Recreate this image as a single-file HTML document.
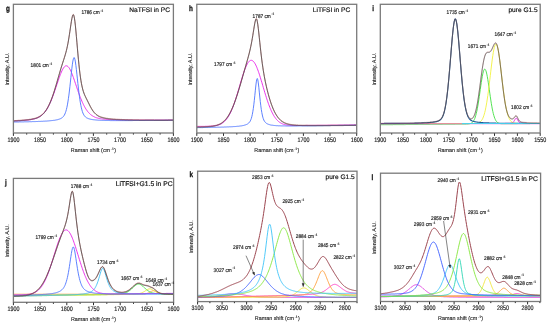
<!DOCTYPE html>
<html><head><meta charset="utf-8"><title>Raman spectra</title><style>html,body{margin:0;padding:0;background:#fff;overflow:hidden;}svg{display:block;}text{text-rendering:geometricPrecision;}</style></head>
<body>
<svg width="550" height="325" viewBox="0 0 550 325" font-family="'Liberation Sans', Arial, sans-serif">
<defs><marker id="arr" viewBox="0 0 10 10" refX="9" refY="5" markerWidth="6" markerHeight="6" orient="auto"><path d="M0,1 L10,5 L0,9 z" fill="#333"/></marker></defs>
<rect width="550" height="325" fill="#fff"/>
<clipPath id="cg"><rect x="13.4" y="4.3" width="160" height="128.7"/></clipPath>
<g clip-path="url(#cg)" fill="none" stroke-linejoin="round">
<polyline points="13.4,121 13.9,121 14.4,121 14.9,121 15.4,120.9 15.9,120.9 16.4,120.9 16.9,120.9 17.4,120.8 17.9,120.8 18.4,120.8 18.9,120.7 19.4,120.7 19.9,120.7 20.4,120.7 20.9,120.6 21.4,120.6 21.9,120.5 22.4,120.5 22.9,120.5 23.4,120.4 23.9,120.4 24.4,120.4 24.9,120.3 25.4,120.3 25.9,120.2 26.4,120.2 26.9,120.1 27.4,120.1 27.9,120 28.4,120 28.9,119.9 29.4,119.8 29.9,119.8 30.4,119.7 30.9,119.6 31.4,119.5 31.9,119.4 32.4,119.3 32.9,119.2 33.4,119.1 33.9,119 34.4,118.9 34.9,118.8 35.4,118.6 35.9,118.4 36.4,118.3 36.9,118.1 37.4,117.9 37.9,117.7 38.4,117.4 38.9,117.2 39.4,116.9 39.9,116.6 40.4,116.3 40.9,115.9 41.4,115.5 41.9,115.1 42.4,114.7 42.9,114.2 43.4,113.7 43.9,113.2 44.4,112.6 44.9,112 45.4,111.3 45.9,110.6 46.4,109.9 46.9,109.1 47.4,108.3 47.9,107.4 48.4,106.5 48.9,105.5 49.4,104.5 49.9,103.4 50.4,102.3 50.9,101.2 51.4,100 51.9,98.7 52.4,97.4 52.9,96.1 53.4,94.7 53.9,93.4 54.4,91.9 54.9,90.5 55.4,89 55.9,87.5 56.4,86 56.9,84.5 57.4,83 57.9,81.6 58.4,80.1 58.9,78.6 59.4,77.2 59.9,75.8 60.4,74.5 60.9,73.2 61.4,72 61.9,70.9 62.4,69.9 62.9,69 63.4,68.1 63.9,67.4 64.4,66.8 64.9,66.4 65.4,66 65.9,65.8 66.4,65.8 66.9,65.9 67.4,66.1 67.9,66.5 68.4,67 68.9,67.6 69.4,68.3 69.9,69.2 70.4,70.1 70.9,71.2 71.4,72.3 71.9,73.5 72.4,74.8 72.9,76.2 73.4,77.5 73.9,79 74.4,80.4 74.9,81.9 75.4,83.4 75.9,84.8 76.4,86.3 76.9,87.8 77.4,89.3 77.9,90.7 78.4,92.2 78.9,93.6 79.4,94.9 79.9,96.3 80.4,97.6 80.9,98.8 81.4,100 81.9,101.2 82.4,102.4 82.9,103.4 83.4,104.5 83.9,105.5 84.4,106.4 84.9,107.3 85.4,108.2 85.9,109 86.4,109.7 86.9,110.4 87.4,111.1 87.9,111.8 88.4,112.3 88.9,112.9 89.4,113.4 89.9,113.9 90.4,114.3 90.9,114.8 91.4,115.2 91.9,115.5 92.4,115.8 92.9,116.1 93.4,116.4 93.9,116.7 94.4,116.9 94.9,117.1 95.4,117.4 95.9,117.5 96.4,117.7 96.9,117.9 97.4,118 97.9,118.2 98.4,118.3 98.9,118.4 99.4,118.5 99.9,118.6 100.4,118.7 100.9,118.8 101.4,118.8 101.9,118.9 102.4,119 102.9,119 103.4,119.1 103.9,119.2 104.4,119.2 104.9,119.2 105.4,119.3 105.9,119.3 106.4,119.4 106.9,119.4 107.4,119.4 107.9,119.5 108.4,119.5 108.9,119.5 109.4,119.6 109.9,119.6 110.4,119.6 110.9,119.6 111.4,119.7 111.9,119.7 112.4,119.7 112.9,119.7 113.4,119.8 113.9,119.8 114.4,119.8 114.9,119.8 115.4,119.8 115.9,119.8 116.4,119.9 116.9,119.9 117.4,119.9 117.9,119.9 118.4,119.9 118.9,119.9 119.4,119.9 119.9,120 120.4,120 120.9,120 121.4,120 121.9,120 122.4,120 122.9,120 123.4,120 123.9,120 124.4,120.1 124.9,120.1 125.4,120.1 125.9,120.1 126.4,120.1 126.9,120.1 127.4,120.1 127.9,120.1 128.4,120.1 128.9,120.1 129.4,120.1 129.9,120.1 130.4,120.1 130.9,120.1 131.4,120.1 131.9,120.1 132.4,120.2 132.9,120.2 133.4,120.2 133.9,120.2 134.4,120.2 134.9,120.2 135.4,120.2 135.9,120.2 136.4,120.2 136.9,120.2 137.4,120.2 137.9,120.2 138.4,120.2 138.9,120.2 139.4,120.2 139.9,120.2 140.4,120.2 140.9,120.2 141.4,120.2 141.9,120.2 142.4,120.2 142.9,120.2 143.4,120.2 143.9,120.2 144.4,120.2 144.9,120.2 145.4,120.2 145.9,120.2 146.4,120.2 146.9,120.2 147.4,120.2 147.9,120.2 148.4,120.2 148.9,120.2 149.4,120.2 149.9,120.2 150.4,120.2 150.9,120.2 151.4,120.2 151.9,120.2 152.4,120.2 152.9,120.2 153.4,120.2 153.9,120.2 154.4,120.2 154.9,120.2 155.4,120.2 155.9,120.2 156.4,120.2 156.9,120.2 157.4,120.2 157.9,120.2 158.4,120.2 158.9,120.2 159.4,120.2 159.9,120.2 160.4,120.2 160.9,120.2 161.4,120.2 161.9,120.2 162.4,120.2 162.9,120.2 163.4,120.2 163.9,120.2 164.4,120.2 164.9,120.2 165.4,120.2 165.9,120.2 166.4,120.2 166.9,120.2 167.4,120.2 167.9,120.2 168.4,120.2 168.9,120.2 169.4,120.2 169.9,120.1 170.4,120.1 170.9,120.1 171.4,120.1 171.9,120.1 172.4,120.1 172.9,120.1 173.4,120.1" stroke="#e81ee8" stroke-width="0.9"/>
<polyline points="13.4,122.1 13.9,122.1 14.4,122 14.9,122 15.4,122 15.9,122 16.4,122 16.9,122 17.4,122 17.9,122 18.4,122 18.9,122 19.4,121.9 19.9,121.9 20.4,121.9 20.9,121.9 21.4,121.9 21.9,121.9 22.4,121.9 22.9,121.9 23.4,121.9 23.9,121.9 24.4,121.8 24.9,121.8 25.4,121.8 25.9,121.8 26.4,121.8 26.9,121.8 27.4,121.8 27.9,121.8 28.4,121.8 28.9,121.7 29.4,121.7 29.9,121.7 30.4,121.7 30.9,121.7 31.4,121.7 31.9,121.7 32.4,121.6 32.9,121.6 33.4,121.6 33.9,121.6 34.4,121.6 34.9,121.6 35.4,121.6 35.9,121.5 36.4,121.5 36.9,121.5 37.4,121.5 37.9,121.5 38.4,121.4 38.9,121.4 39.4,121.4 39.9,121.4 40.4,121.4 40.9,121.3 41.4,121.3 41.9,121.3 42.4,121.3 42.9,121.3 43.4,121.2 43.9,121.2 44.4,121.2 44.9,121.1 45.4,121.1 45.9,121.1 46.4,121.1 46.9,121 47.4,121 47.9,120.9 48.4,120.9 48.9,120.9 49.4,120.8 49.9,120.8 50.4,120.7 50.9,120.7 51.4,120.6 51.9,120.6 52.4,120.5 52.9,120.5 53.4,120.4 53.9,120.3 54.4,120.3 54.9,120.2 55.4,120.1 55.9,120 56.4,119.9 56.9,119.8 57.4,119.7 57.9,119.6 58.4,119.4 58.9,119.3 59.4,119.1 59.9,118.9 60.4,118.7 60.9,118.5 61.4,118.2 61.9,117.9 62.4,117.5 62.9,117 63.4,116.5 63.9,115.8 64.4,115 64.9,114 65.4,112.7 65.9,111.3 66.4,109.5 66.9,107.4 67.4,104.9 67.9,102 68.4,98.7 68.9,95.1 69.4,91 69.9,86.7 70.4,82.1 70.9,77.4 71.4,72.7 71.9,68.2 72.4,64.2 72.9,61 73.4,58.7 73.9,57.6 74.4,57.8 74.9,59.3 75.4,61.9 75.9,65.5 76.4,69.7 76.9,74.2 77.4,78.9 77.9,83.6 78.4,88.1 78.9,92.3 79.4,96.2 79.9,99.8 80.4,102.9 80.9,105.6 81.4,107.9 81.9,109.9 82.4,111.6 82.9,113 83.4,114.1 83.9,115 84.4,115.8 84.9,116.4 85.4,116.9 85.9,117.3 86.4,117.7 86.9,118 87.4,118.2 87.9,118.4 88.4,118.6 88.9,118.8 89.4,118.9 89.9,119.1 90.4,119.2 90.9,119.3 91.4,119.4 91.9,119.5 92.4,119.6 92.9,119.6 93.4,119.7 93.9,119.8 94.4,119.8 94.9,119.9 95.4,119.9 95.9,120 96.4,120 96.9,120.1 97.4,120.1 97.9,120.2 98.4,120.2 98.9,120.2 99.4,120.2 99.9,120.3 100.4,120.3 100.9,120.3 101.4,120.3 101.9,120.4 102.4,120.4 102.9,120.4 103.4,120.4 103.9,120.4 104.4,120.4 104.9,120.5 105.4,120.5 105.9,120.5 106.4,120.5 106.9,120.5 107.4,120.5 107.9,120.5 108.4,120.5 108.9,120.5 109.4,120.5 109.9,120.6 110.4,120.6 110.9,120.6 111.4,120.6 111.9,120.6 112.4,120.6 112.9,120.6 113.4,120.6 113.9,120.6 114.4,120.6 114.9,120.6 115.4,120.6 115.9,120.6 116.4,120.6 116.9,120.6 117.4,120.6 117.9,120.6 118.4,120.6 118.9,120.6 119.4,120.6 119.9,120.6 120.4,120.6 120.9,120.6 121.4,120.6 121.9,120.6 122.4,120.6 122.9,120.6 123.4,120.6 123.9,120.6 124.4,120.6 124.9,120.6 125.4,120.6 125.9,120.6 126.4,120.6 126.9,120.6 127.4,120.6 127.9,120.6 128.4,120.6 128.9,120.6 129.4,120.6 129.9,120.6 130.4,120.6 130.9,120.6 131.4,120.6 131.9,120.6 132.4,120.6 132.9,120.5 133.4,120.5 133.9,120.5 134.4,120.5 134.9,120.5 135.4,120.5 135.9,120.5 136.4,120.5 136.9,120.5 137.4,120.5 137.9,120.5 138.4,120.5 138.9,120.5 139.4,120.5 139.9,120.5 140.4,120.5 140.9,120.5 141.4,120.5 141.9,120.5 142.4,120.5 142.9,120.5 143.4,120.5 143.9,120.5 144.4,120.5 144.9,120.5 145.4,120.4 145.9,120.4 146.4,120.4 146.9,120.4 147.4,120.4 147.9,120.4 148.4,120.4 148.9,120.4 149.4,120.4 149.9,120.4 150.4,120.4 150.9,120.4 151.4,120.4 151.9,120.4 152.4,120.4 152.9,120.4 153.4,120.4 153.9,120.4 154.4,120.4 154.9,120.4 155.4,120.3 155.9,120.3 156.4,120.3 156.9,120.3 157.4,120.3 157.9,120.3 158.4,120.3 158.9,120.3 159.4,120.3 159.9,120.3 160.4,120.3 160.9,120.3 161.4,120.3 161.9,120.3 162.4,120.3 162.9,120.3 163.4,120.3 163.9,120.3 164.4,120.3 164.9,120.2 165.4,120.2 165.9,120.2 166.4,120.2 166.9,120.2 167.4,120.2 167.9,120.2 168.4,120.2 168.9,120.2 169.4,120.2 169.9,120.2 170.4,120.2 170.9,120.2 171.4,120.2 171.9,120.2 172.4,120.2 172.9,120.2 173.4,120.2" stroke="#4b73ff" stroke-width="0.9"/>
<polyline points="13.4,120.6 13.9,120.6 14.4,120.6 14.9,120.5 15.4,120.5 15.9,120.5 16.4,120.5 16.9,120.4 17.4,120.4 17.9,120.4 18.4,120.3 18.9,120.3 19.4,120.3 19.9,120.2 20.4,120.2 20.9,120.2 21.4,120.1 21.9,120.1 22.4,120 22.9,120 23.4,120 23.9,119.9 24.4,119.9 24.9,119.8 25.4,119.8 25.9,119.7 26.4,119.7 26.9,119.6 27.4,119.6 27.9,119.5 28.4,119.5 28.9,119.4 29.4,119.3 29.9,119.2 30.4,119.2 30.9,119.1 31.4,119 31.9,118.9 32.4,118.8 32.9,118.7 33.4,118.6 33.9,118.5 34.4,118.4 34.9,118.2 35.4,118.1 35.9,117.9 36.4,117.8 36.9,117.6 37.4,117.4 37.9,117.2 38.4,116.9 38.9,116.7 39.4,116.4 39.9,116.1 40.4,115.8 40.9,115.5 41.4,115.1 41.9,114.7 42.4,114.3 42.9,113.8 43.4,113.3 43.9,112.8 44.4,112.2 44.9,111.6 45.4,110.9 45.9,110.2 46.4,109.5 46.9,108.7 47.4,107.8 47.9,106.9 48.4,105.9 48.9,104.9 49.4,103.9 49.9,102.8 50.4,101.6 50.9,100.4 51.4,99.1 51.9,97.8 52.4,96.4 52.9,95 53.4,93.5 53.9,92 54.4,90.4 54.9,88.8 55.4,87.1 55.9,85.5 56.4,83.8 56.9,82.1 57.4,80.3 57.9,78.6 58.4,76.9 58.9,75.1 59.4,73.4 59.9,71.7 60.4,70 60.9,68.3 61.4,66.7 61.9,65.1 62.4,63.5 62.9,61.9 63.4,60.4 63.9,58.9 64.4,57.3 64.9,55.7 65.4,54 65.9,52.2 66.4,50.3 66.9,48.2 67.4,45.9 67.9,43.4 68.4,40.6 68.9,37.6 69.4,34.4 69.9,31.1 70.4,27.7 70.9,24.3 71.4,21.1 71.9,18.3 72.4,16.1 72.9,14.7 73.4,14.4 73.9,15.4 74.4,17.7 74.9,21.1 75.4,25.5 75.9,30.6 76.4,36.2 76.9,42 77.4,47.8 77.9,53.5 78.4,58.9 78.9,64 79.4,68.7 79.9,72.9 80.4,76.7 80.9,80 81.4,83 81.9,85.5 82.4,87.7 82.9,89.7 83.4,91.3 83.9,92.8 84.4,94.1 84.9,95.3 85.4,96.3 85.9,97.4 86.4,98.4 86.9,99.4 87.4,100.4 87.9,101.4 88.4,102.4 88.9,103.4 89.4,104.4 89.9,105.4 90.4,106.4 90.9,107.3 91.4,108.2 91.9,109 92.4,109.8 92.9,110.6 93.4,111.2 93.9,111.9 94.4,112.5 94.9,113 95.4,113.5 95.9,114 96.4,114.4 96.9,114.8 97.4,115.1 97.9,115.5 98.4,115.8 98.9,116 99.4,116.3 99.9,116.5 100.4,116.7 100.9,116.9 101.4,117 101.9,117.2 102.4,117.3 102.9,117.5 103.4,117.6 103.9,117.7 104.4,117.8 104.9,117.9 105.4,118 105.9,118.1 106.4,118.2 106.9,118.3 107.4,118.3 107.9,118.4 108.4,118.5 108.9,118.5 109.4,118.6 109.9,118.6 110.4,118.7 110.9,118.7 111.4,118.8 111.9,118.8 112.4,118.9 112.9,118.9 113.4,119 113.9,119 114.4,119 114.9,119.1 115.4,119.1 115.9,119.1 116.4,119.2 116.9,119.2 117.4,119.2 117.9,119.3 118.4,119.3 118.9,119.3 119.4,119.3 119.9,119.4 120.4,119.4 120.9,119.4 121.4,119.4 121.9,119.4 122.4,119.5 122.9,119.5 123.4,119.5 123.9,119.5 124.4,119.5 124.9,119.6 125.4,119.6 125.9,119.6 126.4,119.6 126.9,119.6 127.4,119.6 127.9,119.6 128.4,119.7 128.9,119.7 129.4,119.7 129.9,119.7 130.4,119.7 130.9,119.7 131.4,119.7 131.9,119.7 132.4,119.7 132.9,119.8 133.4,119.8 133.9,119.8 134.4,119.8 134.9,119.8 135.4,119.8 135.9,119.8 136.4,119.8 136.9,119.8 137.4,119.8 137.9,119.8 138.4,119.8 138.9,119.8 139.4,119.9 139.9,119.9 140.4,119.9 140.9,119.9 141.4,119.9 141.9,119.9 142.4,119.9 142.9,119.9 143.4,119.9 143.9,119.9 144.4,119.9 144.9,119.9 145.4,119.9 145.9,119.9 146.4,119.9 146.9,119.9 147.4,119.9 147.9,119.9 148.4,119.9 148.9,119.9 149.4,119.9 149.9,119.9 150.4,119.9 150.9,119.9 151.4,119.9 151.9,119.9 152.4,119.9 152.9,119.9 153.4,119.9 153.9,119.9 154.4,120 154.9,120 155.4,120 155.9,120 156.4,120 156.9,120 157.4,120 157.9,120 158.4,120 158.9,120 159.4,120 159.9,120 160.4,120 160.9,120 161.4,120 161.9,120 162.4,120 162.9,120 163.4,120 163.9,120 164.4,120 164.9,120 165.4,120 165.9,120 166.4,120 166.9,120 167.4,120 167.9,120 168.4,119.9 168.9,119.9 169.4,119.9 169.9,119.9 170.4,119.9 170.9,119.9 171.4,119.9 171.9,119.9 172.4,119.9 172.9,119.9 173.4,119.9" stroke="#b04040" stroke-width="0.55"/>
<polyline points="13.4,121 13.9,121 14.4,121 14.9,120.9 15.4,120.9 15.9,120.9 16.4,120.9 16.9,120.8 17.4,120.8 17.9,120.8 18.4,120.7 18.9,120.7 19.4,120.7 19.9,120.6 20.4,120.6 20.9,120.6 21.4,120.5 21.9,120.5 22.4,120.4 22.9,120.4 23.4,120.4 23.9,120.3 24.4,120.3 24.9,120.2 25.4,120.2 25.9,120.1 26.4,120.1 26.9,120 27.4,120 27.9,119.9 28.4,119.9 28.9,119.8 29.4,119.7 29.9,119.6 30.4,119.6 30.9,119.5 31.4,119.4 31.9,119.3 32.4,119.2 32.9,119.1 33.4,119 33.9,118.9 34.4,118.8 34.9,118.6 35.4,118.5 35.9,118.3 36.4,118.2 36.9,118 37.4,117.8 37.9,117.6 38.4,117.3 38.9,117.1 39.4,116.8 39.9,116.5 40.4,116.2 40.9,115.9 41.4,115.5 41.9,115.1 42.4,114.7 42.9,114.2 43.4,113.7 43.9,113.2 44.4,112.6 44.9,112 45.4,111.3 45.9,110.6 46.4,109.9 46.9,109.1 47.4,108.2 47.9,107.3 48.4,106.3 48.9,105.3 49.4,104.3 49.9,103.2 50.4,102 50.9,100.8 51.4,99.5 51.9,98.2 52.4,96.8 52.9,95.4 53.4,93.9 53.9,92.4 54.4,90.8 54.9,89.2 55.4,87.5 55.9,85.9 56.4,84.2 56.9,82.5 57.4,80.7 57.9,79 58.4,77.3 58.9,75.5 59.4,73.8 59.9,72.1 60.4,70.4 60.9,68.7 61.4,67.1 61.9,65.5 62.4,63.9 62.9,62.3 63.4,60.8 63.9,59.3 64.4,57.7 64.9,56.1 65.4,54.4 65.9,52.6 66.4,50.7 66.9,48.6 67.4,46.3 67.9,43.8 68.4,41 68.9,38 69.4,34.8 69.9,31.5 70.4,28.1 70.9,24.7 71.4,21.5 71.9,18.7 72.4,16.5 72.9,15.1 73.4,14.8 73.9,15.8 74.4,18.1 74.9,21.5 75.4,25.9 75.9,31 76.4,36.6 76.9,42.4 77.4,48.2 77.9,53.9 78.4,59.3 78.9,64.4 79.4,69.1 79.9,73.3 80.4,77.1 80.9,80.4 81.4,83.4 81.9,85.9 82.4,88.1 82.9,90.1 83.4,91.7 83.9,93.2 84.4,94.5 84.9,95.7 85.4,96.7 85.9,97.8 86.4,98.8 86.9,99.8 87.4,100.8 87.9,101.8 88.4,102.8 88.9,103.8 89.4,104.8 89.9,105.8 90.4,106.8 90.9,107.7 91.4,108.6 91.9,109.4 92.4,110.2 92.9,111 93.4,111.6 93.9,112.3 94.4,112.9 94.9,113.4 95.4,113.9 95.9,114.4 96.4,114.8 96.9,115.2 97.4,115.5 97.9,115.9 98.4,116.2 98.9,116.4 99.4,116.7 99.9,116.9 100.4,117.1 100.9,117.3 101.4,117.4 101.9,117.6 102.4,117.7 102.9,117.9 103.4,118 103.9,118.1 104.4,118.2 104.9,118.3 105.4,118.4 105.9,118.5 106.4,118.6 106.9,118.7 107.4,118.7 107.9,118.8 108.4,118.9 108.9,118.9 109.4,119 109.9,119 110.4,119.1 110.9,119.1 111.4,119.2 111.9,119.2 112.4,119.3 112.9,119.3 113.4,119.4 113.9,119.4 114.4,119.4 114.9,119.5 115.4,119.5 115.9,119.5 116.4,119.6 116.9,119.6 117.4,119.6 117.9,119.7 118.4,119.7 118.9,119.7 119.4,119.7 119.9,119.8 120.4,119.8 120.9,119.8 121.4,119.8 121.9,119.8 122.4,119.9 122.9,119.9 123.4,119.9 123.9,119.9 124.4,119.9 124.9,120 125.4,120 125.9,120 126.4,120 126.9,120 127.4,120 127.9,120 128.4,120.1 128.9,120.1 129.4,120.1 129.9,120.1 130.4,120.1 130.9,120.1 131.4,120.1 131.9,120.1 132.4,120.1 132.9,120.2 133.4,120.2 133.9,120.2 134.4,120.2 134.9,120.2 135.4,120.2 135.9,120.2 136.4,120.2 136.9,120.2 137.4,120.2 137.9,120.2 138.4,120.2 138.9,120.2 139.4,120.3 139.9,120.3 140.4,120.3 140.9,120.3 141.4,120.3 141.9,120.3 142.4,120.3 142.9,120.3 143.4,120.3 143.9,120.3 144.4,120.3 144.9,120.3 145.4,120.3 145.9,120.3 146.4,120.3 146.9,120.3 147.4,120.3 147.9,120.3 148.4,120.3 148.9,120.3 149.4,120.3 149.9,120.3 150.4,120.3 150.9,120.3 151.4,120.3 151.9,120.3 152.4,120.3 152.9,120.3 153.4,120.3 153.9,120.3 154.4,120.4 154.9,120.4 155.4,120.4 155.9,120.4 156.4,120.4 156.9,120.4 157.4,120.4 157.9,120.4 158.4,120.4 158.9,120.4 159.4,120.4 159.9,120.4 160.4,120.4 160.9,120.4 161.4,120.4 161.9,120.4 162.4,120.4 162.9,120.4 163.4,120.4 163.9,120.4 164.4,120.4 164.9,120.4 165.4,120.4 165.9,120.4 166.4,120.4 166.9,120.4 167.4,120.4 167.9,120.4 168.4,120.3 168.9,120.3 169.4,120.3 169.9,120.3 170.4,120.3 170.9,120.3 171.4,120.3 171.9,120.3 172.4,120.3 172.9,120.3 173.4,120.3" stroke="#505050" stroke-width="0.8"/>
</g>
<rect x="13.4" y="4.3" width="160" height="128.7" fill="none" stroke="#7a7a7a" stroke-width="1.3"/>
<text transform="translate(13.4,141.8) scale(1,1.22)" font-size="5.4" text-anchor="middle" fill="#222" stroke="#222" stroke-width="0.15">1900</text>
<text transform="translate(40.1,141.8) scale(1,1.22)" font-size="5.4" text-anchor="middle" fill="#222" stroke="#222" stroke-width="0.15">1850</text>
<text transform="translate(66.7,141.8) scale(1,1.22)" font-size="5.4" text-anchor="middle" fill="#222" stroke="#222" stroke-width="0.15">1800</text>
<text transform="translate(93.4,141.8) scale(1,1.22)" font-size="5.4" text-anchor="middle" fill="#222" stroke="#222" stroke-width="0.15">1750</text>
<text transform="translate(120.1,141.8) scale(1,1.22)" font-size="5.4" text-anchor="middle" fill="#222" stroke="#222" stroke-width="0.15">1700</text>
<text transform="translate(146.7,141.8) scale(1,1.22)" font-size="5.4" text-anchor="middle" fill="#222" stroke="#222" stroke-width="0.15">1650</text>
<text transform="translate(173.4,141.8) scale(1,1.22)" font-size="5.4" text-anchor="middle" fill="#222" stroke="#222" stroke-width="0.15">1600</text>
<path d="M13.4 133.3v2.6 M26.7 133.3v1.3 M40.1 133.3v2.6 M53.4 133.3v1.3 M66.7 133.3v2.6 M80.1 133.3v1.3 M93.4 133.3v2.6 M106.7 133.3v1.3 M120.1 133.3v2.6 M133.4 133.3v1.3 M146.7 133.3v2.6 M160.1 133.3v1.3 M173.4 133.3v2.6" stroke="#222" stroke-width="0.95" fill="none"/>
<text x="93.4" y="151.8" font-size="5.4" text-anchor="middle" fill="#222" stroke="#222" stroke-width="0.12">Raman shift (cm<tspan font-size="3.4" dx="0.7" dy="-2.1">-1</tspan><tspan dx="0.3" dy="2.1">)</tspan></text>
<text transform="translate(8.7,69.1) rotate(-90)" font-size="5.4" text-anchor="middle" fill="#222" stroke="#222" stroke-width="0.12">Intensity, A.U.</text>
<text transform="translate(5.9,11) scale(0.8,1)" font-size="7.9" font-weight="bold" fill="#111" stroke="#111" stroke-width="0.3">g</text>
<text x="170" y="12.2" font-size="6.6" text-anchor="end" fill="#111" stroke="#111" stroke-width="0.18">NaTFSI in PC</text>
<text transform="translate(81.4,14.2) scale(1,1.15)" font-size="4.75" fill="#222" stroke="#222" stroke-width="0.15">1786 cm<tspan font-size="3" dx="0.8" dy="-1.75">-1</tspan></text>
<text transform="translate(30.6,66.9) scale(1,1.15)" font-size="4.75" fill="#222" stroke="#222" stroke-width="0.15">1801 cm<tspan font-size="3" dx="0.8" dy="-1.75">-1</tspan></text>
<clipPath id="ch"><rect x="196.8" y="4.3" width="159.9" height="128.7"/></clipPath>
<g clip-path="url(#ch)" fill="none" stroke-linejoin="round">
<polyline points="196.8,126.4 197.3,126.4 197.8,126.4 198.3,126.4 198.8,126.4 199.3,126.4 199.8,126.4 200.3,126.4 200.8,126.4 201.3,126.4 201.8,126.4 202.3,126.4 202.8,126.4 203.3,126.4 203.8,126.4 204.3,126.4 204.8,126.4 205.3,126.3 205.8,126.3 206.3,126.3 206.8,126.3 207.3,126.3 207.8,126.3 208.3,126.3 208.8,126.3 209.3,126.2 209.8,126.2 210.3,126.2 210.8,126.2 211.3,126.1 211.8,126.1 212.3,126.1 212.8,126 213.3,126 213.8,125.9 214.3,125.9 214.8,125.8 215.3,125.7 215.8,125.6 216.3,125.5 216.8,125.4 217.3,125.3 217.8,125.2 218.3,125 218.8,124.9 219.3,124.7 219.8,124.5 220.3,124.3 220.8,124 221.3,123.8 221.8,123.5 222.3,123.2 222.8,122.8 223.3,122.5 223.8,122.1 224.3,121.6 224.8,121.1 225.3,120.6 225.8,120.1 226.3,119.5 226.8,118.8 227.3,118.2 227.8,117.4 228.3,116.6 228.8,115.8 229.3,114.9 229.8,114 230.3,113 230.8,112 231.3,110.9 231.8,109.7 232.3,108.5 232.8,107.3 233.3,105.9 233.8,104.6 234.3,103.2 234.8,101.7 235.3,100.2 235.8,98.7 236.3,97.1 236.8,95.5 237.3,93.9 237.8,92.2 238.3,90.5 238.8,88.8 239.3,87.1 239.8,85.4 240.3,83.7 240.8,82 241.3,80.3 241.8,78.7 242.3,77 242.8,75.4 243.3,73.9 243.8,72.4 244.3,71 244.8,69.6 245.3,68.3 245.8,67.1 246.3,65.9 246.8,64.9 247.3,63.9 247.8,63.1 248.3,62.3 248.8,61.7 249.3,61.2 249.8,60.8 250.3,60.5 250.8,60.3 251.3,60.3 251.8,60.4 252.3,60.6 252.8,60.9 253.3,61.3 253.8,61.9 254.3,62.5 254.8,63.3 255.3,64.1 255.8,65.1 256.3,66.2 256.8,67.3 257.3,68.6 257.8,69.9 258.3,71.3 258.8,72.7 259.3,74.2 259.8,75.8 260.3,77.4 260.8,79 261.3,80.7 261.8,82.3 262.3,84 262.8,85.7 263.3,87.4 263.8,89.1 264.3,90.8 264.8,92.5 265.3,94.1 265.8,95.7 266.3,97.3 266.8,98.9 267.3,100.4 267.8,101.9 268.3,103.3 268.8,104.7 269.3,106 269.8,107.3 270.3,108.5 270.8,109.7 271.3,110.8 271.8,111.9 272.3,112.9 272.8,113.9 273.3,114.8 273.8,115.7 274.3,116.5 274.8,117.2 275.3,117.9 275.8,118.6 276.3,119.2 276.8,119.8 277.3,120.3 277.8,120.8 278.3,121.3 278.8,121.7 279.3,122.1 279.8,122.4 280.3,122.7 280.8,123 281.3,123.3 281.8,123.6 282.3,123.8 282.8,124 283.3,124.2 283.8,124.3 284.3,124.5 284.8,124.6 285.3,124.7 285.8,124.8 286.3,124.9 286.8,125 287.3,125.1 287.8,125.1 288.3,125.2 288.8,125.2 289.3,125.3 289.8,125.3 290.3,125.4 290.8,125.4 291.3,125.4 291.8,125.4 292.3,125.4 292.8,125.5 293.3,125.5 293.8,125.5 294.3,125.5 294.8,125.5 295.3,125.5 295.8,125.5 296.3,125.5 296.8,125.5 297.3,125.5 297.8,125.5 298.3,125.5 298.8,125.5 299.3,125.5 299.8,125.5 300.3,125.5 300.8,125.5 301.3,125.5 301.8,125.5 302.3,125.5 302.8,125.5 303.3,125.5 303.8,125.5 304.3,125.5 304.8,125.5 305.3,125.5 305.8,125.4 306.3,125.4 306.8,125.4 307.3,125.4 307.8,125.4 308.3,125.4 308.8,125.4 309.3,125.4 309.8,125.4 310.3,125.4 310.8,125.4 311.3,125.4 311.8,125.4 312.3,125.4 312.8,125.4 313.3,125.4 313.8,125.4 314.3,125.4 314.8,125.4 315.3,125.4 315.8,125.4 316.3,125.4 316.8,125.3 317.3,125.3 317.8,125.3 318.3,125.3 318.8,125.3 319.3,125.3 319.8,125.3 320.3,125.3 320.8,125.3 321.3,125.3 321.8,125.3 322.3,125.3 322.8,125.3 323.3,125.3 323.8,125.3 324.3,125.3 324.8,125.3 325.3,125.3 325.8,125.3 326.3,125.3 326.8,125.3 327.3,125.3 327.8,125.2 328.3,125.2 328.8,125.2 329.3,125.2 329.8,125.2 330.3,125.2 330.8,125.2 331.3,125.2 331.8,125.2 332.3,125.2 332.8,125.2 333.3,125.2 333.8,125.2 334.3,125.2 334.8,125.2 335.3,125.2 335.8,125.2 336.3,125.2 336.8,125.2 337.3,125.2 337.8,125.2 338.3,125.2 338.8,125.1 339.3,125.1 339.8,125.1 340.3,125.1 340.8,125.1 341.3,125.1 341.8,125.1 342.3,125.1 342.8,125.1 343.3,125.1 343.8,125.1 344.3,125.1 344.8,125.1 345.3,125.1 345.8,125.1 346.3,125.1 346.8,125.1 347.3,125.1 347.8,125.1 348.3,125.1 348.8,125.1 349.3,125 349.8,125 350.3,125 350.8,125 351.3,125 351.8,125 352.3,125 352.8,125 353.3,125 353.8,125 354.3,125 354.8,125 355.3,125 355.8,125 356.3,125" stroke="#e81ee8" stroke-width="0.9"/>
<polyline points="196.8,127.7 197.3,127.7 197.8,127.7 198.3,127.6 198.8,127.6 199.3,127.6 199.8,127.6 200.3,127.6 200.8,127.6 201.3,127.6 201.8,127.6 202.3,127.6 202.8,127.6 203.3,127.5 203.8,127.5 204.3,127.5 204.8,127.5 205.3,127.5 205.8,127.5 206.3,127.5 206.8,127.5 207.3,127.5 207.8,127.5 208.3,127.4 208.8,127.4 209.3,127.4 209.8,127.4 210.3,127.4 210.8,127.4 211.3,127.4 211.8,127.4 212.3,127.4 212.8,127.3 213.3,127.3 213.8,127.3 214.3,127.3 214.8,127.3 215.3,127.3 215.8,127.3 216.3,127.3 216.8,127.2 217.3,127.2 217.8,127.2 218.3,127.2 218.8,127.2 219.3,127.2 219.8,127.2 220.3,127.2 220.8,127.1 221.3,127.1 221.8,127.1 222.3,127.1 222.8,127.1 223.3,127.1 223.8,127.1 224.3,127 224.8,127 225.3,127 225.8,127 226.3,127 226.8,126.9 227.3,126.9 227.8,126.9 228.3,126.9 228.8,126.9 229.3,126.8 229.8,126.8 230.3,126.8 230.8,126.8 231.3,126.8 231.8,126.7 232.3,126.7 232.8,126.7 233.3,126.6 233.8,126.6 234.3,126.6 234.8,126.5 235.3,126.5 235.8,126.5 236.3,126.4 236.8,126.4 237.3,126.3 237.8,126.3 238.3,126.3 238.8,126.2 239.3,126.1 239.8,126.1 240.3,126 240.8,125.9 241.3,125.9 241.8,125.8 242.3,125.7 242.8,125.6 243.3,125.5 243.8,125.4 244.3,125.2 244.8,125.1 245.3,124.9 245.8,124.8 246.3,124.6 246.8,124.3 247.3,124.1 247.8,123.8 248.3,123.4 248.8,123 249.3,122.4 249.8,121.8 250.3,120.9 250.8,119.8 251.3,118.5 251.8,116.7 252.3,114.5 252.8,111.8 253.3,108.6 253.8,104.8 254.3,100.5 254.8,95.7 255.3,90.8 255.8,86 256.3,81.9 256.8,79.3 257.3,78.5 257.8,79.8 258.3,82.9 258.8,87.2 259.3,92.1 259.8,97 260.3,101.6 260.8,105.8 261.3,109.5 261.8,112.5 262.3,115 262.8,117.1 263.3,118.7 263.8,120 264.3,121 264.8,121.7 265.3,122.3 265.8,122.8 266.3,123.2 266.8,123.6 267.3,123.8 267.8,124.1 268.3,124.3 268.8,124.4 269.3,124.6 269.8,124.7 270.3,124.9 270.8,125 271.3,125.1 271.8,125.2 272.3,125.2 272.8,125.3 273.3,125.4 273.8,125.4 274.3,125.5 274.8,125.5 275.3,125.6 275.8,125.6 276.3,125.7 276.8,125.7 277.3,125.7 277.8,125.7 278.3,125.8 278.8,125.8 279.3,125.8 279.8,125.8 280.3,125.8 280.8,125.9 281.3,125.9 281.8,125.9 282.3,125.9 282.8,125.9 283.3,125.9 283.8,125.9 284.3,125.9 284.8,125.9 285.3,125.9 285.8,126 286.3,126 286.8,126 287.3,126 287.8,126 288.3,126 288.8,126 289.3,126 289.8,126 290.3,126 290.8,126 291.3,126 291.8,126 292.3,126 292.8,126 293.3,126 293.8,126 294.3,126 294.8,126 295.3,126 295.8,126 296.3,126 296.8,126 297.3,126 297.8,125.9 298.3,125.9 298.8,125.9 299.3,125.9 299.8,125.9 300.3,125.9 300.8,125.9 301.3,125.9 301.8,125.9 302.3,125.9 302.8,125.9 303.3,125.9 303.8,125.9 304.3,125.9 304.8,125.9 305.3,125.9 305.8,125.9 306.3,125.9 306.8,125.9 307.3,125.9 307.8,125.9 308.3,125.8 308.8,125.8 309.3,125.8 309.8,125.8 310.3,125.8 310.8,125.8 311.3,125.8 311.8,125.8 312.3,125.8 312.8,125.8 313.3,125.8 313.8,125.8 314.3,125.8 314.8,125.8 315.3,125.8 315.8,125.8 316.3,125.8 316.8,125.7 317.3,125.7 317.8,125.7 318.3,125.7 318.8,125.7 319.3,125.7 319.8,125.7 320.3,125.7 320.8,125.7 321.3,125.7 321.8,125.7 322.3,125.7 322.8,125.7 323.3,125.7 323.8,125.6 324.3,125.6 324.8,125.6 325.3,125.6 325.8,125.6 326.3,125.6 326.8,125.6 327.3,125.6 327.8,125.6 328.3,125.6 328.8,125.6 329.3,125.6 329.8,125.6 330.3,125.6 330.8,125.5 331.3,125.5 331.8,125.5 332.3,125.5 332.8,125.5 333.3,125.5 333.8,125.5 334.3,125.5 334.8,125.5 335.3,125.5 335.8,125.5 336.3,125.5 336.8,125.5 337.3,125.5 337.8,125.4 338.3,125.4 338.8,125.4 339.3,125.4 339.8,125.4 340.3,125.4 340.8,125.4 341.3,125.4 341.8,125.4 342.3,125.4 342.8,125.4 343.3,125.4 343.8,125.4 344.3,125.3 344.8,125.3 345.3,125.3 345.8,125.3 346.3,125.3 346.8,125.3 347.3,125.3 347.8,125.3 348.3,125.3 348.8,125.3 349.3,125.3 349.8,125.3 350.3,125.3 350.8,125.2 351.3,125.2 351.8,125.2 352.3,125.2 352.8,125.2 353.3,125.2 353.8,125.2 354.3,125.2 354.8,125.2 355.3,125.2 355.8,125.2 356.3,125.2" stroke="#4b73ff" stroke-width="0.9"/>
<polyline points="196.8,126.9 197.3,126.9 197.8,126.9 198.3,126.8 198.8,126.8 199.3,126.8 199.8,126.8 200.3,126.8 200.8,126.8 201.3,126.7 201.8,126.7 202.3,126.7 202.8,126.7 203.3,126.7 203.8,126.6 204.3,126.6 204.8,126.6 205.3,126.6 205.8,126.5 206.3,126.5 206.8,126.5 207.3,126.5 207.8,126.4 208.3,126.4 208.8,126.3 209.3,126.3 209.8,126.3 210.3,126.2 210.8,126.2 211.3,126.1 211.8,126 212.3,126 212.8,125.9 213.3,125.8 213.8,125.7 214.3,125.6 214.8,125.5 215.3,125.4 215.8,125.3 216.3,125.2 216.8,125 217.3,124.8 217.8,124.7 218.3,124.5 218.8,124.3 219.3,124.1 219.8,123.8 220.3,123.6 220.8,123.3 221.3,123 221.8,122.7 222.3,122.3 222.8,121.9 223.3,121.5 223.8,121.1 224.3,120.6 224.8,120.1 225.3,119.6 225.8,119 226.3,118.4 226.8,117.8 227.3,117.1 227.8,116.4 228.3,115.6 228.8,114.8 229.3,113.9 229.8,113 230.3,112.1 230.8,111.1 231.3,110.1 231.8,109 232.3,107.9 232.8,106.7 233.3,105.5 233.8,104.3 234.3,103 234.8,101.6 235.3,100.2 235.8,98.8 236.3,97.3 236.8,95.8 237.3,94.3 237.8,92.7 238.3,91.1 238.8,89.5 239.3,87.9 239.8,86.2 240.3,84.5 240.8,82.8 241.3,81 241.8,79.3 242.3,77.6 242.8,75.8 243.3,74.1 243.8,72.3 244.3,70.5 244.8,68.8 245.3,67.1 245.8,65.3 246.3,63.6 246.8,61.8 247.3,60.1 247.8,58.3 248.3,56.5 248.8,54.6 249.3,52.7 249.8,50.6 250.3,48.5 250.8,46.1 251.3,43.7 251.8,41 252.3,38.2 252.8,35.2 253.3,32 253.8,28.9 254.3,25.8 254.8,22.9 255.3,20.6 255.8,19 256.3,18.5 256.8,19.2 257.3,21.2 257.8,24.3 258.3,28.2 258.8,32.6 259.3,37.4 259.8,42.1 260.3,46.8 260.8,51.4 261.3,55.6 261.8,59.7 262.3,63.4 262.8,66.9 263.3,70.2 263.8,73.2 264.3,76.1 264.8,78.7 265.3,81.3 265.8,83.6 266.3,85.9 266.8,88.1 267.3,90.1 267.8,92.1 268.3,94 268.8,95.8 269.3,97.5 269.8,99.2 270.3,100.8 270.8,102.3 271.3,103.8 271.8,105.1 272.3,106.4 272.8,107.7 273.3,108.9 273.8,110 274.3,111.1 274.8,112.1 275.3,113 275.8,113.9 276.3,114.7 276.8,115.5 277.3,116.2 277.8,116.9 278.3,117.6 278.8,118.1 279.3,118.7 279.8,119.2 280.3,119.7 280.8,120.2 281.3,120.6 281.8,121 282.3,121.3 282.8,121.6 283.3,121.9 283.8,122.2 284.3,122.5 284.8,122.7 285.3,122.9 285.8,123.1 286.3,123.3 286.8,123.5 287.3,123.6 287.8,123.8 288.3,123.9 288.8,124 289.3,124.1 289.8,124.2 290.3,124.3 290.8,124.4 291.3,124.5 291.8,124.5 292.3,124.6 292.8,124.7 293.3,124.7 293.8,124.8 294.3,124.8 294.8,124.9 295.3,124.9 295.8,124.9 296.3,125 296.8,125 297.3,125 297.8,125 298.3,125.1 298.8,125.1 299.3,125.1 299.8,125.1 300.3,125.1 300.8,125.1 301.3,125.1 301.8,125.2 302.3,125.2 302.8,125.2 303.3,125.2 303.8,125.2 304.3,125.2 304.8,125.2 305.3,125.2 305.8,125.2 306.3,125.2 306.8,125.2 307.3,125.2 307.8,125.3 308.3,125.3 308.8,125.3 309.3,125.3 309.8,125.3 310.3,125.3 310.8,125.3 311.3,125.3 311.8,125.3 312.3,125.3 312.8,125.3 313.3,125.3 313.8,125.3 314.3,125.3 314.8,125.3 315.3,125.3 315.8,125.3 316.3,125.3 316.8,125.3 317.3,125.3 317.8,125.3 318.3,125.3 318.8,125.3 319.3,125.3 319.8,125.3 320.3,125.3 320.8,125.3 321.3,125.3 321.8,125.3 322.3,125.3 322.8,125.3 323.3,125.3 323.8,125.3 324.3,125.3 324.8,125.3 325.3,125.3 325.8,125.3 326.3,125.3 326.8,125.3 327.3,125.3 327.8,125.3 328.3,125.3 328.8,125.3 329.3,125.3 329.8,125.3 330.3,125.3 330.8,125.2 331.3,125.2 331.8,125.2 332.3,125.2 332.8,125.2 333.3,125.2 333.8,125.2 334.3,125.2 334.8,125.2 335.3,125.2 335.8,125.2 336.3,125.2 336.8,125.2 337.3,125.2 337.8,125.2 338.3,125.2 338.8,125.2 339.3,125.2 339.8,125.2 340.3,125.2 340.8,125.2 341.3,125.2 341.8,125.2 342.3,125.2 342.8,125.2 343.3,125.2 343.8,125.1 344.3,125.1 344.8,125.1 345.3,125.1 345.8,125.1 346.3,125.1 346.8,125.1 347.3,125.1 347.8,125.1 348.3,125.1 348.8,125.1 349.3,125.1 349.8,125.1 350.3,125.1 350.8,125.1 351.3,125.1 351.8,125.1 352.3,125.1 352.8,125.1 353.3,125.1 353.8,125.1 354.3,125 354.8,125 355.3,125 355.8,125 356.3,125" stroke="#b04040" stroke-width="0.55"/>
<polyline points="196.8,127.3 197.3,127.3 197.8,127.3 198.3,127.2 198.8,127.2 199.3,127.2 199.8,127.2 200.3,127.2 200.8,127.2 201.3,127.1 201.8,127.1 202.3,127.1 202.8,127.1 203.3,127.1 203.8,127 204.3,127 204.8,127 205.3,127 205.8,126.9 206.3,126.9 206.8,126.9 207.3,126.9 207.8,126.8 208.3,126.8 208.8,126.7 209.3,126.7 209.8,126.7 210.3,126.6 210.8,126.6 211.3,126.5 211.8,126.4 212.3,126.4 212.8,126.3 213.3,126.2 213.8,126.1 214.3,126 214.8,125.9 215.3,125.8 215.8,125.7 216.3,125.6 216.8,125.4 217.3,125.2 217.8,125.1 218.3,124.9 218.8,124.7 219.3,124.5 219.8,124.2 220.3,124 220.8,123.7 221.3,123.4 221.8,123.1 222.3,122.7 222.8,122.3 223.3,121.9 223.8,121.5 224.3,121 224.8,120.5 225.3,120 225.8,119.4 226.3,118.8 226.8,118.2 227.3,117.5 227.8,116.8 228.3,116 228.8,115.2 229.3,114.3 229.8,113.4 230.3,112.5 230.8,111.5 231.3,110.5 231.8,109.4 232.3,108.3 232.8,107.1 233.3,105.9 233.8,104.7 234.3,103.4 234.8,102 235.3,100.6 235.8,99.2 236.3,97.7 236.8,96.2 237.3,94.7 237.8,93.1 238.3,91.5 238.8,89.9 239.3,88.3 239.8,86.6 240.3,84.9 240.8,83.2 241.3,81.4 241.8,79.7 242.3,78 242.8,76.2 243.3,74.5 243.8,72.7 244.3,70.9 244.8,69.2 245.3,67.5 245.8,65.7 246.3,64 246.8,62.2 247.3,60.5 247.8,58.7 248.3,56.9 248.8,55 249.3,53.1 249.8,51 250.3,48.9 250.8,46.5 251.3,44.1 251.8,41.4 252.3,38.6 252.8,35.6 253.3,32.4 253.8,29.3 254.3,26.2 254.8,23.3 255.3,21 255.8,19.4 256.3,18.9 256.8,19.6 257.3,21.6 257.8,24.7 258.3,28.6 258.8,33 259.3,37.8 259.8,42.5 260.3,47.2 260.8,51.8 261.3,56 261.8,60.1 262.3,63.8 262.8,67.3 263.3,70.6 263.8,73.6 264.3,76.5 264.8,79.1 265.3,81.7 265.8,84 266.3,86.3 266.8,88.5 267.3,90.5 267.8,92.5 268.3,94.4 268.8,96.2 269.3,97.9 269.8,99.6 270.3,101.2 270.8,102.7 271.3,104.2 271.8,105.5 272.3,106.8 272.8,108.1 273.3,109.3 273.8,110.4 274.3,111.5 274.8,112.5 275.3,113.4 275.8,114.3 276.3,115.1 276.8,115.9 277.3,116.6 277.8,117.3 278.3,118 278.8,118.5 279.3,119.1 279.8,119.6 280.3,120.1 280.8,120.6 281.3,121 281.8,121.4 282.3,121.7 282.8,122 283.3,122.3 283.8,122.6 284.3,122.9 284.8,123.1 285.3,123.3 285.8,123.5 286.3,123.7 286.8,123.9 287.3,124 287.8,124.2 288.3,124.3 288.8,124.4 289.3,124.5 289.8,124.6 290.3,124.7 290.8,124.8 291.3,124.9 291.8,124.9 292.3,125 292.8,125.1 293.3,125.1 293.8,125.2 294.3,125.2 294.8,125.3 295.3,125.3 295.8,125.3 296.3,125.4 296.8,125.4 297.3,125.4 297.8,125.4 298.3,125.5 298.8,125.5 299.3,125.5 299.8,125.5 300.3,125.5 300.8,125.5 301.3,125.5 301.8,125.6 302.3,125.6 302.8,125.6 303.3,125.6 303.8,125.6 304.3,125.6 304.8,125.6 305.3,125.6 305.8,125.6 306.3,125.6 306.8,125.6 307.3,125.6 307.8,125.7 308.3,125.7 308.8,125.7 309.3,125.7 309.8,125.7 310.3,125.7 310.8,125.7 311.3,125.7 311.8,125.7 312.3,125.7 312.8,125.7 313.3,125.7 313.8,125.7 314.3,125.7 314.8,125.7 315.3,125.7 315.8,125.7 316.3,125.7 316.8,125.7 317.3,125.7 317.8,125.7 318.3,125.7 318.8,125.7 319.3,125.7 319.8,125.7 320.3,125.7 320.8,125.7 321.3,125.7 321.8,125.7 322.3,125.7 322.8,125.7 323.3,125.7 323.8,125.7 324.3,125.7 324.8,125.7 325.3,125.7 325.8,125.7 326.3,125.7 326.8,125.7 327.3,125.7 327.8,125.7 328.3,125.7 328.8,125.7 329.3,125.7 329.8,125.7 330.3,125.7 330.8,125.6 331.3,125.6 331.8,125.6 332.3,125.6 332.8,125.6 333.3,125.6 333.8,125.6 334.3,125.6 334.8,125.6 335.3,125.6 335.8,125.6 336.3,125.6 336.8,125.6 337.3,125.6 337.8,125.6 338.3,125.6 338.8,125.6 339.3,125.6 339.8,125.6 340.3,125.6 340.8,125.6 341.3,125.6 341.8,125.6 342.3,125.6 342.8,125.6 343.3,125.6 343.8,125.5 344.3,125.5 344.8,125.5 345.3,125.5 345.8,125.5 346.3,125.5 346.8,125.5 347.3,125.5 347.8,125.5 348.3,125.5 348.8,125.5 349.3,125.5 349.8,125.5 350.3,125.5 350.8,125.5 351.3,125.5 351.8,125.5 352.3,125.5 352.8,125.5 353.3,125.5 353.8,125.5 354.3,125.4 354.8,125.4 355.3,125.4 355.8,125.4 356.3,125.4" stroke="#505050" stroke-width="0.8"/>
</g>
<rect x="196.8" y="4.3" width="159.9" height="128.7" fill="none" stroke="#7a7a7a" stroke-width="1.3"/>
<text transform="translate(196.8,141.8) scale(1,1.22)" font-size="5.4" text-anchor="middle" fill="#222" stroke="#222" stroke-width="0.15">1900</text>
<text transform="translate(223.5,141.8) scale(1,1.22)" font-size="5.4" text-anchor="middle" fill="#222" stroke="#222" stroke-width="0.15">1850</text>
<text transform="translate(250.1,141.8) scale(1,1.22)" font-size="5.4" text-anchor="middle" fill="#222" stroke="#222" stroke-width="0.15">1800</text>
<text transform="translate(276.8,141.8) scale(1,1.22)" font-size="5.4" text-anchor="middle" fill="#222" stroke="#222" stroke-width="0.15">1750</text>
<text transform="translate(303.4,141.8) scale(1,1.22)" font-size="5.4" text-anchor="middle" fill="#222" stroke="#222" stroke-width="0.15">1700</text>
<text transform="translate(330,141.8) scale(1,1.22)" font-size="5.4" text-anchor="middle" fill="#222" stroke="#222" stroke-width="0.15">1650</text>
<text transform="translate(356.7,141.8) scale(1,1.22)" font-size="5.4" text-anchor="middle" fill="#222" stroke="#222" stroke-width="0.15">1600</text>
<path d="M196.8 133.3v2.6 M210.1 133.3v1.3 M223.5 133.3v2.6 M236.8 133.3v1.3 M250.1 133.3v2.6 M263.4 133.3v1.3 M276.8 133.3v2.6 M290.1 133.3v1.3 M303.4 133.3v2.6 M316.7 133.3v1.3 M330 133.3v2.6 M343.4 133.3v1.3 M356.7 133.3v2.6" stroke="#222" stroke-width="0.95" fill="none"/>
<text x="276.8" y="151.8" font-size="5.4" text-anchor="middle" fill="#222" stroke="#222" stroke-width="0.12">Raman shift (cm<tspan font-size="3.4" dx="0.7" dy="-2.1">-1</tspan><tspan dx="0.3" dy="2.1">)</tspan></text>
<text transform="translate(192.1,69.1) rotate(-90)" font-size="5.4" text-anchor="middle" fill="#222" stroke="#222" stroke-width="0.12">Intensity, A.U.</text>
<text transform="translate(188.9,10.7) scale(0.8,1)" font-size="7.9" font-weight="bold" fill="#111" stroke="#111" stroke-width="0.3">h</text>
<text x="350.2" y="12.2" font-size="6.6" text-anchor="end" fill="#111" stroke="#111" stroke-width="0.18">LiTFSI in PC</text>
<text transform="translate(252.6,17.5) scale(1,1.15)" font-size="4.75" fill="#222" stroke="#222" stroke-width="0.15">1787 cm<tspan font-size="3" dx="0.8" dy="-1.75">-1</tspan></text>
<text transform="translate(214,66.1) scale(1,1.15)" font-size="4.75" fill="#222" stroke="#222" stroke-width="0.15">1797 cm<tspan font-size="3" dx="0.8" dy="-1.75">-1</tspan></text>
<clipPath id="ci"><rect x="380.3" y="4.3" width="159.9" height="128.7"/></clipPath>
<g clip-path="url(#ci)" fill="none" stroke-linejoin="round">
<polyline points="380.3,123.5 380.8,123.5 381.3,123.5 381.8,123.5 382.3,123.5 382.8,123.5 383.3,123.5 383.8,123.5 384.3,123.5 384.8,123.5 385.3,123.5 385.8,123.5 386.3,123.5 386.8,123.5 387.3,123.5 387.8,123.5 388.3,123.5 388.8,123.5 389.3,123.5 389.8,123.5 390.3,123.5 390.8,123.5 391.3,123.5 391.8,123.5 392.3,123.5 392.8,123.5 393.3,123.5 393.8,123.5 394.3,123.5 394.8,123.5 395.3,123.5 395.8,123.5 396.3,123.5 396.8,123.5 397.3,123.5 397.8,123.5 398.3,123.5 398.8,123.5 399.3,123.5 399.8,123.5 400.3,123.5 400.8,123.5 401.3,123.5 401.8,123.5 402.3,123.5 402.8,123.5 403.3,123.5 403.8,123.5 404.3,123.5 404.8,123.5 405.3,123.5 405.8,123.5 406.3,123.5 406.8,123.5 407.3,123.5 407.8,123.5 408.3,123.5 408.8,123.5 409.3,123.5 409.8,123.5 410.3,123.5 410.8,123.5 411.3,123.5 411.8,123.5 412.3,123.5 412.8,123.5 413.3,123.5 413.8,123.5 414.3,123.5 414.8,123.5 415.3,123.5 415.8,123.5 416.3,123.5 416.8,123.5 417.3,123.5 417.8,123.5 418.3,123.5 418.8,123.5 419.3,123.5 419.8,123.5 420.3,123.5 420.8,123.5 421.3,123.5 421.8,123.5 422.3,123.5 422.8,123.5 423.3,123.5 423.8,123.5 424.3,123.5 424.8,123.5 425.3,123.5 425.8,123.5 426.3,123.5 426.8,123.5 427.3,123.5 427.8,123.5 428.3,123.5 428.8,123.5 429.3,123.5 429.8,123.5 430.3,123.5 430.8,123.5 431.3,123.5 431.8,123.5 432.3,123.5 432.8,123.5 433.3,123.5 433.8,123.5 434.3,123.5 434.8,123.5 435.3,123.5 435.8,123.5 436.3,123.5 436.8,123.5 437.3,123.5 437.8,123.5 438.3,123.5 438.8,123.5 439.3,123.5 439.8,123.5 440.3,123.5 440.8,123.5 441.3,123.5 441.8,123.5 442.3,123.5 442.8,123.5 443.3,123.5 443.8,123.5 444.3,123.5 444.8,123.5 445.3,123.5 445.8,123.5 446.3,123.5 446.8,123.5 447.3,123.5 447.8,123.5 448.3,123.5 448.8,123.5 449.3,123.5 449.8,123.5 450.3,123.5 450.8,123.5 451.3,123.5 451.8,123.5 452.3,123.5 452.8,123.5 453.3,123.5 453.8,123.5 454.3,123.5 454.8,123.5 455.3,123.5 455.8,123.5 456.3,123.5 456.8,123.5 457.3,123.5 457.8,123.5 458.3,123.5 458.8,123.5 459.3,123.5 459.8,123.5 460.3,123.5 460.8,123.5 461.3,123.5 461.8,123.5 462.3,123.5 462.8,123.5 463.3,123.5 463.8,123.5 464.3,123.5 464.8,123.5 465.3,123.5 465.8,123.5 466.3,123.5 466.8,123.5 467.3,123.5 467.8,123.5 468.3,123.5 468.8,123.5 469.3,123.5 469.8,123.5 470.3,123.5 470.8,123.5 471.3,123.5 471.8,123.5 472.3,123.5 472.8,123.5 473.3,123.5 473.8,123.5 474.3,123.5 474.8,123.5 475.3,123.5 475.8,123.5 476.3,123.5 476.8,123.5 477.3,123.5 477.8,123.5 478.3,123.5 478.8,123.5 479.3,123.5 479.8,123.5 480.3,123.5 480.8,123.5 481.3,123.5 481.8,123.5 482.3,123.5 482.8,123.5 483.3,123.5 483.8,123.5 484.3,123.5 484.8,123.5 485.3,123.5 485.8,123.5 486.3,123.5 486.8,123.5 487.3,123.5 487.8,123.5 488.3,123.5 488.8,123.5 489.3,123.5 489.8,123.5 490.3,123.5 490.8,123.5 491.3,123.5 491.8,123.5 492.3,123.5 492.8,123.5 493.3,123.5 493.8,123.5 494.3,123.5 494.8,123.5 495.3,123.5 495.8,123.5 496.3,123.5 496.8,123.5 497.3,123.5 497.8,123.5 498.3,123.5 498.8,123.5 499.3,123.5 499.8,123.5 500.3,123.5 500.8,123.5 501.3,123.5 501.8,123.5 502.3,123.5 502.8,123.5 503.3,123.5 503.8,123.5 504.3,123.5 504.8,123.5 505.3,123.4 505.8,123.4 506.3,123.4 506.8,123.4 507.3,123.4 507.8,123.4 508.3,123.4 508.8,123.4 509.3,123.4 509.8,123.4 510.3,123.3 510.8,123.3 511.3,123.2 511.8,123.1 512.3,122.9 512.8,122.6 513.3,122.1 513.8,121.5 514.3,120.7 514.8,119.8 515.3,119 515.8,118.4 516.3,118.2 516.8,118.6 517.3,119.3 517.8,120.1 518.3,121 518.8,121.8 519.3,122.3 519.8,122.7 520.3,123 520.8,123.2 521.3,123.2 521.8,123.3 522.3,123.3 522.8,123.4 523.3,123.4 523.8,123.4 524.3,123.4 524.8,123.4 525.3,123.4 525.8,123.4 526.3,123.4 526.8,123.4 527.3,123.5 527.8,123.5 528.3,123.5 528.8,123.5 529.3,123.5 529.8,123.5 530.3,123.5 530.8,123.5 531.3,123.5 531.8,123.5 532.3,123.5 532.8,123.5 533.3,123.5 533.8,123.5 534.3,123.5 534.8,123.5 535.3,123.5 535.8,123.5 536.3,123.5 536.8,123.5 537.3,123.5 537.8,123.5 538.3,123.5 538.8,123.5 539.3,123.5 539.8,123.5" stroke="#e81ee8" stroke-width="0.9"/>
<polyline points="380.3,124.8 380.8,124.7 381.3,124.7 381.8,124.7 382.3,124.7 382.8,124.7 383.3,124.7 383.8,124.7 384.3,124.7 384.8,124.7 385.3,124.7 385.8,124.7 386.3,124.7 386.8,124.7 387.3,124.7 387.8,124.7 388.3,124.7 388.8,124.7 389.3,124.7 389.8,124.7 390.3,124.7 390.8,124.7 391.3,124.7 391.8,124.7 392.3,124.7 392.8,124.7 393.3,124.6 393.8,124.6 394.3,124.6 394.8,124.6 395.3,124.6 395.8,124.6 396.3,124.6 396.8,124.6 397.3,124.6 397.8,124.6 398.3,124.6 398.8,124.6 399.3,124.6 399.8,124.6 400.3,124.6 400.8,124.6 401.3,124.6 401.8,124.6 402.3,124.6 402.8,124.6 403.3,124.6 403.8,124.6 404.3,124.6 404.8,124.6 405.3,124.6 405.8,124.5 406.3,124.5 406.8,124.5 407.3,124.5 407.8,124.5 408.3,124.5 408.8,124.5 409.3,124.5 409.8,124.5 410.3,124.5 410.8,124.5 411.3,124.5 411.8,124.5 412.3,124.5 412.8,124.5 413.3,124.5 413.8,124.5 414.3,124.5 414.8,124.5 415.3,124.5 415.8,124.5 416.3,124.5 416.8,124.5 417.3,124.5 417.8,124.4 418.3,124.4 418.8,124.4 419.3,124.4 419.8,124.4 420.3,124.4 420.8,124.4 421.3,124.4 421.8,124.4 422.3,124.4 422.8,124.4 423.3,124.4 423.8,124.4 424.3,124.4 424.8,124.4 425.3,124.4 425.8,124.4 426.3,124.4 426.8,124.4 427.3,124.4 427.8,124.4 428.3,124.4 428.8,124.4 429.3,124.4 429.8,124.4 430.3,124.3 430.8,124.3 431.3,124.3 431.8,124.3 432.3,124.3 432.8,124.3 433.3,124.3 433.8,124.3 434.3,124.3 434.8,124.3 435.3,124.3 435.8,124.3 436.3,124.3 436.8,124.3 437.3,124.3 437.8,124.3 438.3,124.3 438.8,124.3 439.3,124.3 439.8,124.3 440.3,124.3 440.8,124.3 441.3,124.3 441.8,124.3 442.3,124.3 442.8,124.2 443.3,124.2 443.8,124.2 444.3,124.2 444.8,124.2 445.3,124.2 445.8,124.2 446.3,124.2 446.8,124.2 447.3,124.2 447.8,124.2 448.3,124.2 448.8,124.2 449.3,124.2 449.8,124.2 450.3,124.2 450.8,124.2 451.3,124.2 451.8,124.2 452.3,124.2 452.8,124.2 453.3,124.2 453.8,124.2 454.3,124.2 454.8,124.2 455.3,124.1 455.8,124.1 456.3,124.1 456.8,124.1 457.3,124.1 457.8,124.1 458.3,124.1 458.8,124.1 459.3,124.1 459.8,124.1 460.3,124.1 460.8,124.1 461.3,124.1 461.8,124.1 462.3,124.1 462.8,124.1 463.3,124.1 463.8,124.1 464.3,124.1 464.8,124.1 465.3,124.1 465.8,124.1 466.3,124 466.8,124 467.3,124 467.8,124 468.3,123.9 468.8,123.9 469.3,123.8 469.8,123.7 470.3,123.6 470.8,123.4 471.3,123.2 471.8,122.9 472.3,122.5 472.8,122 473.3,121.3 473.8,120.5 474.3,119.6 474.8,118.4 475.3,117 475.8,115.3 476.3,113.4 476.8,111.2 477.3,108.8 477.8,106 478.3,103 478.8,99.8 479.3,96.4 479.8,92.9 480.3,89.3 480.8,85.8 481.3,82.4 481.8,79.2 482.3,76.3 482.8,73.8 483.3,71.8 483.8,70.3 484.3,69.4 484.8,69.1 485.3,69.5 485.8,70.5 486.3,72 486.8,74.1 487.3,76.6 487.8,79.5 488.3,82.7 488.8,86.2 489.3,89.7 489.8,93.2 490.3,96.7 490.8,100.1 491.3,103.3 491.8,106.2 492.3,109 492.8,111.4 493.3,113.5 493.8,115.4 494.3,117 494.8,118.4 495.3,119.5 495.8,120.5 496.3,121.2 496.8,121.8 497.3,122.3 497.8,122.7 498.3,123 498.8,123.2 499.3,123.4 499.8,123.5 500.3,123.6 500.8,123.6 501.3,123.7 501.8,123.7 502.3,123.7 502.8,123.7 503.3,123.7 503.8,123.7 504.3,123.7 504.8,123.7 505.3,123.7 505.8,123.7 506.3,123.7 506.8,123.7 507.3,123.7 507.8,123.7 508.3,123.7 508.8,123.7 509.3,123.7 509.8,123.7 510.3,123.7 510.8,123.7 511.3,123.7 511.8,123.7 512.3,123.7 512.8,123.7 513.3,123.7 513.8,123.7 514.3,123.7 514.8,123.7 515.3,123.7 515.8,123.7 516.3,123.7 516.8,123.7 517.3,123.7 517.8,123.6 518.3,123.6 518.8,123.6 519.3,123.6 519.8,123.6 520.3,123.6 520.8,123.6 521.3,123.6 521.8,123.6 522.3,123.6 522.8,123.6 523.3,123.6 523.8,123.6 524.3,123.6 524.8,123.6 525.3,123.6 525.8,123.6 526.3,123.6 526.8,123.6 527.3,123.6 527.8,123.6 528.3,123.6 528.8,123.6 529.3,123.6 529.8,123.6 530.3,123.5 530.8,123.5 531.3,123.5 531.8,123.5 532.3,123.5 532.8,123.5 533.3,123.5 533.8,123.5 534.3,123.5 534.8,123.5 535.3,123.5 535.8,123.5 536.3,123.5 536.8,123.5 537.3,123.5 537.8,123.5 538.3,123.5 538.8,123.5 539.3,123.5 539.8,123.5" stroke="#3fe03f" stroke-width="0.9"/>
<polyline points="380.3,123.5 380.8,123.5 381.3,123.5 381.8,123.5 382.3,123.5 382.8,123.5 383.3,123.5 383.8,123.5 384.3,123.5 384.8,123.5 385.3,123.5 385.8,123.5 386.3,123.5 386.8,123.5 387.3,123.5 387.8,123.5 388.3,123.5 388.8,123.5 389.3,123.5 389.8,123.5 390.3,123.5 390.8,123.5 391.3,123.5 391.8,123.5 392.3,123.5 392.8,123.5 393.3,123.5 393.8,123.5 394.3,123.5 394.8,123.5 395.3,123.5 395.8,123.5 396.3,123.5 396.8,123.5 397.3,123.5 397.8,123.5 398.3,123.5 398.8,123.5 399.3,123.5 399.8,123.5 400.3,123.5 400.8,123.5 401.3,123.5 401.8,123.5 402.3,123.5 402.8,123.5 403.3,123.5 403.8,123.5 404.3,123.5 404.8,123.5 405.3,123.5 405.8,123.5 406.3,123.5 406.8,123.5 407.3,123.5 407.8,123.5 408.3,123.5 408.8,123.5 409.3,123.5 409.8,123.5 410.3,123.5 410.8,123.5 411.3,123.5 411.8,123.5 412.3,123.5 412.8,123.5 413.3,123.5 413.8,123.5 414.3,123.5 414.8,123.5 415.3,123.5 415.8,123.5 416.3,123.5 416.8,123.5 417.3,123.5 417.8,123.5 418.3,123.5 418.8,123.5 419.3,123.5 419.8,123.5 420.3,123.5 420.8,123.5 421.3,123.5 421.8,123.5 422.3,123.5 422.8,123.5 423.3,123.5 423.8,123.5 424.3,123.5 424.8,123.5 425.3,123.5 425.8,123.5 426.3,123.5 426.8,123.5 427.3,123.5 427.8,123.5 428.3,123.5 428.8,123.5 429.3,123.5 429.8,123.5 430.3,123.5 430.8,123.5 431.3,123.5 431.8,123.5 432.3,123.5 432.8,123.5 433.3,123.5 433.8,123.5 434.3,123.5 434.8,123.5 435.3,123.5 435.8,123.5 436.3,123.5 436.8,123.5 437.3,123.5 437.8,123.5 438.3,123.5 438.8,123.5 439.3,123.5 439.8,123.5 440.3,123.5 440.8,123.5 441.3,123.5 441.8,123.5 442.3,123.5 442.8,123.5 443.3,123.5 443.8,123.5 444.3,123.5 444.8,123.5 445.3,123.5 445.8,123.5 446.3,123.5 446.8,123.5 447.3,123.5 447.8,123.5 448.3,123.5 448.8,123.5 449.3,123.5 449.8,123.5 450.3,123.5 450.8,123.5 451.3,123.5 451.8,123.5 452.3,123.5 452.8,123.5 453.3,123.5 453.8,123.5 454.3,123.5 454.8,123.5 455.3,123.5 455.8,123.5 456.3,123.5 456.8,123.5 457.3,123.5 457.8,123.5 458.3,123.5 458.8,123.5 459.3,123.5 459.8,123.5 460.3,123.5 460.8,123.5 461.3,123.5 461.8,123.5 462.3,123.5 462.8,123.5 463.3,123.5 463.8,123.5 464.3,123.5 464.8,123.5 465.3,123.5 465.8,123.5 466.3,123.5 466.8,123.5 467.3,123.5 467.8,123.5 468.3,123.5 468.8,123.5 469.3,123.5 469.8,123.5 470.3,123.5 470.8,123.5 471.3,123.5 471.8,123.5 472.3,123.5 472.8,123.5 473.3,123.5 473.8,123.5 474.3,123.5 474.8,123.4 475.3,123.4 475.8,123.4 476.3,123.3 476.8,123.3 477.3,123.2 477.8,123.1 478.3,122.9 478.8,122.7 479.3,122.5 479.8,122.2 480.3,121.8 480.8,121.4 481.3,120.8 481.8,120.1 482.3,119.3 482.8,118.3 483.3,117.1 483.8,115.7 484.3,114.1 484.8,112.3 485.3,110.2 485.8,107.8 486.3,105.1 486.8,102.2 487.3,99 487.8,95.6 488.3,91.9 488.8,88 489.3,83.9 489.8,79.7 490.3,75.5 490.8,71.2 491.3,67 491.8,63 492.3,59.1 492.8,55.6 493.3,52.4 493.8,49.7 494.3,47.5 494.8,45.8 495.3,44.7 495.8,44.2 496.3,44.3 496.8,45.1 497.3,46.4 497.8,48.3 498.3,50.8 498.8,53.7 499.3,57 499.8,60.7 500.3,64.6 500.8,68.7 501.3,73 501.8,77.2 502.3,81.5 502.8,85.6 503.3,89.6 503.8,93.5 504.3,97 504.8,100.4 505.3,103.5 505.8,106.3 506.3,108.8 506.8,111.1 507.3,113.1 507.8,114.8 508.3,116.3 508.8,117.6 509.3,118.7 509.8,119.6 510.3,120.4 510.8,121 511.3,121.6 511.8,122 512.3,122.3 512.8,122.6 513.3,122.8 513.8,123 514.3,123.1 514.8,123.2 515.3,123.3 515.8,123.3 516.3,123.4 516.8,123.4 517.3,123.4 517.8,123.5 518.3,123.5 518.8,123.5 519.3,123.5 519.8,123.5 520.3,123.5 520.8,123.5 521.3,123.5 521.8,123.5 522.3,123.5 522.8,123.5 523.3,123.5 523.8,123.5 524.3,123.5 524.8,123.5 525.3,123.5 525.8,123.5 526.3,123.5 526.8,123.5 527.3,123.5 527.8,123.5 528.3,123.5 528.8,123.5 529.3,123.5 529.8,123.5 530.3,123.5 530.8,123.5 531.3,123.5 531.8,123.5 532.3,123.5 532.8,123.5 533.3,123.5 533.8,123.5 534.3,123.5 534.8,123.5 535.3,123.5 535.8,123.5 536.3,123.5 536.8,123.5 537.3,123.5 537.8,123.5 538.3,123.5 538.8,123.5 539.3,123.5 539.8,123.5" stroke="#f2f23c" stroke-width="0.9"/>
<polyline points="380.3,123.5 380.8,123.5 381.3,123.5 381.8,123.5 382.3,123.5 382.8,123.5 383.3,123.5 383.8,123.5 384.3,123.4 384.8,123.4 385.3,123.4 385.8,123.4 386.3,123.4 386.8,123.4 387.3,123.4 387.8,123.4 388.3,123.4 388.8,123.4 389.3,123.4 389.8,123.4 390.3,123.4 390.8,123.4 391.3,123.4 391.8,123.4 392.3,123.4 392.8,123.4 393.3,123.4 393.8,123.4 394.3,123.4 394.8,123.4 395.3,123.4 395.8,123.4 396.3,123.4 396.8,123.4 397.3,123.4 397.8,123.4 398.3,123.4 398.8,123.4 399.3,123.4 399.8,123.4 400.3,123.3 400.8,123.3 401.3,123.3 401.8,123.3 402.3,123.3 402.8,123.3 403.3,123.3 403.8,123.3 404.3,123.3 404.8,123.3 405.3,123.3 405.8,123.3 406.3,123.3 406.8,123.3 407.3,123.3 407.8,123.3 408.3,123.3 408.8,123.2 409.3,123.2 409.8,123.2 410.3,123.2 410.8,123.2 411.3,123.2 411.8,123.2 412.3,123.2 412.8,123.2 413.3,123.2 413.8,123.2 414.3,123.2 414.8,123.1 415.3,123.1 415.8,123.1 416.3,123.1 416.8,123.1 417.3,123.1 417.8,123.1 418.3,123.1 418.8,123 419.3,123 419.8,123 420.3,123 420.8,123 421.3,123 421.8,122.9 422.3,122.9 422.8,122.9 423.3,122.9 423.8,122.8 424.3,122.8 424.8,122.8 425.3,122.8 425.8,122.7 426.3,122.7 426.8,122.7 427.3,122.7 427.8,122.6 428.3,122.6 428.8,122.6 429.3,122.5 429.8,122.5 430.3,122.4 430.8,122.4 431.3,122.3 431.8,122.3 432.3,122.2 432.8,122.2 433.3,122.1 433.8,122 434.3,122 434.8,121.9 435.3,121.8 435.8,121.7 436.3,121.6 436.8,121.5 437.3,121.3 437.8,121.2 438.3,121 438.8,120.8 439.3,120.5 439.8,120.2 440.3,119.8 440.8,119.3 441.3,118.8 441.8,118.1 442.3,117.2 442.8,116.2 443.3,115 443.8,113.5 444.3,111.8 444.8,109.7 445.3,107.3 445.8,104.5 446.3,101.3 446.8,97.7 447.3,93.7 447.8,89.2 448.3,84.3 448.8,79 449.3,73.4 449.8,67.5 450.3,61.4 450.8,55.3 451.3,49.1 451.8,43.1 452.3,37.5 452.8,32.3 453.3,27.7 453.8,24 454.3,21.1 454.8,19.4 455.3,18.8 455.8,19.3 456.3,21.1 456.8,23.8 457.3,27.6 457.8,32.1 458.3,37.3 458.8,42.9 459.3,48.9 459.8,55 460.3,61.2 460.8,67.3 461.3,73.2 461.8,78.8 462.3,84.1 462.8,89 463.3,93.5 463.8,97.6 464.3,101.2 464.8,104.4 465.3,107.2 465.8,109.6 466.3,111.7 466.8,113.5 467.3,114.9 467.8,116.2 468.3,117.2 468.8,118.1 469.3,118.8 469.8,119.3 470.3,119.8 470.8,120.2 471.3,120.5 471.8,120.8 472.3,121 472.8,121.2 473.3,121.3 473.8,121.5 474.3,121.6 474.8,121.7 475.3,121.8 475.8,121.9 476.3,122 476.8,122 477.3,122.1 477.8,122.2 478.3,122.2 478.8,122.3 479.3,122.3 479.8,122.4 480.3,122.4 480.8,122.5 481.3,122.5 481.8,122.6 482.3,122.6 482.8,122.6 483.3,122.7 483.8,122.7 484.3,122.7 484.8,122.7 485.3,122.8 485.8,122.8 486.3,122.8 486.8,122.8 487.3,122.9 487.8,122.9 488.3,122.9 488.8,122.9 489.3,123 489.8,123 490.3,123 490.8,123 491.3,123 491.8,123 492.3,123.1 492.8,123.1 493.3,123.1 493.8,123.1 494.3,123.1 494.8,123.1 495.3,123.1 495.8,123.1 496.3,123.2 496.8,123.2 497.3,123.2 497.8,123.2 498.3,123.2 498.8,123.2 499.3,123.2 499.8,123.2 500.3,123.2 500.8,123.2 501.3,123.2 501.8,123.2 502.3,123.3 502.8,123.3 503.3,123.3 503.8,123.3 504.3,123.3 504.8,123.3 505.3,123.3 505.8,123.3 506.3,123.3 506.8,123.3 507.3,123.3 507.8,123.3 508.3,123.3 508.8,123.3 509.3,123.3 509.8,123.3 510.3,123.3 510.8,123.4 511.3,123.4 511.8,123.4 512.3,123.4 512.8,123.4 513.3,123.4 513.8,123.4 514.3,123.4 514.8,123.4 515.3,123.4 515.8,123.4 516.3,123.4 516.8,123.4 517.3,123.4 517.8,123.4 518.3,123.4 518.8,123.4 519.3,123.4 519.8,123.4 520.3,123.4 520.8,123.4 521.3,123.4 521.8,123.4 522.3,123.4 522.8,123.4 523.3,123.4 523.8,123.4 524.3,123.4 524.8,123.4 525.3,123.4 525.8,123.4 526.3,123.4 526.8,123.5 527.3,123.5 527.8,123.5 528.3,123.5 528.8,123.5 529.3,123.5 529.8,123.5 530.3,123.5 530.8,123.5 531.3,123.5 531.8,123.5 532.3,123.5 532.8,123.5 533.3,123.5 533.8,123.5 534.3,123.5 534.8,123.5 535.3,123.5 535.8,123.5 536.3,123.5 536.8,123.5 537.3,123.5 537.8,123.5 538.3,123.5 538.8,123.5 539.3,123.5 539.8,123.5" stroke="#1e5a9a" stroke-width="1.1"/>
<line x1="380" y1="123.8" x2="541" y2="123.8" stroke="#e040e0" stroke-width="0.6"/>
<line x1="462" y1="123.5" x2="541" y2="123.5" stroke="#3fd8f0" stroke-width="0.9"/>
<polyline points="380.3,123.2 380.8,123.2 381.3,123.2 381.8,123.2 382.3,123.2 382.8,123.2 383.3,123.2 383.8,123.2 384.3,123.2 384.8,123.2 385.3,123.2 385.8,123.2 386.3,123.2 386.8,123.2 387.3,123.2 387.8,123.2 388.3,123.2 388.8,123.2 389.3,123.2 389.8,123.2 390.3,123.2 390.8,123.1 391.3,123.1 391.8,123.1 392.3,123.1 392.8,123.1 393.3,123.1 393.8,123.1 394.3,123.1 394.8,123.1 395.3,123.1 395.8,123.1 396.3,123.1 396.8,123.1 397.3,123.1 397.8,123.1 398.3,123.1 398.8,123.1 399.3,123.1 399.8,123.1 400.3,123.1 400.8,123 401.3,123 401.8,123 402.3,123 402.8,123 403.3,123 403.8,123 404.3,123 404.8,123 405.3,123 405.8,123 406.3,123 406.8,123 407.3,123 407.8,122.9 408.3,122.9 408.8,122.9 409.3,122.9 409.8,122.9 410.3,122.9 410.8,122.9 411.3,122.9 411.8,122.9 412.3,122.9 412.8,122.8 413.3,122.8 413.8,122.8 414.3,122.8 414.8,122.8 415.3,122.8 415.8,122.8 416.3,122.8 416.8,122.7 417.3,122.7 417.8,122.7 418.3,122.7 418.8,122.7 419.3,122.7 419.8,122.6 420.3,122.6 420.8,122.6 421.3,122.6 421.8,122.6 422.3,122.5 422.8,122.5 423.3,122.5 423.8,122.5 424.3,122.4 424.8,122.4 425.3,122.4 425.8,122.4 426.3,122.3 426.8,122.3 427.3,122.3 427.8,122.2 428.3,122.2 428.8,122.2 429.3,122.1 429.8,122.1 430.3,122 430.8,122 431.3,121.9 431.8,121.9 432.3,121.8 432.8,121.8 433.3,121.7 433.8,121.6 434.3,121.5 434.8,121.5 435.3,121.4 435.8,121.3 436.3,121.2 436.8,121 437.3,120.9 437.8,120.7 438.3,120.5 438.8,120.3 439.3,120 439.8,119.7 440.3,119.3 440.8,118.8 441.3,118.2 441.8,117.4 442.3,116.6 442.8,115.5 443.3,114.2 443.8,112.7 444.3,110.9 444.8,108.8 445.3,106.3 445.8,103.5 446.3,100.3 446.8,96.6 447.3,92.6 447.8,88.1 448.3,83.2 448.8,78 449.3,72.4 449.8,66.6 450.3,60.6 450.8,54.5 451.3,48.4 451.8,42.6 452.3,37 452.8,31.9 453.3,27.5 453.8,23.8 454.3,21 454.8,19.3 455.3,18.7 455.8,19.2 456.3,20.8 456.8,23.5 457.3,27.1 457.8,31.6 458.3,36.6 458.8,42.1 459.3,48 459.8,54 460.3,60.1 460.8,66.1 461.3,71.9 461.8,77.5 462.3,82.8 462.8,87.7 463.3,92.2 463.8,96.3 464.3,100 464.8,103.2 465.3,106 465.8,108.5 466.3,110.6 466.8,112.4 467.3,113.9 467.8,115.2 468.3,116.2 468.8,117 469.3,117.6 469.8,118 470.3,118.3 470.8,118.5 471.3,118.5 471.8,118.3 472.3,118 472.8,117.6 473.3,116.9 473.8,116.1 474.3,115 474.8,113.7 475.3,112.2 475.8,110.4 476.3,108.3 476.8,106 477.3,103.4 477.8,100.5 478.3,97.3 478.8,93.9 479.3,90.4 479.8,86.7 480.3,82.9 480.8,79.1 481.3,75.3 481.8,71.7 482.3,68.3 482.8,65.1 483.3,62.2 483.8,59.7 484.3,57.5 484.8,55.7 485.3,54.3 485.8,53.3 486.3,52.6 486.8,52.2 487.3,52 487.8,51.9 488.3,51.9 488.8,51.9 489.3,51.9 489.8,51.6 490.3,51.3 490.8,50.7 491.3,50 491.8,49.1 492.3,48 492.8,46.9 493.3,45.7 493.8,44.6 494.3,43.7 494.8,43 495.3,42.6 495.8,42.7 496.3,43.1 496.8,44.1 497.3,45.6 497.8,47.6 498.3,50.1 498.8,53.1 499.3,56.5 499.8,60.3 500.3,64.4 500.8,68.6 501.3,73 501.8,77.4 502.3,81.8 502.8,86.1 503.3,90.2 503.8,94 504.3,97.6 504.8,100.9 505.3,103.9 505.8,106.5 506.3,108.8 506.8,110.8 507.3,112.5 507.8,113.9 508.3,115.1 508.8,116 509.3,116.8 509.8,117.4 510.3,117.8 510.8,118.2 511.3,118.4 511.8,118.6 512.3,118.6 512.8,118.5 513.3,118.2 513.8,117.8 514.3,117.2 514.8,116.5 515.3,115.8 515.8,115.4 516.3,115.5 516.8,116 517.3,116.8 517.8,117.9 518.3,118.9 518.8,119.8 519.3,120.5 519.8,121 520.3,121.3 520.8,121.6 521.3,121.8 521.8,121.9 522.3,122 522.8,122.1 523.3,122.2 523.8,122.2 524.3,122.3 524.8,122.3 525.3,122.4 525.8,122.4 526.3,122.4 526.8,122.5 527.3,122.5 527.8,122.5 528.3,122.5 528.8,122.5 529.3,122.6 529.8,122.6 530.3,122.6 530.8,122.6 531.3,122.6 531.8,122.6 532.3,122.6 532.8,122.6 533.3,122.7 533.8,122.7 534.3,122.7 534.8,122.7 535.3,122.7 535.8,122.7 536.3,122.7 536.8,122.7 537.3,122.7 537.8,122.7 538.3,122.7 538.8,122.7 539.3,122.7 539.8,122.7" stroke="#a05050" stroke-width="0.4"/>
<polyline points="380.3,123.8 380.8,123.8 381.3,123.8 381.8,123.8 382.3,123.8 382.8,123.8 383.3,123.8 383.8,123.8 384.3,123.7 384.8,123.7 385.3,123.7 385.8,123.7 386.3,123.7 386.8,123.7 387.3,123.7 387.8,123.7 388.3,123.7 388.8,123.7 389.3,123.7 389.8,123.7 390.3,123.7 390.8,123.7 391.3,123.7 391.8,123.7 392.3,123.7 392.8,123.7 393.3,123.7 393.8,123.7 394.3,123.7 394.8,123.7 395.3,123.7 395.8,123.6 396.3,123.6 396.8,123.6 397.3,123.6 397.8,123.6 398.3,123.6 398.8,123.6 399.3,123.6 399.8,123.6 400.3,123.6 400.8,123.6 401.3,123.6 401.8,123.6 402.3,123.6 402.8,123.6 403.3,123.6 403.8,123.6 404.3,123.5 404.8,123.5 405.3,123.5 405.8,123.5 406.3,123.5 406.8,123.5 407.3,123.5 407.8,123.5 408.3,123.5 408.8,123.5 409.3,123.5 409.8,123.5 410.3,123.4 410.8,123.4 411.3,123.4 411.8,123.4 412.3,123.4 412.8,123.4 413.3,123.4 413.8,123.4 414.3,123.4 414.8,123.3 415.3,123.3 415.8,123.3 416.3,123.3 416.8,123.3 417.3,123.3 417.8,123.3 418.3,123.2 418.8,123.2 419.3,123.2 419.8,123.2 420.3,123.2 420.8,123.2 421.3,123.1 421.8,123.1 422.3,123.1 422.8,123.1 423.3,123 423.8,123 424.3,123 424.8,123 425.3,122.9 425.8,122.9 426.3,122.9 426.8,122.9 427.3,122.8 427.8,122.8 428.3,122.7 428.8,122.7 429.3,122.7 429.8,122.6 430.3,122.6 430.8,122.5 431.3,122.5 431.8,122.4 432.3,122.4 432.8,122.3 433.3,122.2 433.8,122.2 434.3,122.1 434.8,122 435.3,121.9 435.8,121.8 436.3,121.7 436.8,121.6 437.3,121.4 437.8,121.3 438.3,121.1 438.8,120.8 439.3,120.6 439.8,120.2 440.3,119.8 440.8,119.3 441.3,118.7 441.8,118 442.3,117.1 442.8,116 443.3,114.8 443.8,113.3 444.3,111.5 444.8,109.3 445.3,106.9 445.8,104.1 446.3,100.8 446.8,97.2 447.3,93.1 447.8,88.7 448.3,83.8 448.8,78.5 449.3,73 449.8,67.1 450.3,61.1 450.8,55 451.3,49 451.8,43.1 452.3,37.6 452.8,32.5 453.3,28 453.8,24.3 454.3,21.6 454.8,19.8 455.3,19.2 455.8,19.8 456.3,21.4 456.8,24.1 457.3,27.7 457.8,32.1 458.3,37.1 458.8,42.7 459.3,48.5 459.8,54.6 460.3,60.6 460.8,66.6 461.3,72.5 461.8,78.1 462.3,83.3 462.8,88.2 463.3,92.8 463.8,96.8 464.3,100.5 464.8,103.7 465.3,106.6 465.8,109.1 466.3,111.2 466.8,113 467.3,114.5 467.8,115.7 468.3,116.7 468.8,117.5 469.3,118.1 469.8,118.6 470.3,118.9 470.8,119 471.3,119 471.8,118.9 472.3,118.6 472.8,118.1 473.3,117.5 473.8,116.6 474.3,115.6 474.8,114.3 475.3,112.8 475.8,111 476.3,108.9 476.8,106.5 477.3,103.9 477.8,101 478.3,97.9 478.8,94.5 479.3,90.9 479.8,87.2 480.3,83.4 480.8,79.6 481.3,75.9 481.8,72.3 482.3,68.8 482.8,65.6 483.3,62.8 483.8,60.2 484.3,58.1 484.8,56.3 485.3,54.9 485.8,53.9 486.3,53.2 486.8,52.8 487.3,52.6 487.8,52.5 488.3,52.5 488.8,52.5 489.3,52.4 489.8,52.2 490.3,51.8 490.8,51.3 491.3,50.5 491.8,49.6 492.3,48.6 492.8,47.4 493.3,46.3 493.8,45.2 494.3,44.3 494.8,43.6 495.3,43.2 495.8,43.2 496.3,43.7 496.8,44.6 497.3,46.1 497.8,48.1 498.3,50.6 498.8,53.6 499.3,57.1 499.8,60.8 500.3,64.9 500.8,69.2 501.3,73.6 501.8,78 502.3,82.4 502.8,86.6 503.3,90.7 503.8,94.6 504.3,98.2 504.8,101.5 505.3,104.4 505.8,107 506.3,109.4 506.8,111.3 507.3,113 507.8,114.5 508.3,115.6 508.8,116.6 509.3,117.3 509.8,117.9 510.3,118.4 510.8,118.7 511.3,119 511.8,119.1 512.3,119.1 512.8,119 513.3,118.8 513.8,118.3 514.3,117.7 514.8,117 515.3,116.4 515.8,116 516.3,116 516.8,116.5 517.3,117.4 517.8,118.4 518.3,119.4 518.8,120.3 519.3,121 519.8,121.5 520.3,121.9 520.8,122.1 521.3,122.3 521.8,122.5 522.3,122.6 522.8,122.6 523.3,122.7 523.8,122.8 524.3,122.8 524.8,122.9 525.3,122.9 525.8,122.9 526.3,123 526.8,123 527.3,123 527.8,123.1 528.3,123.1 528.8,123.1 529.3,123.1 529.8,123.1 530.3,123.1 530.8,123.2 531.3,123.2 531.8,123.2 532.3,123.2 532.8,123.2 533.3,123.2 533.8,123.2 534.3,123.2 534.8,123.2 535.3,123.2 535.8,123.2 536.3,123.2 536.8,123.2 537.3,123.3 537.8,123.3 538.3,123.3 538.8,123.3 539.3,123.3 539.8,123.3" stroke="#505050" stroke-width="0.6"/>
</g>
<rect x="380.3" y="4.3" width="159.9" height="128.7" fill="none" stroke="#7a7a7a" stroke-width="1.3"/>
<text transform="translate(380.3,141.8) scale(1,1.22)" font-size="5.4" text-anchor="middle" fill="#222" stroke="#222" stroke-width="0.15">1900</text>
<text transform="translate(403.1,141.8) scale(1,1.22)" font-size="5.4" text-anchor="middle" fill="#222" stroke="#222" stroke-width="0.15">1850</text>
<text transform="translate(426,141.8) scale(1,1.22)" font-size="5.4" text-anchor="middle" fill="#222" stroke="#222" stroke-width="0.15">1800</text>
<text transform="translate(448.8,141.8) scale(1,1.22)" font-size="5.4" text-anchor="middle" fill="#222" stroke="#222" stroke-width="0.15">1750</text>
<text transform="translate(471.7,141.8) scale(1,1.22)" font-size="5.4" text-anchor="middle" fill="#222" stroke="#222" stroke-width="0.15">1700</text>
<text transform="translate(494.5,141.8) scale(1,1.22)" font-size="5.4" text-anchor="middle" fill="#222" stroke="#222" stroke-width="0.15">1650</text>
<text transform="translate(517.4,141.8) scale(1,1.22)" font-size="5.4" text-anchor="middle" fill="#222" stroke="#222" stroke-width="0.15">1600</text>
<text transform="translate(540.2,141.8) scale(1,1.22)" font-size="5.4" text-anchor="middle" fill="#222" stroke="#222" stroke-width="0.15">1550</text>
<path d="M380.3 133.3v2.6 M391.7 133.3v1.3 M403.1 133.3v2.6 M414.6 133.3v1.3 M426 133.3v2.6 M437.4 133.3v1.3 M448.8 133.3v2.6 M460.2 133.3v1.3 M471.7 133.3v2.6 M483.1 133.3v1.3 M494.5 133.3v2.6 M505.9 133.3v1.3 M517.4 133.3v2.6 M528.8 133.3v1.3 M540.2 133.3v2.6" stroke="#222" stroke-width="0.95" fill="none"/>
<text x="460.2" y="151.8" font-size="5.4" text-anchor="middle" fill="#222" stroke="#222" stroke-width="0.12">Raman shift (cm<tspan font-size="3.4" dx="0.7" dy="-2.1">-1</tspan><tspan dx="0.3" dy="2.1">)</tspan></text>
<text transform="translate(375.6,69.1) rotate(-90)" font-size="5.4" text-anchor="middle" fill="#222" stroke="#222" stroke-width="0.12">Intensity, A.U.</text>
<text transform="translate(372.2,10.5) scale(0.8,1)" font-size="7.9" font-weight="bold" fill="#111" stroke="#111" stroke-width="0.3">i</text>
<text x="537.6" y="12.3" font-size="6.55" text-anchor="end" fill="#111" stroke="#111" stroke-width="0.18">pure G1.5</text>
<text transform="translate(446.6,14.1) scale(1,1.15)" font-size="4.75" fill="#222" stroke="#222" stroke-width="0.15">1735 cm<tspan font-size="3" dx="0.8" dy="-1.75">-1</tspan></text>
<text transform="translate(467.8,48.1) scale(1,1.15)" font-size="4.75" fill="#222" stroke="#222" stroke-width="0.15">1671 cm<tspan font-size="3" dx="0.8" dy="-1.75">-1</tspan></text>
<text transform="translate(494.5,36.1) scale(1,1.15)" font-size="4.75" fill="#222" stroke="#222" stroke-width="0.15">1647 cm<tspan font-size="3" dx="0.8" dy="-1.75">-1</tspan></text>
<text transform="translate(511,109.1) scale(1,1.15)" font-size="4.75" fill="#222" stroke="#222" stroke-width="0.15">1602 cm<tspan font-size="3" dx="0.8" dy="-1.75">-1</tspan></text>
<clipPath id="cj"><rect x="13.4" y="178.4" width="160.2" height="123.9"/></clipPath>
<g clip-path="url(#cj)" fill="none" stroke-linejoin="round">
<polyline points="13.4,294.2 13.9,294.2 14.4,294.2 14.9,294.2 15.4,294.2 15.9,294.2 16.4,294.2 16.9,294.2 17.4,294.2 17.9,294.2 18.4,294.2 18.9,294.2 19.4,294.2 19.9,294.2 20.4,294.2 20.9,294.2 21.4,294.2 21.9,294.2 22.4,294.2 22.9,294.2 23.4,294.2 23.9,294.2 24.4,294.2 24.9,294.2 25.4,294.2 25.9,294.2 26.4,294.2 26.9,294.2 27.4,294.2 27.9,294.2 28.4,294.2 28.9,294.2 29.4,294.2 29.9,294.2 30.4,294.2 30.9,294.2 31.4,294.2 31.9,294.2 32.4,294.2 32.9,294.2 33.4,294.2 33.9,294.2 34.4,294.2 34.9,294.2 35.4,294.2 35.9,294.2 36.4,294.2 36.9,294.2 37.4,294.2 37.9,294.2 38.4,294.2 38.9,294.2 39.4,294.2 39.9,294.2 40.4,294.2 40.9,294.2 41.4,294.2 41.9,294.2 42.4,294.2 42.9,294.2 43.4,294.2 43.9,294.2 44.4,294.2 44.9,294.2 45.4,294.2 45.9,294.2 46.4,294.2 46.9,294.2 47.4,294.2 47.9,294.2 48.4,294.2 48.9,294.2 49.4,294.2 49.9,294.2 50.4,294.2 50.9,294.2 51.4,294.2 51.9,294.2 52.4,294.2 52.9,294.2 53.4,294.2 53.9,294.2 54.4,294.2 54.9,294.2 55.4,294.2 55.9,294.2 56.4,294.2 56.9,294.2 57.4,294.2 57.9,294.2 58.4,294.2 58.9,294.2 59.4,294.2 59.9,294.2 60.4,294.2 60.9,294.2 61.4,294.2 61.9,294.2 62.4,294.2 62.9,294.2 63.4,294.2 63.9,294.2 64.4,294.2 64.9,294.2 65.4,294.2 65.9,294.2 66.4,294.2 66.9,294.2 67.4,294.2 67.9,294.2 68.4,294.2 68.9,294.2 69.4,294.2 69.9,294.2 70.4,294.2 70.9,294.2 71.4,294.2 71.9,294.2 72.4,294.2 72.9,294.2 73.4,294.2 73.9,294.2 74.4,294.2 74.9,294.2 75.4,294.2 75.9,294.2 76.4,294.2 76.9,294.2 77.4,294.2 77.9,294.2 78.4,294.2 78.9,294.2 79.4,294.2 79.9,294.2 80.4,294.2 80.9,294.2 81.4,294.2 81.9,294.2 82.4,294.2 82.9,294.2 83.4,294.2 83.9,294.2 84.4,294.2 84.9,294.2 85.4,294.2 85.9,294.2 86.4,294.2 86.9,294.2 87.4,294.2 87.9,294.2 88.4,294.2 88.9,294.2 89.4,294.2 89.9,294.2 90.4,294.2 90.9,294.2 91.4,294.2 91.9,294.2 92.4,294.2 92.9,294.2 93.4,294.2 93.9,294.2 94.4,294.2 94.9,294.2 95.4,294.2 95.9,294.2 96.4,294.2 96.9,294.2 97.4,294.2 97.9,294.2 98.4,294.2 98.9,294.2 99.4,294.2 99.9,294.2 100.4,294.2 100.9,294.2 101.4,294.2 101.9,294.2 102.4,294.2 102.9,294.2 103.4,294.2 103.9,294.2 104.4,294.2 104.9,294.2 105.4,294.2 105.9,294.2 106.4,294.2 106.9,294.2 107.4,294.2 107.9,294.2 108.4,294.2 108.9,294.2 109.4,294.2 109.9,294.2 110.4,294.2 110.9,294.2 111.4,294.2 111.9,294.2 112.4,294.2 112.9,294.2 113.4,294.2 113.9,294.2 114.4,294.2 114.9,294.2 115.4,294.2 115.9,294.2 116.4,294.2 116.9,294.2 117.4,294.2 117.9,294.2 118.4,294.2 118.9,294.2 119.4,294.2 119.9,294.2 120.4,294.2 120.9,294.2 121.4,294.2 121.9,294.2 122.4,294.2 122.9,294.2 123.4,294.2 123.9,294.2 124.4,294.2 124.9,294.2 125.4,294.2 125.9,294.2 126.4,294.2 126.9,294.2 127.4,294.2 127.9,294.2 128.4,294.2 128.9,294.2 129.4,294.2 129.9,294.2 130.4,294.1 130.9,294.1 131.4,294.1 131.9,294.1 132.4,294.1 132.9,294.1 133.4,294.1 133.9,294.1 134.4,294.1 134.9,294.1 135.4,294.1 135.9,294.1 136.4,294.1 136.9,294.1 137.4,294.1 137.9,294.1 138.4,294.1 138.9,294.1 139.4,294.1 139.9,294.1 140.4,294 140.9,294 141.4,294 141.9,294 142.4,294 142.9,294 143.4,293.9 143.9,293.9 144.4,293.9 144.9,293.8 145.4,293.8 145.9,293.7 146.4,293.6 146.9,293.5 147.4,293.3 147.9,293.2 148.4,293 148.9,292.7 149.4,292.5 149.9,292.2 150.4,292 150.9,291.7 151.4,291.4 151.9,291.1 152.4,290.9 152.9,290.8 153.4,290.7 153.9,290.7 154.4,290.8 154.9,291 155.4,291.3 155.9,291.5 156.4,291.8 156.9,292.1 157.4,292.4 157.9,292.7 158.4,292.9 158.9,293.1 159.4,293.3 159.9,293.4 160.4,293.5 160.9,293.6 161.4,293.7 161.9,293.8 162.4,293.8 162.9,293.9 163.4,293.9 163.9,294 164.4,294 164.9,294 165.4,294 165.9,294 166.4,294 166.9,294.1 167.4,294.1 167.9,294.1 168.4,294.1 168.9,294.1 169.4,294.1 169.9,294.1 170.4,294.1 170.9,294.1 171.4,294.1 171.9,294.1 172.4,294.1 172.9,294.1 173.4,294.1" stroke="#ff9f3c" stroke-width="0.9"/>
<polyline points="13.4,295.5 13.9,295.5 14.4,295.5 14.9,295.5 15.4,295.5 15.9,295.5 16.4,295.5 16.9,295.5 17.4,295.5 17.9,295.5 18.4,295.5 18.9,295.5 19.4,295.5 19.9,295.5 20.4,295.5 20.9,295.5 21.4,295.5 21.9,295.5 22.4,295.5 22.9,295.5 23.4,295.5 23.9,295.4 24.4,295.4 24.9,295.4 25.4,295.4 25.9,295.4 26.4,295.4 26.9,295.4 27.4,295.4 27.9,295.4 28.4,295.4 28.9,295.4 29.4,295.4 29.9,295.4 30.4,295.4 30.9,295.4 31.4,295.4 31.9,295.4 32.4,295.4 32.9,295.4 33.4,295.4 33.9,295.4 34.4,295.4 34.9,295.3 35.4,295.3 35.9,295.3 36.4,295.3 36.9,295.3 37.4,295.3 37.9,295.3 38.4,295.3 38.9,295.3 39.4,295.3 39.9,295.3 40.4,295.3 40.9,295.3 41.4,295.3 41.9,295.3 42.4,295.3 42.9,295.3 43.4,295.3 43.9,295.3 44.4,295.3 44.9,295.3 45.4,295.3 45.9,295.3 46.4,295.2 46.9,295.2 47.4,295.2 47.9,295.2 48.4,295.2 48.9,295.2 49.4,295.2 49.9,295.2 50.4,295.2 50.9,295.2 51.4,295.2 51.9,295.2 52.4,295.2 52.9,295.2 53.4,295.2 53.9,295.2 54.4,295.2 54.9,295.2 55.4,295.2 55.9,295.2 56.4,295.2 56.9,295.2 57.4,295.1 57.9,295.1 58.4,295.1 58.9,295.1 59.4,295.1 59.9,295.1 60.4,295.1 60.9,295.1 61.4,295.1 61.9,295.1 62.4,295.1 62.9,295.1 63.4,295.1 63.9,295.1 64.4,295.1 64.9,295.1 65.4,295.1 65.9,295.1 66.4,295.1 66.9,295.1 67.4,295.1 67.9,295 68.4,295 68.9,295 69.4,295 69.9,295 70.4,295 70.9,295 71.4,295 71.9,295 72.4,295 72.9,295 73.4,295 73.9,295 74.4,295 74.9,295 75.4,295 75.9,295 76.4,295 76.9,295 77.4,295 77.9,294.9 78.4,294.9 78.9,294.9 79.4,294.9 79.9,294.9 80.4,294.9 80.9,294.9 81.4,294.9 81.9,294.9 82.4,294.9 82.9,294.9 83.4,294.9 83.9,294.9 84.4,294.9 84.9,294.9 85.4,294.9 85.9,294.9 86.4,294.9 86.9,294.8 87.4,294.8 87.9,294.8 88.4,294.8 88.9,294.8 89.4,294.8 89.9,294.8 90.4,294.8 90.9,294.8 91.4,294.8 91.9,294.8 92.4,294.8 92.9,294.8 93.4,294.8 93.9,294.8 94.4,294.8 94.9,294.7 95.4,294.7 95.9,294.7 96.4,294.7 96.9,294.7 97.4,294.7 97.9,294.7 98.4,294.7 98.9,294.7 99.4,294.7 99.9,294.7 100.4,294.7 100.9,294.7 101.4,294.6 101.9,294.6 102.4,294.6 102.9,294.6 103.4,294.6 103.9,294.6 104.4,294.6 104.9,294.6 105.4,294.6 105.9,294.6 106.4,294.6 106.9,294.5 107.4,294.5 107.9,294.5 108.4,294.5 108.9,294.5 109.4,294.5 109.9,294.5 110.4,294.5 110.9,294.4 111.4,294.4 111.9,294.4 112.4,294.4 112.9,294.4 113.4,294.4 113.9,294.4 114.4,294.3 114.9,294.3 115.4,294.3 115.9,294.3 116.4,294.2 116.9,294.2 117.4,294.2 117.9,294.2 118.4,294.1 118.9,294.1 119.4,294 119.9,294 120.4,293.9 120.9,293.9 121.4,293.8 121.9,293.7 122.4,293.7 122.9,293.6 123.4,293.5 123.9,293.3 124.4,293.2 124.9,293.1 125.4,292.9 125.9,292.7 126.4,292.5 126.9,292.2 127.4,292 127.9,291.7 128.4,291.4 128.9,291.1 129.4,290.7 129.9,290.3 130.4,289.9 130.9,289.5 131.4,289.1 131.9,288.6 132.4,288.1 132.9,287.7 133.4,287.2 133.9,286.7 134.4,286.3 134.9,285.8 135.4,285.4 135.9,285 136.4,284.7 136.9,284.4 137.4,284.2 137.9,284 138.4,284 138.9,284 139.4,284.1 139.9,284.2 140.4,284.5 140.9,284.7 141.4,285.1 141.9,285.5 142.4,285.9 142.9,286.3 143.4,286.8 143.9,287.3 144.4,287.7 144.9,288.2 145.4,288.7 145.9,289.1 146.4,289.5 146.9,289.9 147.4,290.3 147.9,290.7 148.4,291 148.9,291.3 149.4,291.6 149.9,291.9 150.4,292.1 150.9,292.3 151.4,292.5 151.9,292.7 152.4,292.9 152.9,293 153.4,293.1 153.9,293.2 154.4,293.3 154.9,293.4 155.4,293.5 155.9,293.6 156.4,293.6 156.9,293.7 157.4,293.7 157.9,293.7 158.4,293.8 158.9,293.8 159.4,293.8 159.9,293.8 160.4,293.9 160.9,293.9 161.4,293.9 161.9,293.9 162.4,293.9 162.9,293.9 163.4,293.9 163.9,293.9 164.4,294 164.9,294 165.4,294 165.9,294 166.4,294 166.9,294 167.4,294 167.9,294 168.4,294 168.9,294 169.4,294 169.9,294 170.4,294 170.9,294 171.4,294 171.9,294 172.4,294 172.9,294 173.4,294" stroke="#3fe03f" stroke-width="0.9"/>
<polyline points="13.4,296 13.9,296 14.4,296 14.9,296 15.4,296 15.9,296 16.4,296 16.9,296 17.4,296 17.9,296 18.4,296 18.9,295.9 19.4,295.9 19.9,295.9 20.4,295.9 20.9,295.9 21.4,295.9 21.9,295.9 22.4,295.9 22.9,295.9 23.4,295.9 23.9,295.9 24.4,295.9 24.9,295.9 25.4,295.9 25.9,295.9 26.4,295.9 26.9,295.8 27.4,295.8 27.9,295.8 28.4,295.8 28.9,295.8 29.4,295.8 29.9,295.8 30.4,295.8 30.9,295.8 31.4,295.8 31.9,295.8 32.4,295.8 32.9,295.8 33.4,295.8 33.9,295.8 34.4,295.7 34.9,295.7 35.4,295.7 35.9,295.7 36.4,295.7 36.9,295.7 37.4,295.7 37.9,295.7 38.4,295.7 38.9,295.7 39.4,295.7 39.9,295.7 40.4,295.7 40.9,295.7 41.4,295.7 41.9,295.6 42.4,295.6 42.9,295.6 43.4,295.6 43.9,295.6 44.4,295.6 44.9,295.6 45.4,295.6 45.9,295.6 46.4,295.6 46.9,295.6 47.4,295.6 47.9,295.6 48.4,295.6 48.9,295.6 49.4,295.5 49.9,295.5 50.4,295.5 50.9,295.5 51.4,295.5 51.9,295.5 52.4,295.5 52.9,295.5 53.4,295.5 53.9,295.5 54.4,295.5 54.9,295.5 55.4,295.5 55.9,295.5 56.4,295.5 56.9,295.4 57.4,295.4 57.9,295.4 58.4,295.4 58.9,295.4 59.4,295.4 59.9,295.4 60.4,295.4 60.9,295.4 61.4,295.4 61.9,295.4 62.4,295.4 62.9,295.4 63.4,295.4 63.9,295.4 64.4,295.4 64.9,295.3 65.4,295.3 65.9,295.3 66.4,295.3 66.9,295.3 67.4,295.3 67.9,295.3 68.4,295.3 68.9,295.3 69.4,295.3 69.9,295.3 70.4,295.3 70.9,295.3 71.4,295.3 71.9,295.3 72.4,295.2 72.9,295.2 73.4,295.2 73.9,295.2 74.4,295.2 74.9,295.2 75.4,295.2 75.9,295.2 76.4,295.2 76.9,295.2 77.4,295.2 77.9,295.2 78.4,295.2 78.9,295.2 79.4,295.1 79.9,295.1 80.4,295.1 80.9,295.1 81.4,295.1 81.9,295.1 82.4,295.1 82.9,295.1 83.4,295.1 83.9,295.1 84.4,295.1 84.9,295.1 85.4,295.1 85.9,295.1 86.4,295.1 86.9,295 87.4,295 87.9,295 88.4,295 88.9,295 89.4,295 89.9,295 90.4,295 90.9,295 91.4,295 91.9,295 92.4,295 92.9,295 93.4,295 93.9,295 94.4,294.9 94.9,294.9 95.4,294.9 95.9,294.9 96.4,294.9 96.9,294.9 97.4,294.9 97.9,294.9 98.4,294.9 98.9,294.9 99.4,294.9 99.9,294.9 100.4,294.9 100.9,294.9 101.4,294.8 101.9,294.8 102.4,294.8 102.9,294.8 103.4,294.8 103.9,294.8 104.4,294.8 104.9,294.8 105.4,294.8 105.9,294.8 106.4,294.8 106.9,294.8 107.4,294.8 107.9,294.7 108.4,294.7 108.9,294.7 109.4,294.7 109.9,294.7 110.4,294.7 110.9,294.7 111.4,294.7 111.9,294.7 112.4,294.7 112.9,294.7 113.4,294.7 113.9,294.7 114.4,294.6 114.9,294.6 115.4,294.6 115.9,294.6 116.4,294.6 116.9,294.6 117.4,294.6 117.9,294.6 118.4,294.6 118.9,294.6 119.4,294.6 119.9,294.5 120.4,294.5 120.9,294.5 121.4,294.5 121.9,294.5 122.4,294.5 122.9,294.5 123.4,294.5 123.9,294.5 124.4,294.5 124.9,294.4 125.4,294.4 125.9,294.4 126.4,294.4 126.9,294.4 127.4,294.4 127.9,294.4 128.4,294.4 128.9,294.3 129.4,294.3 129.9,294.3 130.4,294.3 130.9,294.3 131.4,294.3 131.9,294.2 132.4,294.2 132.9,294.2 133.4,294.2 133.9,294.2 134.4,294.1 134.9,294.1 135.4,294.1 135.9,294 136.4,294 136.9,293.9 137.4,293.9 137.9,293.8 138.4,293.7 138.9,293.6 139.4,293.5 139.9,293.4 140.4,293.3 140.9,293.1 141.4,293 141.9,292.8 142.4,292.5 142.9,292.3 143.4,292 143.9,291.8 144.4,291.5 144.9,291.2 145.4,290.8 145.9,290.5 146.4,290.2 146.9,289.9 147.4,289.6 147.9,289.3 148.4,289.1 148.9,288.9 149.4,288.9 149.9,288.9 150.4,288.9 150.9,289 151.4,289.2 151.9,289.5 152.4,289.8 152.9,290.1 153.4,290.4 153.9,290.7 154.4,291 154.9,291.3 155.4,291.6 155.9,291.9 156.4,292.1 156.9,292.3 157.4,292.5 157.9,292.7 158.4,292.9 158.9,293 159.4,293.1 159.9,293.3 160.4,293.3 160.9,293.4 161.4,293.5 161.9,293.5 162.4,293.6 162.9,293.6 163.4,293.7 163.9,293.7 164.4,293.7 164.9,293.7 165.4,293.7 165.9,293.8 166.4,293.8 166.9,293.8 167.4,293.8 167.9,293.8 168.4,293.8 168.9,293.8 169.4,293.8 169.9,293.8 170.4,293.8 170.9,293.8 171.4,293.8 171.9,293.8 172.4,293.8 172.9,293.8 173.4,293.8" stroke="#f2e63c" stroke-width="0.9"/>
<polyline points="13.4,296.2 13.9,296.2 14.4,296.2 14.9,296.1 15.4,296.1 15.9,296.1 16.4,296.1 16.9,296.1 17.4,296.1 17.9,296.1 18.4,296.1 18.9,296.1 19.4,296.1 19.9,296.1 20.4,296.1 20.9,296 21.4,296 21.9,296 22.4,296 22.9,296 23.4,296 23.9,296 24.4,296 24.9,296 25.4,296 25.9,296 26.4,295.9 26.9,295.9 27.4,295.9 27.9,295.9 28.4,295.9 28.9,295.9 29.4,295.9 29.9,295.9 30.4,295.9 30.9,295.9 31.4,295.9 31.9,295.8 32.4,295.8 32.9,295.8 33.4,295.8 33.9,295.8 34.4,295.8 34.9,295.8 35.4,295.8 35.9,295.8 36.4,295.8 36.9,295.8 37.4,295.7 37.9,295.7 38.4,295.7 38.9,295.7 39.4,295.7 39.9,295.7 40.4,295.7 40.9,295.7 41.4,295.7 41.9,295.7 42.4,295.6 42.9,295.6 43.4,295.6 43.9,295.6 44.4,295.6 44.9,295.6 45.4,295.6 45.9,295.6 46.4,295.6 46.9,295.6 47.4,295.5 47.9,295.5 48.4,295.5 48.9,295.5 49.4,295.5 49.9,295.5 50.4,295.5 50.9,295.5 51.4,295.5 51.9,295.4 52.4,295.4 52.9,295.4 53.4,295.4 53.9,295.4 54.4,295.4 54.9,295.4 55.4,295.4 55.9,295.4 56.4,295.3 56.9,295.3 57.4,295.3 57.9,295.3 58.4,295.3 58.9,295.3 59.4,295.3 59.9,295.2 60.4,295.2 60.9,295.2 61.4,295.2 61.9,295.2 62.4,295.2 62.9,295.2 63.4,295.1 63.9,295.1 64.4,295.1 64.9,295.1 65.4,295.1 65.9,295.1 66.4,295 66.9,295 67.4,295 67.9,295 68.4,295 68.9,294.9 69.4,294.9 69.9,294.9 70.4,294.9 70.9,294.9 71.4,294.8 71.9,294.8 72.4,294.8 72.9,294.8 73.4,294.7 73.9,294.7 74.4,294.7 74.9,294.7 75.4,294.6 75.9,294.6 76.4,294.6 76.9,294.5 77.4,294.5 77.9,294.5 78.4,294.4 78.9,294.4 79.4,294.3 79.9,294.3 80.4,294.2 80.9,294.2 81.4,294.1 81.9,294.1 82.4,294 82.9,294 83.4,293.9 83.9,293.8 84.4,293.7 84.9,293.7 85.4,293.6 85.9,293.5 86.4,293.4 86.9,293.3 87.4,293.2 87.9,293 88.4,292.9 88.9,292.7 89.4,292.5 89.9,292.4 90.4,292.1 90.9,291.9 91.4,291.6 91.9,291.3 92.4,290.9 92.9,290.5 93.4,290 93.9,289.5 94.4,288.9 94.9,288.2 95.4,287.4 95.9,286.4 96.4,285.4 96.9,284.2 97.4,282.9 97.9,281.5 98.4,280 98.9,278.3 99.4,276.6 99.9,274.9 100.4,273.1 100.9,271.5 101.4,270.2 101.9,269.1 102.4,268.5 102.9,268.4 103.4,268.8 103.9,269.6 104.4,270.9 104.9,272.4 105.4,274 105.9,275.8 106.4,277.5 106.9,279.2 107.4,280.7 107.9,282.2 108.4,283.5 108.9,284.7 109.4,285.8 109.9,286.8 110.4,287.6 110.9,288.3 111.4,289 111.9,289.5 112.4,290 112.9,290.5 113.4,290.8 113.9,291.1 114.4,291.4 114.9,291.7 115.4,291.9 115.9,292.1 116.4,292.2 116.9,292.4 117.4,292.5 117.9,292.6 118.4,292.7 118.9,292.8 119.4,292.9 119.9,293 120.4,293.1 120.9,293.2 121.4,293.2 121.9,293.3 122.4,293.3 122.9,293.4 123.4,293.4 123.9,293.5 124.4,293.5 124.9,293.5 125.4,293.6 125.9,293.6 126.4,293.6 126.9,293.7 127.4,293.7 127.9,293.7 128.4,293.7 128.9,293.7 129.4,293.8 129.9,293.8 130.4,293.8 130.9,293.8 131.4,293.8 131.9,293.8 132.4,293.8 132.9,293.9 133.4,293.9 133.9,293.9 134.4,293.9 134.9,293.9 135.4,293.9 135.9,293.9 136.4,293.9 136.9,293.9 137.4,293.9 137.9,293.9 138.4,293.9 138.9,293.9 139.4,293.9 139.9,293.9 140.4,293.9 140.9,293.9 141.4,293.9 141.9,293.9 142.4,293.9 142.9,293.9 143.4,293.9 143.9,293.9 144.4,293.9 144.9,293.9 145.4,293.9 145.9,293.9 146.4,293.9 146.9,293.9 147.4,293.9 147.9,293.9 148.4,293.9 148.9,293.9 149.4,293.9 149.9,293.9 150.4,293.9 150.9,293.9 151.4,293.9 151.9,293.9 152.4,293.9 152.9,293.9 153.4,293.9 153.9,293.9 154.4,293.9 154.9,293.9 155.4,293.9 155.9,293.9 156.4,293.9 156.9,293.9 157.4,293.8 157.9,293.8 158.4,293.8 158.9,293.8 159.4,293.8 159.9,293.8 160.4,293.8 160.9,293.8 161.4,293.8 161.9,293.8 162.4,293.8 162.9,293.8 163.4,293.8 163.9,293.8 164.4,293.8 164.9,293.8 165.4,293.8 165.9,293.8 166.4,293.8 166.9,293.7 167.4,293.7 167.9,293.7 168.4,293.7 168.9,293.7 169.4,293.7 169.9,293.7 170.4,293.7 170.9,293.7 171.4,293.7 171.9,293.7 172.4,293.7 172.9,293.7 173.4,293.7" stroke="#3fbef5" stroke-width="0.9"/>
<polyline points="13.4,294.9 13.9,294.9 14.4,294.9 14.9,294.9 15.4,294.9 15.9,294.9 16.4,294.9 16.9,294.9 17.4,294.9 17.9,294.9 18.4,294.9 18.9,294.8 19.4,294.8 19.9,294.8 20.4,294.8 20.9,294.8 21.4,294.8 21.9,294.8 22.4,294.8 22.9,294.7 23.4,294.7 23.9,294.7 24.4,294.7 24.9,294.6 25.4,294.6 25.9,294.6 26.4,294.5 26.9,294.5 27.4,294.4 27.9,294.4 28.4,294.3 28.9,294.2 29.4,294.2 29.9,294.1 30.4,294 30.9,293.9 31.4,293.7 31.9,293.6 32.4,293.5 32.9,293.3 33.4,293.1 33.9,292.9 34.4,292.7 34.9,292.5 35.4,292.2 35.9,291.9 36.4,291.6 36.9,291.3 37.4,290.9 37.9,290.5 38.4,290.1 38.9,289.6 39.4,289.2 39.9,288.6 40.4,288 40.9,287.4 41.4,286.8 41.9,286.1 42.4,285.3 42.9,284.5 43.4,283.7 43.9,282.8 44.4,281.9 44.9,280.9 45.4,279.9 45.9,278.8 46.4,277.7 46.9,276.5 47.4,275.2 47.9,274 48.4,272.6 48.9,271.3 49.4,269.9 49.9,268.4 50.4,266.9 50.9,265.4 51.4,263.9 51.9,262.3 52.4,260.7 52.9,259.1 53.4,257.5 53.9,255.8 54.4,254.2 54.9,252.6 55.4,251 55.9,249.4 56.4,247.8 56.9,246.2 57.4,244.7 57.9,243.2 58.4,241.8 58.9,240.4 59.4,239.1 59.9,237.9 60.4,236.7 60.9,235.6 61.4,234.6 61.9,233.7 62.4,232.9 62.9,232.1 63.4,231.5 63.9,231 64.4,230.5 64.9,230.2 65.4,230 65.9,229.9 66.4,229.9 66.9,230.1 67.4,230.3 67.9,230.6 68.4,231.1 68.9,231.7 69.4,232.3 69.9,233.1 70.4,233.9 70.9,234.9 71.4,235.9 71.9,237 72.4,238.2 72.9,239.5 73.4,240.8 73.9,242.2 74.4,243.6 74.9,245.1 75.4,246.6 75.9,248.2 76.4,249.8 76.9,251.4 77.4,253 77.9,254.6 78.4,256.2 78.9,257.9 79.4,259.5 79.9,261.1 80.4,262.6 80.9,264.2 81.4,265.7 81.9,267.2 82.4,268.7 82.9,270.1 83.4,271.5 83.9,272.8 84.4,274.1 84.9,275.4 85.4,276.6 85.9,277.7 86.4,278.8 86.9,279.9 87.4,280.9 87.9,281.8 88.4,282.7 88.9,283.6 89.4,284.4 89.9,285.2 90.4,285.9 90.9,286.6 91.4,287.2 91.9,287.8 92.4,288.3 92.9,288.8 93.4,289.3 93.9,289.7 94.4,290.1 94.9,290.5 95.4,290.9 95.9,291.2 96.4,291.5 96.9,291.7 97.4,292 97.9,292.2 98.4,292.4 98.9,292.6 99.4,292.7 99.9,292.9 100.4,293 100.9,293.1 101.4,293.2 101.9,293.3 102.4,293.4 102.9,293.5 103.4,293.5 103.9,293.6 104.4,293.6 104.9,293.7 105.4,293.7 105.9,293.8 106.4,293.8 106.9,293.8 107.4,293.8 107.9,293.9 108.4,293.9 108.9,293.9 109.4,293.9 109.9,293.9 110.4,293.9 110.9,293.9 111.4,293.9 111.9,293.9 112.4,293.9 112.9,293.9 113.4,293.9 113.9,293.9 114.4,293.9 114.9,293.9 115.4,293.9 115.9,293.9 116.4,293.9 116.9,293.9 117.4,293.9 117.9,293.9 118.4,293.9 118.9,293.9 119.4,293.9 119.9,293.9 120.4,293.9 120.9,293.9 121.4,293.9 121.9,293.9 122.4,293.9 122.9,293.9 123.4,293.9 123.9,293.9 124.4,293.9 124.9,293.8 125.4,293.8 125.9,293.8 126.4,293.8 126.9,293.8 127.4,293.8 127.9,293.8 128.4,293.8 128.9,293.8 129.4,293.8 129.9,293.8 130.4,293.8 130.9,293.8 131.4,293.8 131.9,293.8 132.4,293.8 132.9,293.8 133.4,293.8 133.9,293.8 134.4,293.8 134.9,293.8 135.4,293.7 135.9,293.7 136.4,293.7 136.9,293.7 137.4,293.7 137.9,293.7 138.4,293.7 138.9,293.7 139.4,293.7 139.9,293.7 140.4,293.7 140.9,293.7 141.4,293.7 141.9,293.7 142.4,293.7 142.9,293.7 143.4,293.7 143.9,293.7 144.4,293.7 144.9,293.7 145.4,293.7 145.9,293.6 146.4,293.6 146.9,293.6 147.4,293.6 147.9,293.6 148.4,293.6 148.9,293.6 149.4,293.6 149.9,293.6 150.4,293.6 150.9,293.6 151.4,293.6 151.9,293.6 152.4,293.6 152.9,293.6 153.4,293.6 153.9,293.6 154.4,293.6 154.9,293.6 155.4,293.6 155.9,293.5 156.4,293.5 156.9,293.5 157.4,293.5 157.9,293.5 158.4,293.5 158.9,293.5 159.4,293.5 159.9,293.5 160.4,293.5 160.9,293.5 161.4,293.5 161.9,293.5 162.4,293.5 162.9,293.5 163.4,293.5 163.9,293.5 164.4,293.5 164.9,293.5 165.4,293.5 165.9,293.5 166.4,293.4 166.9,293.4 167.4,293.4 167.9,293.4 168.4,293.4 168.9,293.4 169.4,293.4 169.9,293.4 170.4,293.4 170.9,293.4 171.4,293.4 171.9,293.4 172.4,293.4 172.9,293.4 173.4,293.4" stroke="#e81ee8" stroke-width="0.9"/>
<polyline points="13.4,295.4 13.9,295.4 14.4,295.4 14.9,295.4 15.4,295.4 15.9,295.4 16.4,295.4 16.9,295.3 17.4,295.3 17.9,295.3 18.4,295.3 18.9,295.3 19.4,295.3 19.9,295.3 20.4,295.3 20.9,295.3 21.4,295.3 21.9,295.2 22.4,295.2 22.9,295.2 23.4,295.2 23.9,295.2 24.4,295.2 24.9,295.2 25.4,295.2 25.9,295.1 26.4,295.1 26.9,295.1 27.4,295.1 27.9,295.1 28.4,295.1 28.9,295.1 29.4,295 29.9,295 30.4,295 30.9,295 31.4,295 31.9,295 32.4,295 32.9,294.9 33.4,294.9 33.9,294.9 34.4,294.9 34.9,294.9 35.4,294.8 35.9,294.8 36.4,294.8 36.9,294.8 37.4,294.8 37.9,294.7 38.4,294.7 38.9,294.7 39.4,294.7 39.9,294.6 40.4,294.6 40.9,294.6 41.4,294.6 41.9,294.5 42.4,294.5 42.9,294.5 43.4,294.4 43.9,294.4 44.4,294.4 44.9,294.3 45.4,294.3 45.9,294.3 46.4,294.2 46.9,294.2 47.4,294.1 47.9,294.1 48.4,294 48.9,294 49.4,293.9 49.9,293.9 50.4,293.8 50.9,293.7 51.4,293.7 51.9,293.6 52.4,293.5 52.9,293.4 53.4,293.3 53.9,293.2 54.4,293.1 54.9,293 55.4,292.9 55.9,292.8 56.4,292.6 56.9,292.5 57.4,292.3 57.9,292.1 58.4,291.9 58.9,291.7 59.4,291.5 59.9,291.2 60.4,290.9 60.9,290.6 61.4,290.2 61.9,289.8 62.4,289.3 62.9,288.8 63.4,288.1 63.9,287.4 64.4,286.5 64.9,285.5 65.4,284.3 65.9,282.9 66.4,281.3 66.9,279.5 67.4,277.5 67.9,275.2 68.4,272.6 68.9,269.7 69.4,266.6 69.9,263.3 70.4,259.9 70.9,256.6 71.4,253.4 71.9,250.6 72.4,248.5 72.9,247.2 73.4,247 73.9,247.8 74.4,249.5 74.9,252 75.4,255.1 75.9,258.4 76.4,261.8 76.9,265.1 77.4,268.3 77.9,271.2 78.4,273.9 78.9,276.3 79.4,278.5 79.9,280.4 80.4,282.1 80.9,283.5 81.4,284.8 81.9,285.9 82.4,286.8 82.9,287.6 83.4,288.3 83.9,288.9 84.4,289.4 84.9,289.8 85.4,290.2 85.9,290.5 86.4,290.8 86.9,291.1 87.4,291.3 87.9,291.5 88.4,291.7 88.9,291.9 89.4,292 89.9,292.2 90.4,292.3 90.9,292.4 91.4,292.5 91.9,292.6 92.4,292.7 92.9,292.8 93.4,292.9 93.9,293 94.4,293.1 94.9,293.1 95.4,293.2 95.9,293.2 96.4,293.3 96.9,293.3 97.4,293.4 97.9,293.4 98.4,293.5 98.9,293.5 99.4,293.5 99.9,293.6 100.4,293.6 100.9,293.6 101.4,293.7 101.9,293.7 102.4,293.7 102.9,293.7 103.4,293.8 103.9,293.8 104.4,293.8 104.9,293.8 105.4,293.8 105.9,293.8 106.4,293.9 106.9,293.9 107.4,293.9 107.9,293.9 108.4,293.9 108.9,293.9 109.4,293.9 109.9,293.9 110.4,294 110.9,294 111.4,294 111.9,294 112.4,294 112.9,294 113.4,294 113.9,294 114.4,294 114.9,294 115.4,294 115.9,294 116.4,294 116.9,294 117.4,294 117.9,294 118.4,294 118.9,294 119.4,294 119.9,294 120.4,294 120.9,294 121.4,294 121.9,294 122.4,294 122.9,294 123.4,294 123.9,294 124.4,294 124.9,294 125.4,294 125.9,294 126.4,294 126.9,294 127.4,294 127.9,294 128.4,294 128.9,294 129.4,294 129.9,294 130.4,294 130.9,294 131.4,294 131.9,294 132.4,294 132.9,294 133.4,294 133.9,294 134.4,294 134.9,294 135.4,294 135.9,294 136.4,294 136.9,294 137.4,294 137.9,294 138.4,294 138.9,294 139.4,294 139.9,294 140.4,294 140.9,294 141.4,294 141.9,294 142.4,294 142.9,294 143.4,294 143.9,294 144.4,294 144.9,294 145.4,293.9 145.9,293.9 146.4,293.9 146.9,293.9 147.4,293.9 147.9,293.9 148.4,293.9 148.9,293.9 149.4,293.9 149.9,293.9 150.4,293.9 150.9,293.9 151.4,293.9 151.9,293.9 152.4,293.9 152.9,293.9 153.4,293.9 153.9,293.9 154.4,293.9 154.9,293.9 155.4,293.9 155.9,293.9 156.4,293.9 156.9,293.9 157.4,293.8 157.9,293.8 158.4,293.8 158.9,293.8 159.4,293.8 159.9,293.8 160.4,293.8 160.9,293.8 161.4,293.8 161.9,293.8 162.4,293.8 162.9,293.8 163.4,293.8 163.9,293.8 164.4,293.8 164.9,293.8 165.4,293.8 165.9,293.8 166.4,293.8 166.9,293.8 167.4,293.8 167.9,293.7 168.4,293.7 168.9,293.7 169.4,293.7 169.9,293.7 170.4,293.7 170.9,293.7 171.4,293.7 171.9,293.7 172.4,293.7 172.9,293.7 173.4,293.7" stroke="#4b73ff" stroke-width="0.9"/>
<polyline points="13.4,296 13.9,296 14.4,296 14.9,296 15.4,296 15.9,296 16.4,295.9 16.9,295.9 17.4,295.9 17.9,295.9 18.4,295.9 18.9,295.8 19.4,295.8 19.9,295.8 20.4,295.7 20.9,295.7 21.4,295.7 21.9,295.6 22.4,295.6 22.9,295.6 23.4,295.5 23.9,295.5 24.4,295.4 24.9,295.3 25.4,295.3 25.9,295.2 26.4,295.1 26.9,295 27.4,294.9 27.9,294.8 28.4,294.7 28.9,294.6 29.4,294.4 29.9,294.3 30.4,294.1 30.9,293.9 31.4,293.7 31.9,293.5 32.4,293.3 32.9,293.1 33.4,292.8 33.9,292.5 34.4,292.2 34.9,291.9 35.4,291.6 35.9,291.2 36.4,290.8 36.9,290.4 37.4,290 37.9,289.5 38.4,289 38.9,288.5 39.4,287.9 39.9,287.3 40.4,286.7 40.9,286 41.4,285.3 41.9,284.6 42.4,283.8 42.9,283 43.4,282.2 43.9,281.3 44.4,280.3 44.9,279.4 45.4,278.4 45.9,277.4 46.4,276.3 46.9,275.2 47.4,274 47.9,272.8 48.4,271.6 48.9,270.4 49.4,269.1 49.9,267.8 50.4,266.5 50.9,265.1 51.4,263.7 51.9,262.3 52.4,260.9 52.9,259.4 53.4,258 53.9,256.5 54.4,255 54.9,253.6 55.4,252.1 55.9,250.6 56.4,249.1 56.9,247.7 57.4,246.2 57.9,244.8 58.4,243.3 58.9,241.9 59.4,240.6 59.9,239.2 60.4,237.8 60.9,236.5 61.4,235.2 61.9,233.9 62.4,232.6 62.9,231.3 63.4,230 63.9,228.6 64.4,227.2 64.9,225.8 65.4,224.2 65.9,222.5 66.4,220.6 66.9,218.6 67.4,216.3 67.9,213.8 68.4,211 68.9,208 69.4,204.8 69.9,201.5 70.4,198.3 70.9,195.3 71.4,192.9 71.9,191.4 72.4,191.1 72.9,192.2 73.4,194.6 73.9,198 74.4,202.2 74.9,206.7 75.4,211.4 75.9,216 76.4,220.5 76.9,224.6 77.4,228.5 77.9,232.2 78.4,235.5 78.9,238.6 79.4,241.5 79.9,244.2 80.4,246.8 80.9,249.2 81.4,251.6 81.9,253.8 82.4,256 82.9,258.1 83.4,260.2 83.9,262.2 84.4,264.2 84.9,266.1 85.4,267.9 85.9,269.7 86.4,271.4 86.9,273 87.4,274.4 87.9,275.7 88.4,276.9 88.9,277.8 89.4,278.6 89.9,279.3 90.4,279.8 90.9,280.1 91.4,280.3 91.9,280.4 92.4,280.4 92.9,280.3 93.4,280.1 93.9,279.8 94.4,279.5 94.9,279 95.4,278.4 95.9,277.8 96.4,277 96.9,276.2 97.4,275.2 97.9,274.2 98.4,273.1 98.9,272 99.4,270.9 99.9,269.7 100.4,268.7 100.9,267.8 101.4,267.1 101.9,266.6 102.4,266.4 102.9,266.6 103.4,267 103.9,267.8 104.4,268.9 104.9,270.1 105.4,271.5 105.9,273 106.4,274.5 106.9,276 107.4,277.5 107.9,278.9 108.4,280.3 108.9,281.5 109.4,282.7 109.9,283.8 110.4,284.7 110.9,285.6 111.4,286.4 111.9,287.2 112.4,287.8 112.9,288.4 113.4,288.9 113.9,289.4 114.4,289.8 114.9,290.1 115.4,290.4 115.9,290.7 116.4,291 116.9,291.2 117.4,291.4 117.9,291.5 118.4,291.7 118.9,291.8 119.4,291.9 119.9,291.9 120.4,292 120.9,292 121.4,292.1 121.9,292.1 122.4,292.1 122.9,292 123.4,292 123.9,291.9 124.4,291.8 124.9,291.7 125.4,291.6 125.9,291.4 126.4,291.2 126.9,291 127.4,290.7 127.9,290.5 128.4,290.2 128.9,289.8 129.4,289.5 129.9,289.1 130.4,288.7 130.9,288.3 131.4,287.8 131.9,287.4 132.4,286.9 132.9,286.4 133.4,286 133.9,285.5 134.4,285.1 134.9,284.6 135.4,284.2 135.9,283.9 136.4,283.6 136.9,283.3 137.4,283.1 137.9,283 138.4,283 138.9,283 139.4,283 139.9,283.1 140.4,283.3 140.9,283.5 141.4,283.7 141.9,283.9 142.4,284.2 142.9,284.4 143.4,284.6 143.9,284.8 144.4,284.9 144.9,285 145.4,285.1 145.9,285.2 146.4,285.3 146.9,285.4 147.4,285.5 147.9,285.7 148.4,285.8 148.9,286 149.4,286.2 149.9,286.5 150.4,286.7 150.9,286.9 151.4,287.1 151.9,287.3 152.4,287.5 152.9,287.8 153.4,288.1 153.9,288.4 154.4,288.8 154.9,289.3 155.4,289.7 155.9,290.2 156.4,290.6 156.9,291.1 157.4,291.5 157.9,291.8 158.4,292.1 158.9,292.4 159.4,292.6 159.9,292.8 160.4,293 160.9,293.2 161.4,293.3 161.9,293.4 162.4,293.5 162.9,293.5 163.4,293.6 163.9,293.6 164.4,293.7 164.9,293.7 165.4,293.7 165.9,293.8 166.4,293.8 166.9,293.8 167.4,293.8 167.9,293.9 168.4,293.9 168.9,293.9 169.4,293.9 169.9,293.9 170.4,293.9 170.9,293.9 171.4,294 171.9,294 172.4,294 172.9,294 173.4,294" stroke="#b04040" stroke-width="0.55"/>
<polyline points="13.4,296.4 13.9,296.4 14.4,296.4 14.9,296.4 15.4,296.4 15.9,296.4 16.4,296.3 16.9,296.3 17.4,296.3 17.9,296.3 18.4,296.3 18.9,296.2 19.4,296.2 19.9,296.2 20.4,296.1 20.9,296.1 21.4,296.1 21.9,296 22.4,296 22.9,296 23.4,295.9 23.9,295.9 24.4,295.8 24.9,295.7 25.4,295.7 25.9,295.6 26.4,295.5 26.9,295.4 27.4,295.3 27.9,295.2 28.4,295.1 28.9,295 29.4,294.8 29.9,294.7 30.4,294.5 30.9,294.3 31.4,294.1 31.9,293.9 32.4,293.7 32.9,293.5 33.4,293.2 33.9,292.9 34.4,292.6 34.9,292.3 35.4,292 35.9,291.6 36.4,291.2 36.9,290.8 37.4,290.4 37.9,289.9 38.4,289.4 38.9,288.9 39.4,288.3 39.9,287.7 40.4,287.1 40.9,286.4 41.4,285.7 41.9,285 42.4,284.2 42.9,283.4 43.4,282.6 43.9,281.7 44.4,280.7 44.9,279.8 45.4,278.8 45.9,277.8 46.4,276.7 46.9,275.6 47.4,274.4 47.9,273.2 48.4,272 48.9,270.8 49.4,269.5 49.9,268.2 50.4,266.9 50.9,265.5 51.4,264.1 51.9,262.7 52.4,261.3 52.9,259.8 53.4,258.4 53.9,256.9 54.4,255.4 54.9,254 55.4,252.5 55.9,251 56.4,249.5 56.9,248.1 57.4,246.6 57.9,245.2 58.4,243.7 58.9,242.3 59.4,241 59.9,239.6 60.4,238.2 60.9,236.9 61.4,235.6 61.9,234.3 62.4,233 62.9,231.7 63.4,230.4 63.9,229 64.4,227.6 64.9,226.2 65.4,224.6 65.9,222.9 66.4,221 66.9,219 67.4,216.7 67.9,214.2 68.4,211.4 68.9,208.4 69.4,205.2 69.9,201.9 70.4,198.7 70.9,195.7 71.4,193.3 71.9,191.8 72.4,191.5 72.9,192.6 73.4,195 73.9,198.4 74.4,202.6 74.9,207.1 75.4,211.8 75.9,216.4 76.4,220.9 76.9,225 77.4,228.9 77.9,232.6 78.4,235.9 78.9,239 79.4,241.9 79.9,244.6 80.4,247.2 80.9,249.6 81.4,252 81.9,254.2 82.4,256.4 82.9,258.5 83.4,260.6 83.9,262.6 84.4,264.6 84.9,266.5 85.4,268.3 85.9,270.1 86.4,271.8 86.9,273.4 87.4,274.8 87.9,276.1 88.4,277.3 88.9,278.2 89.4,279 89.9,279.7 90.4,280.2 90.9,280.5 91.4,280.7 91.9,280.8 92.4,280.8 92.9,280.7 93.4,280.5 93.9,280.2 94.4,279.9 94.9,279.4 95.4,278.8 95.9,278.2 96.4,277.4 96.9,276.6 97.4,275.6 97.9,274.6 98.4,273.5 98.9,272.4 99.4,271.3 99.9,270.1 100.4,269.1 100.9,268.2 101.4,267.5 101.9,267 102.4,266.8 102.9,267 103.4,267.4 103.9,268.2 104.4,269.3 104.9,270.5 105.4,271.9 105.9,273.4 106.4,274.9 106.9,276.4 107.4,277.9 107.9,279.3 108.4,280.7 108.9,281.9 109.4,283.1 109.9,284.2 110.4,285.1 110.9,286 111.4,286.8 111.9,287.6 112.4,288.2 112.9,288.8 113.4,289.3 113.9,289.8 114.4,290.2 114.9,290.5 115.4,290.8 115.9,291.1 116.4,291.4 116.9,291.6 117.4,291.8 117.9,291.9 118.4,292.1 118.9,292.2 119.4,292.3 119.9,292.3 120.4,292.4 120.9,292.4 121.4,292.5 121.9,292.5 122.4,292.5 122.9,292.4 123.4,292.4 123.9,292.3 124.4,292.2 124.9,292.1 125.4,292 125.9,291.8 126.4,291.6 126.9,291.4 127.4,291.1 127.9,290.9 128.4,290.6 128.9,290.2 129.4,289.9 129.9,289.5 130.4,289.1 130.9,288.7 131.4,288.2 131.9,287.8 132.4,287.3 132.9,286.8 133.4,286.4 133.9,285.9 134.4,285.5 134.9,285 135.4,284.6 135.9,284.3 136.4,284 136.9,283.7 137.4,283.5 137.9,283.4 138.4,283.4 138.9,283.4 139.4,283.4 139.9,283.5 140.4,283.7 140.9,283.9 141.4,284.1 141.9,284.3 142.4,284.6 142.9,284.8 143.4,285 143.9,285.2 144.4,285.3 144.9,285.4 145.4,285.5 145.9,285.6 146.4,285.7 146.9,285.8 147.4,285.9 147.9,286.1 148.4,286.2 148.9,286.4 149.4,286.6 149.9,286.9 150.4,287.1 150.9,287.3 151.4,287.5 151.9,287.7 152.4,287.9 152.9,288.2 153.4,288.5 153.9,288.8 154.4,289.2 154.9,289.7 155.4,290.1 155.9,290.6 156.4,291 156.9,291.5 157.4,291.9 157.9,292.2 158.4,292.5 158.9,292.8 159.4,293 159.9,293.2 160.4,293.4 160.9,293.6 161.4,293.7 161.9,293.8 162.4,293.9 162.9,293.9 163.4,294 163.9,294 164.4,294.1 164.9,294.1 165.4,294.1 165.9,294.2 166.4,294.2 166.9,294.2 167.4,294.2 167.9,294.3 168.4,294.3 168.9,294.3 169.4,294.3 169.9,294.3 170.4,294.3 170.9,294.3 171.4,294.4 171.9,294.4 172.4,294.4 172.9,294.4 173.4,294.4" stroke="#505050" stroke-width="0.8"/>
</g>
<rect x="13.4" y="178.4" width="160.2" height="123.9" fill="none" stroke="#7a7a7a" stroke-width="1.3"/>
<text transform="translate(13.4,311.1) scale(1,1.22)" font-size="5.4" text-anchor="middle" fill="#222" stroke="#222" stroke-width="0.15">1900</text>
<text transform="translate(40.1,311.1) scale(1,1.22)" font-size="5.4" text-anchor="middle" fill="#222" stroke="#222" stroke-width="0.15">1850</text>
<text transform="translate(66.8,311.1) scale(1,1.22)" font-size="5.4" text-anchor="middle" fill="#222" stroke="#222" stroke-width="0.15">1800</text>
<text transform="translate(93.5,311.1) scale(1,1.22)" font-size="5.4" text-anchor="middle" fill="#222" stroke="#222" stroke-width="0.15">1750</text>
<text transform="translate(120.2,311.1) scale(1,1.22)" font-size="5.4" text-anchor="middle" fill="#222" stroke="#222" stroke-width="0.15">1700</text>
<text transform="translate(146.9,311.1) scale(1,1.22)" font-size="5.4" text-anchor="middle" fill="#222" stroke="#222" stroke-width="0.15">1650</text>
<text transform="translate(173.6,311.1) scale(1,1.22)" font-size="5.4" text-anchor="middle" fill="#222" stroke="#222" stroke-width="0.15">1600</text>
<path d="M13.4 302.6v2.6 M26.8 302.6v1.3 M40.1 302.6v2.6 M53.4 302.6v1.3 M66.8 302.6v2.6 M80.1 302.6v1.3 M93.5 302.6v2.6 M106.8 302.6v1.3 M120.2 302.6v2.6 M133.5 302.6v1.3 M146.9 302.6v2.6 M160.2 302.6v1.3 M173.6 302.6v2.6" stroke="#222" stroke-width="0.95" fill="none"/>
<text x="93.5" y="321.1" font-size="5.4" text-anchor="middle" fill="#222" stroke="#222" stroke-width="0.12">Raman shift (cm<tspan font-size="3.4" dx="0.7" dy="-2.1">-1</tspan><tspan dx="0.3" dy="2.1">)</tspan></text>
<text transform="translate(8.7,240.8) rotate(-90)" font-size="5.4" text-anchor="middle" fill="#222" stroke="#222" stroke-width="0.12">Intensity, A.U.</text>
<text transform="translate(5,184.8) scale(0.8,1)" font-size="7.9" font-weight="bold" fill="#111" stroke="#111" stroke-width="0.3">j</text>
<text x="172.6" y="185.7" font-size="6.75" text-anchor="end" fill="#111" stroke="#111" stroke-width="0.18">LiTFSI+G1.5 in PC</text>
<text transform="translate(70.8,187.8) scale(1,1.15)" font-size="4.75" fill="#222" stroke="#222" stroke-width="0.15">1788 cm<tspan font-size="3" dx="0.8" dy="-1.75">-1</tspan></text>
<text transform="translate(35.4,239.3) scale(1,1.15)" font-size="4.75" fill="#222" stroke="#222" stroke-width="0.15">1799 cm<tspan font-size="3" dx="0.8" dy="-1.75">-1</tspan></text>
<text transform="translate(97,263.9) scale(1,1.15)" font-size="4.75" fill="#222" stroke="#222" stroke-width="0.15">1734 cm<tspan font-size="3" dx="0.8" dy="-1.75">-1</tspan></text>
<text transform="translate(120.9,280.1) scale(1,1.15)" font-size="4.75" fill="#222" stroke="#222" stroke-width="0.15">1667 cm<tspan font-size="3" dx="0.8" dy="-1.75">-1</tspan></text>
<text transform="translate(145.6,281.6) scale(1,1.15)" font-size="4.75" fill="#222" stroke="#222" stroke-width="0.15">1649 cm<tspan font-size="3" dx="0.8" dy="-1.75">-1</tspan></text>
<text transform="translate(152.6,286.3) scale(1,1.15)" font-size="4.75" fill="#222" stroke="#222" stroke-width="0.15">1637 cm<tspan font-size="3" dx="0.8" dy="-1.75">-1</tspan></text>
<clipPath id="ck"><rect x="197.6" y="171.2" width="159.4" height="130.4"/></clipPath>
<g clip-path="url(#ck)" fill="none" stroke-linejoin="round">
<polyline points="197.6,297.6 198.1,297.5 198.6,297.5 199.1,297.5 199.6,297.5 200.1,297.5 200.6,297.5 201.1,297.5 201.6,297.5 202.1,297.4 202.6,297.4 203.1,297.4 203.6,297.4 204.1,297.4 204.6,297.3 205.1,297.3 205.6,297.3 206.1,297.3 206.6,297.3 207.1,297.2 207.6,297.2 208.1,297.2 208.6,297.1 209.1,297.1 209.6,297.1 210.1,297 210.6,297 211.1,296.9 211.6,296.9 212.1,296.8 212.6,296.8 213.1,296.7 213.6,296.7 214.1,296.6 214.6,296.5 215.1,296.5 215.6,296.4 216.1,296.3 216.6,296.3 217.1,296.2 217.6,296.1 218.1,296 218.6,295.9 219.1,295.9 219.6,295.8 220.1,295.7 220.6,295.6 221.1,295.5 221.6,295.4 222.1,295.3 222.6,295.2 223.1,295.1 223.6,295 224.1,294.9 224.6,294.8 225.1,294.7 225.6,294.6 226.1,294.5 226.6,294.4 227.1,294.3 227.6,294.2 228.1,294.1 228.6,294 229.1,293.9 229.6,293.9 230.1,293.8 230.6,293.7 231.1,293.7 231.6,293.6 232.1,293.6 232.6,293.6 233.1,293.6 233.6,293.6 234.1,293.6 234.6,293.6 235.1,293.6 235.6,293.6 236.1,293.7 236.6,293.7 237.1,293.8 237.6,293.8 238.1,293.9 238.6,294 239.1,294.1 239.6,294.2 240.1,294.3 240.6,294.3 241.1,294.4 241.6,294.5 242.1,294.6 242.6,294.7 243.1,294.8 243.6,294.9 244.1,295 244.6,295.1 245.1,295.2 245.6,295.3 246.1,295.4 246.6,295.5 247.1,295.6 247.6,295.7 248.1,295.8 248.6,295.9 249.1,296 249.6,296 250.1,296.1 250.6,296.2 251.1,296.3 251.6,296.3 252.1,296.4 252.6,296.5 253.1,296.5 253.6,296.6 254.1,296.6 254.6,296.7 255.1,296.7 255.6,296.8 256.1,296.8 256.6,296.9 257.1,296.9 257.6,296.9 258.1,297 258.6,297 259.1,297 259.6,297.1 260.1,297.1 260.6,297.1 261.1,297.2 261.6,297.2 262.1,297.2 262.6,297.2 263.1,297.2 263.6,297.2 264.1,297.3 264.6,297.3 265.1,297.3 265.6,297.3 266.1,297.3 266.6,297.3 267.1,297.3 267.6,297.3 268.1,297.4 268.6,297.4 269.1,297.4 269.6,297.4 270.1,297.4 270.6,297.4 271.1,297.4 271.6,297.4 272.1,297.4 272.6,297.4 273.1,297.4 273.6,297.4 274.1,297.4 274.6,297.4 275.1,297.4 275.6,297.4 276.1,297.4 276.6,297.4 277.1,297.5 277.6,297.5 278.1,297.5 278.6,297.5 279.1,297.5 279.6,297.5 280.1,297.5 280.6,297.5 281.1,297.5 281.6,297.5 282.1,297.5 282.6,297.5 283.1,297.5 283.6,297.5 284.1,297.5 284.6,297.5 285.1,297.5 285.6,297.5 286.1,297.5 286.6,297.5 287.1,297.5 287.6,297.5 288.1,297.5 288.6,297.5 289.1,297.5 289.6,297.5 290.1,297.5 290.6,297.5 291.1,297.5 291.6,297.5 292.1,297.5 292.6,297.5 293.1,297.5 293.6,297.5 294.1,297.5 294.6,297.5 295.1,297.5 295.6,297.5 296.1,297.5 296.6,297.5 297.1,297.5 297.6,297.5 298.1,297.5 298.6,297.5 299.1,297.5 299.6,297.5 300.1,297.5 300.6,297.5 301.1,297.5 301.6,297.5 302.1,297.5 302.6,297.5 303.1,297.5 303.6,297.5 304.1,297.5 304.6,297.5 305.1,297.5 305.6,297.5 306.1,297.5 306.6,297.5 307.1,297.5 307.6,297.5 308.1,297.5 308.6,297.5 309.1,297.5 309.6,297.5 310.1,297.5 310.6,297.5 311.1,297.5 311.6,297.5 312.1,297.5 312.6,297.5 313.1,297.5 313.6,297.5 314.1,297.5 314.6,297.5 315.1,297.5 315.6,297.5 316.1,297.5 316.6,297.5 317.1,297.5 317.6,297.5 318.1,297.5 318.6,297.5 319.1,297.5 319.6,297.5 320.1,297.5 320.6,297.5 321.1,297.5 321.6,297.5 322.1,297.5 322.6,297.5 323.1,297.5 323.6,297.5 324.1,297.5 324.6,297.5 325.1,297.5 325.6,297.5 326.1,297.5 326.6,297.5 327.1,297.5 327.6,297.5 328.1,297.5 328.6,297.5 329.1,297.5 329.6,297.5 330.1,297.5 330.6,297.5 331.1,297.5 331.6,297.5 332.1,297.5 332.6,297.5 333.1,297.5 333.6,297.5 334.1,297.5 334.6,297.5 335.1,297.5 335.6,297.5 336.1,297.5 336.6,297.5 337.1,297.5 337.6,297.5 338.1,297.5 338.6,297.5 339.1,297.5 339.6,297.5 340.1,297.5 340.6,297.5 341.1,297.5 341.6,297.5 342.1,297.5 342.6,297.5 343.1,297.4 343.6,297.4 344.1,297.4 344.6,297.4 345.1,297.4 345.6,297.4 346.1,297.4 346.6,297.4 347.1,297.4 347.6,297.4 348.1,297.4 348.6,297.4 349.1,297.4 349.6,297.4 350.1,297.4 350.6,297.4 351.1,297.4 351.6,297.4 352.1,297.4 352.6,297.4 353.1,297.4 353.6,297.4 354.1,297.4 354.6,297.4 355.1,297.4 355.6,297.4 356.1,297.4 356.6,297.4" stroke="#e040e0" stroke-width="0.9"/>
<polyline points="197.6,297.5 198.1,297.5 198.6,297.5 199.1,297.5 199.6,297.5 200.1,297.5 200.6,297.5 201.1,297.5 201.6,297.5 202.1,297.5 202.6,297.5 203.1,297.5 203.6,297.5 204.1,297.5 204.6,297.5 205.1,297.5 205.6,297.5 206.1,297.5 206.6,297.5 207.1,297.5 207.6,297.5 208.1,297.5 208.6,297.5 209.1,297.5 209.6,297.5 210.1,297.5 210.6,297.5 211.1,297.5 211.6,297.5 212.1,297.5 212.6,297.5 213.1,297.5 213.6,297.5 214.1,297.5 214.6,297.5 215.1,297.5 215.6,297.5 216.1,297.5 216.6,297.5 217.1,297.5 217.6,297.5 218.1,297.5 218.6,297.5 219.1,297.5 219.6,297.5 220.1,297.5 220.6,297.5 221.1,297.5 221.6,297.5 222.1,297.5 222.6,297.5 223.1,297.5 223.6,297.5 224.1,297.5 224.6,297.5 225.1,297.5 225.6,297.5 226.1,297.5 226.6,297.5 227.1,297.5 227.6,297.5 228.1,297.5 228.6,297.5 229.1,297.5 229.6,297.5 230.1,297.5 230.6,297.5 231.1,297.5 231.6,297.5 232.1,297.5 232.6,297.5 233.1,297.5 233.6,297.5 234.1,297.5 234.6,297.5 235.1,297.5 235.6,297.5 236.1,297.5 236.6,297.5 237.1,297.5 237.6,297.5 238.1,297.5 238.6,297.5 239.1,297.5 239.6,297.5 240.1,297.5 240.6,297.5 241.1,297.5 241.6,297.5 242.1,297.5 242.6,297.5 243.1,297.5 243.6,297.5 244.1,297.5 244.6,297.5 245.1,297.5 245.6,297.5 246.1,297.5 246.6,297.5 247.1,297.5 247.6,297.5 248.1,297.5 248.6,297.5 249.1,297.5 249.6,297.5 250.1,297.5 250.6,297.5 251.1,297.5 251.6,297.5 252.1,297.4 252.6,297.4 253.1,297.4 253.6,297.4 254.1,297.4 254.6,297.4 255.1,297.4 255.6,297.4 256.1,297.4 256.6,297.4 257.1,297.4 257.6,297.4 258.1,297.4 258.6,297.4 259.1,297.4 259.6,297.4 260.1,297.4 260.6,297.4 261.1,297.4 261.6,297.4 262.1,297.4 262.6,297.4 263.1,297.4 263.6,297.4 264.1,297.4 264.6,297.4 265.1,297.4 265.6,297.4 266.1,297.4 266.6,297.4 267.1,297.4 267.6,297.4 268.1,297.4 268.6,297.3 269.1,297.3 269.6,297.3 270.1,297.3 270.6,297.3 271.1,297.3 271.6,297.3 272.1,297.3 272.6,297.3 273.1,297.3 273.6,297.3 274.1,297.3 274.6,297.3 275.1,297.2 275.6,297.2 276.1,297.2 276.6,297.2 277.1,297.2 277.6,297.2 278.1,297.2 278.6,297.2 279.1,297.1 279.6,297.1 280.1,297.1 280.6,297.1 281.1,297.1 281.6,297 282.1,297 282.6,297 283.1,297 283.6,296.9 284.1,296.9 284.6,296.9 285.1,296.8 285.6,296.8 286.1,296.7 286.6,296.6 287.1,296.6 287.6,296.5 288.1,296.4 288.6,296.3 289.1,296.2 289.6,296.1 290.1,295.9 290.6,295.8 291.1,295.6 291.6,295.4 292.1,295.2 292.6,295 293.1,294.7 293.6,294.5 294.1,294.2 294.6,293.9 295.1,293.5 295.6,293.2 296.1,292.8 296.6,292.4 297.1,292 297.6,291.6 298.1,291.2 298.6,290.8 299.1,290.4 299.6,290 300.1,289.6 300.6,289.2 301.1,288.9 301.6,288.5 302.1,288.3 302.6,288.1 303.1,288 303.6,287.9 304.1,287.9 304.6,288 305.1,288.1 305.6,288.3 306.1,288.5 306.6,288.9 307.1,289.2 307.6,289.6 308.1,290 308.6,290.4 309.1,290.8 309.6,291.2 310.1,291.6 310.6,292 311.1,292.4 311.6,292.8 312.1,293.2 312.6,293.5 313.1,293.9 313.6,294.2 314.1,294.5 314.6,294.7 315.1,295 315.6,295.2 316.1,295.4 316.6,295.6 317.1,295.8 317.6,295.9 318.1,296.1 318.6,296.2 319.1,296.3 319.6,296.4 320.1,296.5 320.6,296.6 321.1,296.7 321.6,296.7 322.1,296.8 322.6,296.8 323.1,296.9 323.6,296.9 324.1,297 324.6,297 325.1,297 325.6,297 326.1,297.1 326.6,297.1 327.1,297.1 327.6,297.1 328.1,297.2 328.6,297.2 329.1,297.2 329.6,297.2 330.1,297.2 330.6,297.2 331.1,297.2 331.6,297.3 332.1,297.3 332.6,297.3 333.1,297.3 333.6,297.3 334.1,297.3 334.6,297.3 335.1,297.3 335.6,297.3 336.1,297.3 336.6,297.3 337.1,297.4 337.6,297.4 338.1,297.4 338.6,297.4 339.1,297.4 339.6,297.4 340.1,297.4 340.6,297.4 341.1,297.4 341.6,297.4 342.1,297.4 342.6,297.4 343.1,297.4 343.6,297.4 344.1,297.4 344.6,297.4 345.1,297.4 345.6,297.4 346.1,297.4 346.6,297.5 347.1,297.5 347.6,297.5 348.1,297.5 348.6,297.5 349.1,297.5 349.6,297.5 350.1,297.5 350.6,297.5 351.1,297.5 351.6,297.5 352.1,297.5 352.6,297.5 353.1,297.5 353.6,297.5 354.1,297.5 354.6,297.5 355.1,297.5 355.6,297.5 356.1,297.5 356.6,297.5" stroke="#f2e63c" stroke-width="0.9"/>
<polyline points="197.6,297.6 198.1,297.5 198.6,297.5 199.1,297.5 199.6,297.5 200.1,297.5 200.6,297.5 201.1,297.5 201.6,297.5 202.1,297.4 202.6,297.4 203.1,297.4 203.6,297.4 204.1,297.4 204.6,297.4 205.1,297.4 205.6,297.4 206.1,297.4 206.6,297.3 207.1,297.3 207.6,297.3 208.1,297.3 208.6,297.3 209.1,297.3 209.6,297.3 210.1,297.3 210.6,297.2 211.1,297.2 211.6,297.2 212.1,297.2 212.6,297.2 213.1,297.2 213.6,297.2 214.1,297.2 214.6,297.2 215.1,297.1 215.6,297.1 216.1,297.1 216.6,297.1 217.1,297.1 217.6,297.1 218.1,297.1 218.6,297.1 219.1,297 219.6,297 220.1,297 220.6,297 221.1,297 221.6,297 222.1,297 222.6,297 223.1,296.9 223.6,296.9 224.1,296.9 224.6,296.9 225.1,296.9 225.6,296.9 226.1,296.9 226.6,296.9 227.1,296.9 227.6,296.8 228.1,296.8 228.6,296.8 229.1,296.8 229.6,296.8 230.1,296.8 230.6,296.8 231.1,296.8 231.6,296.7 232.1,296.7 232.6,296.7 233.1,296.7 233.6,296.7 234.1,296.7 234.6,296.7 235.1,296.7 235.6,296.6 236.1,296.6 236.6,296.6 237.1,296.6 237.6,296.6 238.1,296.6 238.6,296.6 239.1,296.6 239.6,296.6 240.1,296.5 240.6,296.5 241.1,296.5 241.6,296.5 242.1,296.5 242.6,296.5 243.1,296.5 243.6,296.5 244.1,296.4 244.6,296.4 245.1,296.4 245.6,296.4 246.1,296.4 246.6,296.4 247.1,296.4 247.6,296.4 248.1,296.3 248.6,296.3 249.1,296.3 249.6,296.3 250.1,296.3 250.6,296.3 251.1,296.3 251.6,296.3 252.1,296.2 252.6,296.2 253.1,296.2 253.6,296.2 254.1,296.2 254.6,296.2 255.1,296.2 255.6,296.2 256.1,296.1 256.6,296.1 257.1,296.1 257.6,296.1 258.1,296.1 258.6,296.1 259.1,296.1 259.6,296.1 260.1,296.1 260.6,296 261.1,296 261.6,296 262.1,296 262.6,296 263.1,296 263.6,296 264.1,295.9 264.6,295.9 265.1,295.9 265.6,295.9 266.1,295.9 266.6,295.9 267.1,295.9 267.6,295.9 268.1,295.8 268.6,295.8 269.1,295.8 269.6,295.8 270.1,295.8 270.6,295.8 271.1,295.8 271.6,295.8 272.1,295.7 272.6,295.7 273.1,295.7 273.6,295.7 274.1,295.7 274.6,295.7 275.1,295.7 275.6,295.7 276.1,295.6 276.6,295.6 277.1,295.6 277.6,295.6 278.1,295.6 278.6,295.6 279.1,295.6 279.6,295.5 280.1,295.5 280.6,295.5 281.1,295.5 281.6,295.5 282.1,295.5 282.6,295.5 283.1,295.4 283.6,295.4 284.1,295.4 284.6,295.4 285.1,295.4 285.6,295.4 286.1,295.4 286.6,295.3 287.1,295.3 287.6,295.3 288.1,295.3 288.6,295.3 289.1,295.3 289.6,295.3 290.1,295.2 290.6,295.2 291.1,295.2 291.6,295.2 292.1,295.2 292.6,295.2 293.1,295.2 293.6,295.1 294.1,295.1 294.6,295.1 295.1,295.1 295.6,295.1 296.1,295.1 296.6,295 297.1,295 297.6,295 298.1,295 298.6,295 299.1,294.9 299.6,294.9 300.1,294.9 300.6,294.9 301.1,294.9 301.6,294.8 302.1,294.8 302.6,294.8 303.1,294.8 303.6,294.8 304.1,294.7 304.6,294.7 305.1,294.7 305.6,294.7 306.1,294.7 306.6,294.6 307.1,294.6 307.6,294.6 308.1,294.5 308.6,294.5 309.1,294.5 309.6,294.5 310.1,294.4 310.6,294.4 311.1,294.4 311.6,294.3 312.1,294.3 312.6,294.2 313.1,294.2 313.6,294.1 314.1,294.1 314.6,294 315.1,294 315.6,293.9 316.1,293.8 316.6,293.8 317.1,293.7 317.6,293.6 318.1,293.5 318.6,293.4 319.1,293.2 319.6,293.1 320.1,292.9 320.6,292.8 321.1,292.6 321.6,292.4 322.1,292.2 322.6,291.9 323.1,291.7 323.6,291.4 324.1,291.1 324.6,290.8 325.1,290.5 325.6,290.2 326.1,289.8 326.6,289.4 327.1,289 327.6,288.6 328.1,288.2 328.6,287.8 329.1,287.4 329.6,287 330.1,286.6 330.6,286.2 331.1,285.8 331.6,285.5 332.1,285.2 332.6,284.9 333.1,284.7 333.6,284.5 334.1,284.4 334.6,284.3 335.1,284.4 335.6,284.4 336.1,284.6 336.6,284.8 337.1,285 337.6,285.3 338.1,285.6 338.6,286 339.1,286.3 339.6,286.7 340.1,287.1 340.6,287.5 341.1,287.9 341.6,288.3 342.1,288.6 342.6,289 343.1,289.4 343.6,289.7 344.1,290 344.6,290.3 345.1,290.6 345.6,290.9 346.1,291.1 346.6,291.4 347.1,291.6 347.6,291.8 348.1,291.9 348.6,292.1 349.1,292.2 349.6,292.4 350.1,292.5 350.6,292.6 351.1,292.7 351.6,292.8 352.1,292.8 352.6,292.9 353.1,293 353.6,293 354.1,293.1 354.6,293.1 355.1,293.1 355.6,293.2 356.1,293.2 356.6,293.2" stroke="#ff3fc4" stroke-width="0.9"/>
<polyline points="197.6,297.3 198.1,297.3 198.6,297.3 199.1,297.3 199.6,297.3 200.1,297.3 200.6,297.3 201.1,297.3 201.6,297.3 202.1,297.3 202.6,297.3 203.1,297.2 203.6,297.2 204.1,297.2 204.6,297.2 205.1,297.2 205.6,297.2 206.1,297.2 206.6,297.2 207.1,297.2 207.6,297.2 208.1,297.2 208.6,297.2 209.1,297.2 209.6,297.2 210.1,297.1 210.6,297.1 211.1,297.1 211.6,297.1 212.1,297.1 212.6,297.1 213.1,297.1 213.6,297.1 214.1,297.1 214.6,297.1 215.1,297.1 215.6,297.1 216.1,297.1 216.6,297.1 217.1,297 217.6,297 218.1,297 218.6,297 219.1,297 219.6,297 220.1,297 220.6,297 221.1,297 221.6,297 222.1,297 222.6,297 223.1,297 223.6,297 224.1,296.9 224.6,296.9 225.1,296.9 225.6,296.9 226.1,296.9 226.6,296.9 227.1,296.9 227.6,296.9 228.1,296.9 228.6,296.9 229.1,296.9 229.6,296.9 230.1,296.9 230.6,296.9 231.1,296.8 231.6,296.8 232.1,296.8 232.6,296.8 233.1,296.8 233.6,296.8 234.1,296.8 234.6,296.8 235.1,296.8 235.6,296.8 236.1,296.8 236.6,296.8 237.1,296.8 237.6,296.7 238.1,296.7 238.6,296.7 239.1,296.7 239.6,296.7 240.1,296.7 240.6,296.7 241.1,296.7 241.6,296.7 242.1,296.7 242.6,296.7 243.1,296.7 243.6,296.7 244.1,296.6 244.6,296.6 245.1,296.6 245.6,296.6 246.1,296.6 246.6,296.6 247.1,296.6 247.6,296.6 248.1,296.6 248.6,296.6 249.1,296.6 249.6,296.6 250.1,296.6 250.6,296.5 251.1,296.5 251.6,296.5 252.1,296.5 252.6,296.5 253.1,296.5 253.6,296.5 254.1,296.5 254.6,296.5 255.1,296.5 255.6,296.5 256.1,296.5 256.6,296.4 257.1,296.4 257.6,296.4 258.1,296.4 258.6,296.4 259.1,296.4 259.6,296.4 260.1,296.4 260.6,296.4 261.1,296.4 261.6,296.4 262.1,296.4 262.6,296.3 263.1,296.3 263.6,296.3 264.1,296.3 264.6,296.3 265.1,296.3 265.6,296.3 266.1,296.3 266.6,296.3 267.1,296.3 267.6,296.3 268.1,296.2 268.6,296.2 269.1,296.2 269.6,296.2 270.1,296.2 270.6,296.2 271.1,296.2 271.6,296.2 272.1,296.2 272.6,296.2 273.1,296.1 273.6,296.1 274.1,296.1 274.6,296.1 275.1,296.1 275.6,296.1 276.1,296.1 276.6,296.1 277.1,296 277.6,296 278.1,296 278.6,296 279.1,296 279.6,296 280.1,296 280.6,296 281.1,295.9 281.6,295.9 282.1,295.9 282.6,295.9 283.1,295.9 283.6,295.9 284.1,295.9 284.6,295.8 285.1,295.8 285.6,295.8 286.1,295.8 286.6,295.8 287.1,295.8 287.6,295.7 288.1,295.7 288.6,295.7 289.1,295.7 289.6,295.7 290.1,295.7 290.6,295.6 291.1,295.6 291.6,295.6 292.1,295.6 292.6,295.5 293.1,295.5 293.6,295.5 294.1,295.5 294.6,295.4 295.1,295.4 295.6,295.4 296.1,295.3 296.6,295.3 297.1,295.3 297.6,295.2 298.1,295.2 298.6,295.2 299.1,295.1 299.6,295.1 300.1,295 300.6,295 301.1,294.9 301.6,294.9 302.1,294.8 302.6,294.8 303.1,294.7 303.6,294.6 304.1,294.5 304.6,294.5 305.1,294.4 305.6,294.2 306.1,294.1 306.6,294 307.1,293.8 307.6,293.6 308.1,293.4 308.6,293.2 309.1,292.9 309.6,292.6 310.1,292.3 310.6,291.9 311.1,291.4 311.6,290.9 312.1,290.3 312.6,289.7 313.1,288.9 313.6,288.2 314.1,287.3 314.6,286.3 315.1,285.3 315.6,284.2 316.1,283.1 316.6,281.8 317.1,280.6 317.6,279.3 318.1,278 318.6,276.7 319.1,275.4 319.6,274.2 320.1,273.2 320.6,272.2 321.1,271.5 321.6,271 322.1,270.7 322.6,270.7 323.1,270.9 323.6,271.4 324.1,272.2 324.6,273.1 325.1,274.1 325.6,275.3 326.1,276.5 326.6,277.8 327.1,279.1 327.6,280.4 328.1,281.6 328.6,282.8 329.1,284 329.6,285.1 330.1,286.1 330.6,287 331.1,287.9 331.6,288.7 332.1,289.4 332.6,290 333.1,290.6 333.6,291.1 334.1,291.5 334.6,291.9 335.1,292.3 335.6,292.6 336.1,292.8 336.6,293 337.1,293.2 337.6,293.4 338.1,293.5 338.6,293.7 339.1,293.8 339.6,293.9 340.1,294 340.6,294 341.1,294.1 341.6,294.2 342.1,294.2 342.6,294.3 343.1,294.3 343.6,294.4 344.1,294.4 344.6,294.4 345.1,294.5 345.6,294.5 346.1,294.5 346.6,294.6 347.1,294.6 347.6,294.6 348.1,294.6 348.6,294.6 349.1,294.7 349.6,294.7 350.1,294.7 350.6,294.7 351.1,294.7 351.6,294.7 352.1,294.7 352.6,294.8 353.1,294.8 353.6,294.8 354.1,294.8 354.6,294.8 355.1,294.8 355.6,294.8 356.1,294.8 356.6,294.8" stroke="#ff9f3c" stroke-width="0.9"/>
<polyline points="197.6,297 198.1,297 198.6,297 199.1,297 199.6,297 200.1,297 200.6,297 201.1,297 201.6,297 202.1,297 202.6,296.9 203.1,296.9 203.6,296.9 204.1,296.9 204.6,296.9 205.1,296.9 205.6,296.9 206.1,296.9 206.6,296.8 207.1,296.8 207.6,296.8 208.1,296.8 208.6,296.8 209.1,296.8 209.6,296.8 210.1,296.7 210.6,296.7 211.1,296.7 211.6,296.7 212.1,296.7 212.6,296.6 213.1,296.6 213.6,296.6 214.1,296.6 214.6,296.6 215.1,296.5 215.6,296.5 216.1,296.5 216.6,296.5 217.1,296.4 217.6,296.4 218.1,296.4 218.6,296.4 219.1,296.3 219.6,296.3 220.1,296.3 220.6,296.2 221.1,296.2 221.6,296.2 222.1,296.1 222.6,296.1 223.1,296.1 223.6,296 224.1,296 224.6,295.9 225.1,295.9 225.6,295.8 226.1,295.8 226.6,295.7 227.1,295.7 227.6,295.6 228.1,295.5 228.6,295.5 229.1,295.4 229.6,295.3 230.1,295.2 230.6,295.1 231.1,295 231.6,294.9 232.1,294.8 232.6,294.7 233.1,294.6 233.6,294.5 234.1,294.3 234.6,294.2 235.1,294 235.6,293.9 236.1,293.7 236.6,293.5 237.1,293.3 237.6,293.1 238.1,292.8 238.6,292.6 239.1,292.3 239.6,292.1 240.1,291.8 240.6,291.5 241.1,291.1 241.6,290.8 242.1,290.4 242.6,290.1 243.1,289.7 243.6,289.3 244.1,288.8 244.6,288.4 245.1,287.9 245.6,287.4 246.1,286.9 246.6,286.4 247.1,285.8 247.6,285.3 248.1,284.7 248.6,284.1 249.1,283.5 249.6,282.9 250.1,282.3 250.6,281.7 251.1,281 251.6,280.4 252.1,279.8 252.6,279.2 253.1,278.6 253.6,278 254.1,277.5 254.6,276.9 255.1,276.5 255.6,276 256.1,275.6 256.6,275.3 257.1,275 257.6,274.8 258.1,274.6 258.6,274.5 259.1,274.5 259.6,274.6 260.1,274.7 260.6,274.9 261.1,275.2 261.6,275.5 262.1,275.9 262.6,276.3 263.1,276.8 263.6,277.3 264.1,277.8 264.6,278.4 265.1,279 265.6,279.6 266.1,280.2 266.6,280.8 267.1,281.4 267.6,282.1 268.1,282.7 268.6,283.3 269.1,283.9 269.6,284.5 270.1,285.1 270.6,285.6 271.1,286.2 271.6,286.7 272.1,287.2 272.6,287.7 273.1,288.2 273.6,288.7 274.1,289.1 274.6,289.5 275.1,289.9 275.6,290.3 276.1,290.7 276.6,291 277.1,291.3 277.6,291.6 278.1,291.9 278.6,292.2 279.1,292.5 279.6,292.7 280.1,293 280.6,293.2 281.1,293.4 281.6,293.6 282.1,293.8 282.6,293.9 283.1,294.1 283.6,294.2 284.1,294.4 284.6,294.5 285.1,294.6 285.6,294.8 286.1,294.9 286.6,295 287.1,295.1 287.6,295.2 288.1,295.2 288.6,295.3 289.1,295.4 289.6,295.5 290.1,295.5 290.6,295.6 291.1,295.7 291.6,295.7 292.1,295.8 292.6,295.8 293.1,295.9 293.6,295.9 294.1,296 294.6,296 295.1,296 295.6,296.1 296.1,296.1 296.6,296.1 297.1,296.2 297.6,296.2 298.1,296.2 298.6,296.3 299.1,296.3 299.6,296.3 300.1,296.4 300.6,296.4 301.1,296.4 301.6,296.4 302.1,296.5 302.6,296.5 303.1,296.5 303.6,296.5 304.1,296.5 304.6,296.6 305.1,296.6 305.6,296.6 306.1,296.6 306.6,296.6 307.1,296.7 307.6,296.7 308.1,296.7 308.6,296.7 309.1,296.7 309.6,296.7 310.1,296.7 310.6,296.8 311.1,296.8 311.6,296.8 312.1,296.8 312.6,296.8 313.1,296.8 313.6,296.8 314.1,296.9 314.6,296.9 315.1,296.9 315.6,296.9 316.1,296.9 316.6,296.9 317.1,296.9 317.6,296.9 318.1,296.9 318.6,296.9 319.1,297 319.6,297 320.1,297 320.6,297 321.1,297 321.6,297 322.1,297 322.6,297 323.1,297 323.6,297 324.1,297 324.6,297 325.1,297 325.6,297 326.1,297.1 326.6,297.1 327.1,297.1 327.6,297.1 328.1,297.1 328.6,297.1 329.1,297.1 329.6,297.1 330.1,297.1 330.6,297.1 331.1,297.1 331.6,297.1 332.1,297.1 332.6,297.1 333.1,297.1 333.6,297.1 334.1,297.1 334.6,297.1 335.1,297.2 335.6,297.2 336.1,297.2 336.6,297.2 337.1,297.2 337.6,297.2 338.1,297.2 338.6,297.2 339.1,297.2 339.6,297.2 340.1,297.2 340.6,297.2 341.1,297.2 341.6,297.2 342.1,297.2 342.6,297.2 343.1,297.2 343.6,297.2 344.1,297.2 344.6,297.2 345.1,297.2 345.6,297.2 346.1,297.2 346.6,297.2 347.1,297.2 347.6,297.2 348.1,297.2 348.6,297.2 349.1,297.2 349.6,297.2 350.1,297.2 350.6,297.3 351.1,297.3 351.6,297.3 352.1,297.3 352.6,297.3 353.1,297.3 353.6,297.3 354.1,297.3 354.6,297.3 355.1,297.3 355.6,297.3 356.1,297.3 356.6,297.3" stroke="#3b5cff" stroke-width="0.9"/>
<polyline points="197.6,296.5 198.1,296.5 198.6,296.5 199.1,296.5 199.6,296.5 200.1,296.5 200.6,296.5 201.1,296.4 201.6,296.4 202.1,296.4 202.6,296.4 203.1,296.4 203.6,296.4 204.1,296.4 204.6,296.4 205.1,296.3 205.6,296.3 206.1,296.3 206.6,296.3 207.1,296.3 207.6,296.3 208.1,296.2 208.6,296.2 209.1,296.2 209.6,296.2 210.1,296.2 210.6,296.2 211.1,296.1 211.6,296.1 212.1,296.1 212.6,296.1 213.1,296.1 213.6,296 214.1,296 214.6,296 215.1,296 215.6,296 216.1,295.9 216.6,295.9 217.1,295.9 217.6,295.9 218.1,295.8 218.6,295.8 219.1,295.8 219.6,295.8 220.1,295.7 220.6,295.7 221.1,295.7 221.6,295.6 222.1,295.6 222.6,295.6 223.1,295.6 223.6,295.5 224.1,295.5 224.6,295.5 225.1,295.4 225.6,295.4 226.1,295.4 226.6,295.3 227.1,295.3 227.6,295.2 228.1,295.2 228.6,295.2 229.1,295.1 229.6,295.1 230.1,295 230.6,295 231.1,295 231.6,294.9 232.1,294.9 232.6,294.8 233.1,294.8 233.6,294.7 234.1,294.7 234.6,294.6 235.1,294.5 235.6,294.5 236.1,294.4 236.6,294.4 237.1,294.3 237.6,294.2 238.1,294.2 238.6,294.1 239.1,294 239.6,294 240.1,293.9 240.6,293.8 241.1,293.7 241.6,293.6 242.1,293.5 242.6,293.5 243.1,293.4 243.6,293.3 244.1,293.2 244.6,293.1 245.1,293 245.6,292.8 246.1,292.7 246.6,292.6 247.1,292.5 247.6,292.3 248.1,292.2 248.6,292.1 249.1,291.9 249.6,291.8 250.1,291.6 250.6,291.4 251.1,291.2 251.6,291.1 252.1,290.9 252.6,290.7 253.1,290.4 253.6,290.2 254.1,289.9 254.6,289.7 255.1,289.4 255.6,289.1 256.1,288.8 256.6,288.5 257.1,288.1 257.6,287.8 258.1,287.4 258.6,287 259.1,286.5 259.6,286.1 260.1,285.6 260.6,285 261.1,284.5 261.6,283.9 262.1,283.2 262.6,282.6 263.1,281.9 263.6,281.1 264.1,280.3 264.6,279.5 265.1,278.6 265.6,277.7 266.1,276.7 266.6,275.7 267.1,274.6 267.6,273.4 268.1,272.2 268.6,271 269.1,269.7 269.6,268.3 270.1,266.9 270.6,265.4 271.1,263.9 271.6,262.3 272.1,260.7 272.6,259 273.1,257.3 273.6,255.5 274.1,253.7 274.6,251.9 275.1,250 275.6,248.1 276.1,246.3 276.6,244.4 277.1,242.6 277.6,240.7 278.1,239 278.6,237.3 279.1,235.7 279.6,234.1 280.1,232.8 280.6,231.5 281.1,230.4 281.6,229.5 282.1,228.7 282.6,228.2 283.1,227.9 283.6,227.8 284.1,227.9 284.6,228.2 285.1,228.7 285.6,229.5 286.1,230.4 286.6,231.5 287.1,232.7 287.6,234.1 288.1,235.6 288.6,237.3 289.1,239 289.6,240.7 290.1,242.5 290.6,244.4 291.1,246.2 291.6,248.1 292.1,250 292.6,251.8 293.1,253.7 293.6,255.5 294.1,257.2 294.6,259 295.1,260.7 295.6,262.3 296.1,263.9 296.6,265.4 297.1,266.9 297.6,268.3 298.1,269.6 298.6,270.9 299.1,272.2 299.6,273.4 300.1,274.5 300.6,275.6 301.1,276.6 301.6,277.6 302.1,278.6 302.6,279.4 303.1,280.3 303.6,281.1 304.1,281.8 304.6,282.5 305.1,283.2 305.6,283.8 306.1,284.4 306.6,285 307.1,285.5 307.6,286 308.1,286.5 308.6,286.9 309.1,287.3 309.6,287.7 310.1,288.1 310.6,288.4 311.1,288.7 311.6,289.1 312.1,289.3 312.6,289.6 313.1,289.9 313.6,290.1 314.1,290.4 314.6,290.6 315.1,290.8 315.6,291 316.1,291.2 316.6,291.3 317.1,291.5 317.6,291.7 318.1,291.8 318.6,292 319.1,292.1 319.6,292.3 320.1,292.4 320.6,292.5 321.1,292.6 321.6,292.7 322.1,292.9 322.6,293 323.1,293.1 323.6,293.2 324.1,293.3 324.6,293.4 325.1,293.4 325.6,293.5 326.1,293.6 326.6,293.7 327.1,293.8 327.6,293.8 328.1,293.9 328.6,294 329.1,294.1 329.6,294.1 330.1,294.2 330.6,294.2 331.1,294.3 331.6,294.4 332.1,294.4 332.6,294.5 333.1,294.5 333.6,294.6 334.1,294.6 334.6,294.7 335.1,294.7 335.6,294.8 336.1,294.8 336.6,294.9 337.1,294.9 337.6,294.9 338.1,295 338.6,295 339.1,295.1 339.6,295.1 340.1,295.1 340.6,295.2 341.1,295.2 341.6,295.2 342.1,295.3 342.6,295.3 343.1,295.3 343.6,295.4 344.1,295.4 344.6,295.4 345.1,295.5 345.6,295.5 346.1,295.5 346.6,295.5 347.1,295.6 347.6,295.6 348.1,295.6 348.6,295.6 349.1,295.7 349.6,295.7 350.1,295.7 350.6,295.7 351.1,295.8 351.6,295.8 352.1,295.8 352.6,295.8 353.1,295.8 353.6,295.9 354.1,295.9 354.6,295.9 355.1,295.9 355.6,295.9 356.1,296 356.6,296" stroke="#86e63c" stroke-width="0.9"/>
<polyline points="197.6,295.4 198.1,295.4 198.6,295.3 199.1,295.3 199.6,295.3 200.1,295.3 200.6,295.3 201.1,295.3 201.6,295.3 202.1,295.3 202.6,295.2 203.1,295.2 203.6,295.2 204.1,295.2 204.6,295.2 205.1,295.2 205.6,295.2 206.1,295.1 206.6,295.1 207.1,295.1 207.6,295.1 208.1,295.1 208.6,295.1 209.1,295 209.6,295 210.1,295 210.6,295 211.1,295 211.6,295 212.1,294.9 212.6,294.9 213.1,294.9 213.6,294.9 214.1,294.9 214.6,294.8 215.1,294.8 215.6,294.8 216.1,294.8 216.6,294.8 217.1,294.7 217.6,294.7 218.1,294.7 218.6,294.7 219.1,294.7 219.6,294.6 220.1,294.6 220.6,294.6 221.1,294.6 221.6,294.5 222.1,294.5 222.6,294.5 223.1,294.5 223.6,294.4 224.1,294.4 224.6,294.4 225.1,294.3 225.6,294.3 226.1,294.3 226.6,294.2 227.1,294.2 227.6,294.2 228.1,294.1 228.6,294.1 229.1,294.1 229.6,294 230.1,294 230.6,293.9 231.1,293.9 231.6,293.9 232.1,293.8 232.6,293.8 233.1,293.7 233.6,293.7 234.1,293.6 234.6,293.6 235.1,293.5 235.6,293.4 236.1,293.4 236.6,293.3 237.1,293.3 237.6,293.2 238.1,293.1 238.6,293.1 239.1,293 239.6,292.9 240.1,292.8 240.6,292.7 241.1,292.6 241.6,292.5 242.1,292.4 242.6,292.3 243.1,292.2 243.6,292.1 244.1,292 244.6,291.9 245.1,291.7 245.6,291.6 246.1,291.4 246.6,291.3 247.1,291.1 247.6,290.9 248.1,290.7 248.6,290.5 249.1,290.3 249.6,290.1 250.1,289.8 250.6,289.6 251.1,289.3 251.6,289 252.1,288.7 252.6,288.3 253.1,288 253.6,287.6 254.1,287.1 254.6,286.6 255.1,286.1 255.6,285.6 256.1,284.9 256.6,284.3 257.1,283.5 257.6,282.7 258.1,281.8 258.6,280.9 259.1,279.8 259.6,278.6 260.1,277.3 260.6,275.8 261.1,274.2 261.6,272.3 262.1,270.3 262.6,268.1 263.1,265.6 263.6,262.8 264.1,259.8 264.6,256.5 265.1,252.9 265.6,249 266.1,244.9 266.6,240.8 267.1,236.7 267.6,232.8 268.1,229.4 268.6,226.7 269.1,224.9 269.6,224.2 270.1,224.7 270.6,226.2 271.1,228.8 271.6,232 272.1,235.8 272.6,239.9 273.1,244 273.6,248.1 274.1,252 274.6,255.6 275.1,259 275.6,262.1 276.1,264.9 276.6,267.4 277.1,269.7 277.6,271.7 278.1,273.6 278.6,275.2 279.1,276.7 279.6,278.1 280.1,279.3 280.6,280.4 281.1,281.3 281.6,282.2 282.1,283 282.6,283.8 283.1,284.4 283.6,285 284.1,285.6 284.6,286.1 285.1,286.6 285.6,287 286.1,287.4 286.6,287.8 287.1,288.1 287.6,288.4 288.1,288.7 288.6,289 289.1,289.3 289.6,289.5 290.1,289.7 290.6,289.9 291.1,290.1 291.6,290.3 292.1,290.5 292.6,290.6 293.1,290.8 293.6,290.9 294.1,291 294.6,291.1 295.1,291.3 295.6,291.4 296.1,291.5 296.6,291.6 297.1,291.7 297.6,291.7 298.1,291.8 298.6,291.9 299.1,292 299.6,292 300.1,292.1 300.6,292.2 301.1,292.2 301.6,292.3 302.1,292.3 302.6,292.4 303.1,292.4 303.6,292.5 304.1,292.5 304.6,292.6 305.1,292.6 305.6,292.7 306.1,292.7 306.6,292.7 307.1,292.8 307.6,292.8 308.1,292.8 308.6,292.8 309.1,292.9 309.6,292.9 310.1,292.9 310.6,293 311.1,293 311.6,293 312.1,293 312.6,293 313.1,293.1 313.6,293.1 314.1,293.1 314.6,293.1 315.1,293.1 315.6,293.1 316.1,293.2 316.6,293.2 317.1,293.2 317.6,293.2 318.1,293.2 318.6,293.2 319.1,293.2 319.6,293.2 320.1,293.2 320.6,293.3 321.1,293.3 321.6,293.3 322.1,293.3 322.6,293.3 323.1,293.3 323.6,293.3 324.1,293.3 324.6,293.3 325.1,293.3 325.6,293.3 326.1,293.3 326.6,293.3 327.1,293.3 327.6,293.3 328.1,293.3 328.6,293.3 329.1,293.3 329.6,293.4 330.1,293.4 330.6,293.4 331.1,293.4 331.6,293.4 332.1,293.4 332.6,293.4 333.1,293.4 333.6,293.4 334.1,293.4 334.6,293.4 335.1,293.4 335.6,293.4 336.1,293.4 336.6,293.4 337.1,293.4 337.6,293.4 338.1,293.4 338.6,293.4 339.1,293.4 339.6,293.4 340.1,293.4 340.6,293.4 341.1,293.4 341.6,293.4 342.1,293.4 342.6,293.4 343.1,293.4 343.6,293.4 344.1,293.4 344.6,293.4 345.1,293.4 345.6,293.4 346.1,293.3 346.6,293.3 347.1,293.3 347.6,293.3 348.1,293.3 348.6,293.3 349.1,293.3 349.6,293.3 350.1,293.3 350.6,293.3 351.1,293.3 351.6,293.3 352.1,293.3 352.6,293.3 353.1,293.3 353.6,293.3 354.1,293.3 354.6,293.3 355.1,293.3 355.6,293.3 356.1,293.3 356.6,293.3" stroke="#3fc4f8" stroke-width="0.9"/>
<polyline points="197.6,296.3 198.1,296.3 198.6,296.2 199.1,296.1 199.6,296.1 200.1,296 200.6,295.9 201.1,295.8 201.6,295.8 202.1,295.7 202.6,295.6 203.1,295.5 203.6,295.4 204.1,295.3 204.6,295.2 205.1,295.1 205.6,295 206.1,294.9 206.6,294.8 207.1,294.7 207.6,294.6 208.1,294.5 208.6,294.4 209.1,294.2 209.6,294.1 210.1,294 210.6,293.8 211.1,293.7 211.6,293.6 212.1,293.4 212.6,293.3 213.1,293.1 213.6,292.9 214.1,292.8 214.6,292.6 215.1,292.4 215.6,292.2 216.1,292.1 216.6,291.9 217.1,291.7 217.6,291.5 218.1,291.3 218.6,291.1 219.1,290.8 219.6,290.6 220.1,290.4 220.6,290.2 221.1,289.9 221.6,289.7 222.1,289.5 222.6,289.2 223.1,289 223.6,288.7 224.1,288.5 224.6,288.2 225.1,288 225.6,287.7 226.1,287.5 226.6,287.2 227.1,287 227.6,286.7 228.1,286.5 228.6,286.2 229.1,286 229.6,285.8 230.1,285.5 230.6,285.3 231.1,285.1 231.6,284.9 232.1,284.7 232.6,284.5 233.1,284.3 233.6,284.1 234.1,283.9 234.6,283.7 235.1,283.5 235.6,283.3 236.1,283.1 236.6,282.9 237.1,282.7 237.6,282.6 238.1,282.4 238.6,282.1 239.1,281.9 239.6,281.7 240.1,281.4 240.6,281.2 241.1,280.9 241.6,280.6 242.1,280.3 242.6,279.9 243.1,279.5 243.6,279.1 244.1,278.6 244.6,278.2 245.1,277.6 245.6,277 246.1,276.4 246.6,275.8 247.1,275 247.6,274.3 248.1,273.4 248.6,272.5 249.1,271.6 249.6,270.6 250.1,269.5 250.6,268.3 251.1,267.1 251.6,265.8 252.1,264.4 252.6,263 253.1,261.5 253.6,259.9 254.1,258.2 254.6,256.5 255.1,254.7 255.6,252.8 256.1,250.9 256.6,248.9 257.1,246.8 257.6,244.7 258.1,242.5 258.6,240.2 259.1,237.9 259.6,235.6 260.1,233.2 260.6,230.7 261.1,228.1 261.6,225.4 262.1,222.6 262.6,219.7 263.1,216.7 263.6,213.4 264.1,210.1 264.6,206.6 265.1,203 265.6,199.3 266.1,195.7 266.6,192.3 267.1,189.2 267.6,186.5 268.1,184.4 268.6,183.1 269.1,182.5 269.6,182.7 270.1,183.5 270.6,185 271.1,186.9 271.6,189 272.1,191.3 272.6,193.5 273.1,195.7 273.6,197.7 274.1,199.6 274.6,201.2 275.1,202.5 275.6,203.7 276.1,204.6 276.6,205.4 277.1,206 277.6,206.5 278.1,206.9 278.6,207.3 279.1,207.6 279.6,207.9 280.1,208.2 280.6,208.5 281.1,208.9 281.6,209.4 282.1,210 282.6,210.7 283.1,211.4 283.6,212.3 284.1,213.3 284.6,214.4 285.1,215.6 285.6,216.9 286.1,218.3 286.6,219.8 287.1,221.4 287.6,223 288.1,224.7 288.6,226.4 289.1,228.1 289.6,229.8 290.1,231.5 290.6,233.3 291.1,235 291.6,236.7 292.1,238.3 292.6,239.9 293.1,241.5 293.6,243 294.1,244.5 294.6,245.9 295.1,247.3 295.6,248.6 296.1,249.8 296.6,251 297.1,252.2 297.6,253.2 298.1,254.3 298.6,255.2 299.1,256.1 299.6,257 300.1,257.8 300.6,258.6 301.1,259.4 301.6,260.1 302.1,260.8 302.6,261.4 303.1,262.1 303.6,262.7 304.1,263.4 304.6,264 305.1,264.6 305.6,265.1 306.1,265.7 306.6,266.2 307.1,266.7 307.6,267.2 308.1,267.6 308.6,268 309.1,268.4 309.6,268.7 310.1,268.9 310.6,269 311.1,269.1 311.6,269.1 312.1,269.1 312.6,268.9 313.1,268.7 313.6,268.4 314.1,268 314.6,267.5 315.1,266.9 315.6,266.3 316.1,265.6 316.6,264.9 317.1,264.1 317.6,263.2 318.1,262.4 318.6,261.5 319.1,260.6 319.6,259.8 320.1,259 320.6,258.3 321.1,257.7 321.6,257.1 322.1,256.8 322.6,256.5 323.1,256.5 323.6,256.6 324.1,256.8 324.6,257.2 325.1,257.7 325.6,258.3 326.1,259 326.6,259.8 327.1,260.6 327.6,261.5 328.1,262.4 328.6,263.3 329.1,264.2 329.6,265.1 330.1,266 330.6,266.9 331.1,267.7 331.6,268.6 332.1,269.4 332.6,270.2 333.1,271 333.6,271.9 334.1,272.7 334.6,273.5 335.1,274.3 335.6,275.1 336.1,275.9 336.6,276.7 337.1,277.4 337.6,278.2 338.1,279 338.6,279.7 339.1,280.4 339.6,281.1 340.1,281.7 340.6,282.3 341.1,282.9 341.6,283.5 342.1,284.1 342.6,284.6 343.1,285.1 343.6,285.5 344.1,285.9 344.6,286.4 345.1,286.7 345.6,287.1 346.1,287.4 346.6,287.7 347.1,288 347.6,288.3 348.1,288.5 348.6,288.8 349.1,289 349.6,289.2 350.1,289.4 350.6,289.5 351.1,289.7 351.6,289.8 352.1,290 352.6,290.1 353.1,290.2 353.6,290.3 354.1,290.4 354.6,290.5 355.1,290.6 355.6,290.6 356.1,290.7 356.6,290.8" stroke="#9c4650" stroke-width="1.0"/>
</g>
<rect x="197.6" y="171.2" width="159.4" height="130.4" fill="none" stroke="#7a7a7a" stroke-width="1.3"/>
<text transform="translate(197.6,310.4) scale(1,1.22)" font-size="5.4" text-anchor="middle" fill="#222" stroke="#222" stroke-width="0.15">3100</text>
<text transform="translate(222.1,310.4) scale(1,1.22)" font-size="5.4" text-anchor="middle" fill="#222" stroke="#222" stroke-width="0.15">3050</text>
<text transform="translate(246.6,310.4) scale(1,1.22)" font-size="5.4" text-anchor="middle" fill="#222" stroke="#222" stroke-width="0.15">3000</text>
<text transform="translate(271.2,310.4) scale(1,1.22)" font-size="5.4" text-anchor="middle" fill="#222" stroke="#222" stroke-width="0.15">2950</text>
<text transform="translate(295.7,310.4) scale(1,1.22)" font-size="5.4" text-anchor="middle" fill="#222" stroke="#222" stroke-width="0.15">2900</text>
<text transform="translate(320.2,310.4) scale(1,1.22)" font-size="5.4" text-anchor="middle" fill="#222" stroke="#222" stroke-width="0.15">2850</text>
<text transform="translate(344.7,310.4) scale(1,1.22)" font-size="5.4" text-anchor="middle" fill="#222" stroke="#222" stroke-width="0.15">2800</text>
<path d="M197.6 301.9v2.6 M209.9 301.9v1.3 M222.1 301.9v2.6 M234.4 301.9v1.3 M246.6 301.9v2.6 M258.9 301.9v1.3 M271.2 301.9v2.6 M283.4 301.9v1.3 M295.7 301.9v2.6 M308 301.9v1.3 M320.2 301.9v2.6 M332.5 301.9v1.3 M344.7 301.9v2.6 M357 301.9v1.3" stroke="#222" stroke-width="0.95" fill="none"/>
<text x="277.3" y="320.4" font-size="5.4" text-anchor="middle" fill="#222" stroke="#222" stroke-width="0.12">Raman shift (cm<tspan font-size="3.4" dx="0.7" dy="-2.1">-1</tspan><tspan dx="0.3" dy="2.1">)</tspan></text>
<text transform="translate(192.9,236.8) rotate(-90)" font-size="5.4" text-anchor="middle" fill="#222" stroke="#222" stroke-width="0.12">Intensity, A.U.</text>
<text transform="translate(189.6,177.3) scale(0.8,1)" font-size="7.9" font-weight="bold" fill="#111" stroke="#111" stroke-width="0.3">k</text>
<text x="354.7" y="179.4" font-size="6.55" text-anchor="end" fill="#111" stroke="#111" stroke-width="0.18">pure G1.5</text>
<text transform="translate(252,178.9) scale(1,1.15)" font-size="4.75" fill="#222" stroke="#222" stroke-width="0.15">2953 cm<tspan font-size="3" dx="0.8" dy="-1.75">-1</tspan></text>
<text transform="translate(233,249.3) scale(1,1.15)" font-size="4.75" fill="#222" stroke="#222" stroke-width="0.15">2974 cm<tspan font-size="3" dx="0.8" dy="-1.75">-1</tspan></text>
<text transform="translate(213.6,271.5) scale(1,1.15)" font-size="4.75" fill="#222" stroke="#222" stroke-width="0.15">3027 cm<tspan font-size="3" dx="0.8" dy="-1.75">-1</tspan></text>
<text transform="translate(282.4,202.9) scale(1,1.15)" font-size="4.75" fill="#222" stroke="#222" stroke-width="0.15">2925 cm<tspan font-size="3" dx="0.8" dy="-1.75">-1</tspan></text>
<text transform="translate(295.8,237.9) scale(1,1.15)" font-size="4.75" fill="#222" stroke="#222" stroke-width="0.15">2884 cm<tspan font-size="3" dx="0.8" dy="-1.75">-1</tspan></text>
<text transform="translate(317.9,247) scale(1,1.15)" font-size="4.75" fill="#222" stroke="#222" stroke-width="0.15">2845 cm<tspan font-size="3" dx="0.8" dy="-1.75">-1</tspan></text>
<text transform="translate(333.4,258.9) scale(1,1.15)" font-size="4.75" fill="#222" stroke="#222" stroke-width="0.15">2822 cm<tspan font-size="3" dx="0.8" dy="-1.75">-1</tspan></text>
<line x1="246.0" y1="255.7" x2="254.6" y2="275.1" stroke="#333" stroke-width="0.6" marker-end="url(#arr)"/>
<line x1="303.2" y1="239.7" x2="303.2" y2="286.6" stroke="#333" stroke-width="0.6" marker-end="url(#arr)"/>
<clipPath id="cl"><rect x="380.5" y="173.2" width="160.1" height="128.3"/></clipPath>
<g clip-path="url(#cl)" fill="none" stroke-linejoin="round">
<polyline points="380.5,296 381,296 381.5,296 382,296 382.5,296 383,296 383.5,296 384,296 384.5,296 385,296 385.5,296 386,296 386.5,296 387,296 387.5,296 388,296 388.5,296 389,296 389.5,296 390,296 390.5,296 391,296 391.5,296 392,296 392.5,296 393,296 393.5,296 394,296 394.5,296 395,296 395.5,296 396,296 396.5,296 397,296 397.5,296 398,296 398.5,296 399,296 399.5,296 400,296 400.5,296 401,296 401.5,296 402,296 402.5,296 403,296 403.5,296 404,296 404.5,296 405,296 405.5,296 406,296 406.5,296 407,296 407.5,296 408,296 408.5,296 409,296 409.5,296 410,296 410.5,296 411,296 411.5,296 412,296 412.5,296 413,296 413.5,296 414,296 414.5,296 415,296 415.5,296 416,296 416.5,296 417,296 417.5,296 418,296 418.5,296 419,296 419.5,296 420,296 420.5,296 421,296 421.5,296 422,296 422.5,296 423,296 423.5,296 424,296 424.5,296 425,296 425.5,296 426,296 426.5,296 427,296 427.5,296 428,296 428.5,296 429,296 429.5,296 430,296 430.5,296 431,296 431.5,296 432,296 432.5,296 433,296 433.5,296 434,296 434.5,296 435,296 435.5,296 436,296 436.5,296 437,296 437.5,296 438,296 438.5,296 439,296 439.5,296 440,296 440.5,296 441,296 441.5,296 442,296 442.5,296 443,296 443.5,296 444,296 444.5,296 445,296 445.5,296 446,296 446.5,296 447,296 447.5,296 448,296 448.5,296 449,296 449.5,296 450,296 450.5,296 451,296 451.5,296 452,296 452.5,296 453,296 453.5,296 454,296 454.5,296 455,296 455.5,296 456,296 456.5,296 457,296 457.5,296 458,296 458.5,296 459,296 459.5,296 460,296 460.5,296 461,296 461.5,296 462,296 462.5,296 463,296 463.5,296 464,296 464.5,296 465,296 465.5,296 466,296 466.5,296 467,296 467.5,296 468,296 468.5,296 469,296 469.5,296 470,296 470.5,296 471,296 471.5,296 472,296 472.5,296 473,296 473.5,296 474,296 474.5,296 475,296 475.5,296 476,296 476.5,296 477,296 477.5,296 478,296 478.5,296 479,296 479.5,296 480,296 480.5,296 481,296 481.5,296 482,296 482.5,296 483,296 483.5,296 484,296 484.5,296 485,296 485.5,296 486,296 486.5,296 487,296 487.5,296 488,296 488.5,296 489,296 489.5,296 490,296 490.5,296 491,296 491.5,296 492,296 492.5,296 493,295.9 493.5,295.9 494,295.9 494.5,295.9 495,295.9 495.5,295.9 496,295.9 496.5,295.9 497,295.9 497.5,295.9 498,295.9 498.5,295.9 499,295.9 499.5,295.9 500,295.9 500.5,295.9 501,295.9 501.5,295.9 502,295.9 502.5,295.9 503,295.9 503.5,295.8 504,295.8 504.5,295.8 505,295.8 505.5,295.8 506,295.7 506.5,295.7 507,295.7 507.5,295.6 508,295.6 508.5,295.5 509,295.4 509.5,295.4 510,295.3 510.5,295.1 511,295 511.5,294.9 512,294.8 512.5,294.6 513,294.4 513.5,294.3 514,294.1 514.5,293.9 515,293.8 515.5,293.7 516,293.6 516.5,293.5 517,293.5 517.5,293.5 518,293.6 518.5,293.7 519,293.8 519.5,293.9 520,294.1 520.5,294.3 521,294.4 521.5,294.6 522,294.8 522.5,294.9 523,295 523.5,295.1 524,295.3 524.5,295.4 525,295.4 525.5,295.5 526,295.6 526.5,295.6 527,295.7 527.5,295.7 528,295.7 528.5,295.8 529,295.8 529.5,295.8 530,295.8 530.5,295.8 531,295.9 531.5,295.9 532,295.9 532.5,295.9 533,295.9 533.5,295.9 534,295.9 534.5,295.9 535,295.9 535.5,295.9 536,295.9 536.5,295.9 537,295.9 537.5,295.9 538,295.9 538.5,295.9 539,295.9 539.5,295.9 540,295.9 540.5,295.9" stroke="#ff3fc4" stroke-width="0.9"/>
<polyline points="380.5,297 381,297 381.5,296.9 382,296.9 382.5,296.9 383,296.9 383.5,296.9 384,296.9 384.5,296.9 385,296.8 385.5,296.8 386,296.8 386.5,296.8 387,296.8 387.5,296.7 388,296.7 388.5,296.7 389,296.7 389.5,296.6 390,296.6 390.5,296.6 391,296.5 391.5,296.5 392,296.5 392.5,296.4 393,296.4 393.5,296.3 394,296.2 394.5,296.2 395,296.1 395.5,296 396,295.9 396.5,295.8 397,295.7 397.5,295.6 398,295.5 398.5,295.3 399,295.2 399.5,295 400,294.9 400.5,294.7 401,294.5 401.5,294.2 402,294 402.5,293.8 403,293.5 403.5,293.2 404,292.9 404.5,292.6 405,292.3 405.5,291.9 406,291.6 406.5,291.2 407,290.8 407.5,290.4 408,290 408.5,289.6 409,289.1 409.5,288.7 410,288.3 410.5,287.9 411,287.4 411.5,287 412,286.6 412.5,286.3 413,285.9 413.5,285.6 414,285.4 414.5,285.1 415,284.9 415.5,284.8 416,284.7 416.5,284.7 417,284.7 417.5,284.8 418,285 418.5,285.2 419,285.4 419.5,285.7 420,286 420.5,286.3 421,286.7 421.5,287.1 422,287.5 422.5,287.9 423,288.4 423.5,288.8 424,289.2 424.5,289.6 425,290.1 425.5,290.5 426,290.9 426.5,291.3 427,291.6 427.5,292 428,292.3 428.5,292.7 429,293 429.5,293.3 430,293.6 430.5,293.8 431,294.1 431.5,294.3 432,294.5 432.5,294.7 433,294.9 433.5,295.1 434,295.2 434.5,295.4 435,295.5 435.5,295.7 436,295.8 436.5,295.9 437,296 437.5,296.1 438,296.1 438.5,296.2 439,296.3 439.5,296.3 440,296.4 440.5,296.5 441,296.5 441.5,296.6 442,296.6 442.5,296.6 443,296.7 443.5,296.7 444,296.7 444.5,296.8 445,296.8 445.5,296.8 446,296.8 446.5,296.8 447,296.9 447.5,296.9 448,296.9 448.5,296.9 449,296.9 449.5,297 450,297 450.5,297 451,297 451.5,297 452,297 452.5,297 453,297.1 453.5,297.1 454,297.1 454.5,297.1 455,297.1 455.5,297.1 456,297.1 456.5,297.1 457,297.1 457.5,297.1 458,297.1 458.5,297.2 459,297.2 459.5,297.2 460,297.2 460.5,297.2 461,297.2 461.5,297.2 462,297.2 462.5,297.2 463,297.2 463.5,297.2 464,297.2 464.5,297.2 465,297.2 465.5,297.2 466,297.3 466.5,297.3 467,297.3 467.5,297.3 468,297.3 468.5,297.3 469,297.3 469.5,297.3 470,297.3 470.5,297.3 471,297.3 471.5,297.3 472,297.3 472.5,297.3 473,297.3 473.5,297.3 474,297.3 474.5,297.3 475,297.3 475.5,297.3 476,297.3 476.5,297.3 477,297.3 477.5,297.3 478,297.3 478.5,297.3 479,297.4 479.5,297.4 480,297.4 480.5,297.4 481,297.4 481.5,297.4 482,297.4 482.5,297.4 483,297.4 483.5,297.4 484,297.4 484.5,297.4 485,297.4 485.5,297.4 486,297.4 486.5,297.4 487,297.4 487.5,297.4 488,297.4 488.5,297.4 489,297.4 489.5,297.4 490,297.4 490.5,297.4 491,297.4 491.5,297.4 492,297.4 492.5,297.4 493,297.4 493.5,297.4 494,297.4 494.5,297.4 495,297.4 495.5,297.4 496,297.4 496.5,297.4 497,297.4 497.5,297.4 498,297.4 498.5,297.4 499,297.4 499.5,297.4 500,297.4 500.5,297.4 501,297.4 501.5,297.4 502,297.4 502.5,297.4 503,297.4 503.5,297.4 504,297.5 504.5,297.5 505,297.5 505.5,297.5 506,297.5 506.5,297.5 507,297.5 507.5,297.5 508,297.5 508.5,297.5 509,297.5 509.5,297.5 510,297.5 510.5,297.5 511,297.5 511.5,297.5 512,297.5 512.5,297.5 513,297.5 513.5,297.5 514,297.5 514.5,297.5 515,297.5 515.5,297.5 516,297.5 516.5,297.5 517,297.5 517.5,297.5 518,297.5 518.5,297.5 519,297.5 519.5,297.5 520,297.5 520.5,297.5 521,297.5 521.5,297.5 522,297.5 522.5,297.5 523,297.5 523.5,297.5 524,297.5 524.5,297.5 525,297.5 525.5,297.5 526,297.5 526.5,297.5 527,297.5 527.5,297.5 528,297.5 528.5,297.5 529,297.5 529.5,297.5 530,297.5 530.5,297.5 531,297.5 531.5,297.5 532,297.5 532.5,297.5 533,297.5 533.5,297.5 534,297.5 534.5,297.5 535,297.5 535.5,297.5 536,297.5 536.5,297.5 537,297.5 537.5,297.5 538,297.5 538.5,297.5 539,297.5 539.5,297.5 540,297.5 540.5,297.5" stroke="#e040e0" stroke-width="0.9"/>
<polyline points="380.5,296.6 381,296.6 381.5,296.6 382,296.6 382.5,296.5 383,296.5 383.5,296.5 384,296.5 384.5,296.5 385,296.5 385.5,296.5 386,296.5 386.5,296.5 387,296.5 387.5,296.5 388,296.5 388.5,296.5 389,296.5 389.5,296.5 390,296.5 390.5,296.5 391,296.5 391.5,296.5 392,296.5 392.5,296.5 393,296.5 393.5,296.5 394,296.5 394.5,296.5 395,296.5 395.5,296.5 396,296.5 396.5,296.5 397,296.5 397.5,296.5 398,296.5 398.5,296.5 399,296.5 399.5,296.5 400,296.5 400.5,296.5 401,296.5 401.5,296.5 402,296.5 402.5,296.4 403,296.4 403.5,296.4 404,296.4 404.5,296.4 405,296.4 405.5,296.4 406,296.4 406.5,296.4 407,296.4 407.5,296.4 408,296.4 408.5,296.4 409,296.4 409.5,296.4 410,296.4 410.5,296.4 411,296.4 411.5,296.4 412,296.4 412.5,296.4 413,296.4 413.5,296.4 414,296.4 414.5,296.4 415,296.4 415.5,296.4 416,296.4 416.5,296.4 417,296.4 417.5,296.4 418,296.4 418.5,296.4 419,296.4 419.5,296.4 420,296.4 420.5,296.4 421,296.3 421.5,296.3 422,296.3 422.5,296.3 423,296.3 423.5,296.3 424,296.3 424.5,296.3 425,296.3 425.5,296.3 426,296.3 426.5,296.3 427,296.3 427.5,296.3 428,296.3 428.5,296.3 429,296.3 429.5,296.3 430,296.3 430.5,296.3 431,296.3 431.5,296.3 432,296.3 432.5,296.3 433,296.3 433.5,296.3 434,296.3 434.5,296.3 435,296.3 435.5,296.3 436,296.3 436.5,296.3 437,296.2 437.5,296.2 438,296.2 438.5,296.2 439,296.2 439.5,296.2 440,296.2 440.5,296.2 441,296.2 441.5,296.2 442,296.2 442.5,296.2 443,296.2 443.5,296.2 444,296.2 444.5,296.2 445,296.2 445.5,296.2 446,296.2 446.5,296.2 447,296.2 447.5,296.2 448,296.2 448.5,296.2 449,296.1 449.5,296.1 450,296.1 450.5,296.1 451,296.1 451.5,296.1 452,296.1 452.5,296.1 453,296.1 453.5,296.1 454,296.1 454.5,296.1 455,296.1 455.5,296.1 456,296.1 456.5,296.1 457,296 457.5,296 458,296 458.5,296 459,296 459.5,296 460,296 460.5,296 461,296 461.5,296 462,296 462.5,295.9 463,295.9 463.5,295.9 464,295.9 464.5,295.9 465,295.9 465.5,295.9 466,295.8 466.5,295.8 467,295.8 467.5,295.8 468,295.8 468.5,295.7 469,295.7 469.5,295.7 470,295.7 470.5,295.6 471,295.6 471.5,295.6 472,295.5 472.5,295.5 473,295.4 473.5,295.4 474,295.3 474.5,295.2 475,295.1 475.5,295 476,294.9 476.5,294.7 477,294.5 477.5,294.3 478,294 478.5,293.6 479,293.1 479.5,292.6 480,292 480.5,291.2 481,290.4 481.5,289.4 482,288.3 482.5,287.1 483,285.8 483.5,284.4 484,283.1 484.5,281.7 485,280.4 485.5,279.2 486,278.3 486.5,277.6 487,277.2 487.5,277.2 488,277.6 488.5,278.3 489,279.3 489.5,280.4 490,281.7 490.5,283.1 491,284.5 491.5,285.8 492,287.1 492.5,288.3 493,289.4 493.5,290.3 494,291.2 494.5,291.9 495,292.6 495.5,293.1 496,293.5 496.5,293.9 497,294.2 497.5,294.4 498,294.6 498.5,294.8 499,294.9 499.5,295 500,295.1 500.5,295.2 501,295.2 501.5,295.3 502,295.3 502.5,295.4 503,295.4 503.5,295.4 504,295.5 504.5,295.5 505,295.5 505.5,295.5 506,295.6 506.5,295.6 507,295.6 507.5,295.6 508,295.6 508.5,295.6 509,295.7 509.5,295.7 510,295.7 510.5,295.7 511,295.7 511.5,295.7 512,295.7 512.5,295.7 513,295.7 513.5,295.7 514,295.7 514.5,295.7 515,295.7 515.5,295.8 516,295.8 516.5,295.8 517,295.8 517.5,295.8 518,295.8 518.5,295.8 519,295.8 519.5,295.8 520,295.8 520.5,295.8 521,295.8 521.5,295.8 522,295.8 522.5,295.8 523,295.8 523.5,295.8 524,295.8 524.5,295.8 525,295.8 525.5,295.8 526,295.8 526.5,295.8 527,295.8 527.5,295.8 528,295.8 528.5,295.8 529,295.8 529.5,295.8 530,295.8 530.5,295.8 531,295.8 531.5,295.8 532,295.8 532.5,295.8 533,295.8 533.5,295.8 534,295.8 534.5,295.8 535,295.8 535.5,295.8 536,295.8 536.5,295.8 537,295.8 537.5,295.8 538,295.8 538.5,295.8 539,295.8 539.5,295.8 540,295.8 540.5,295.8" stroke="#f2e63c" stroke-width="0.9"/>
<polyline points="380.5,296.5 381,296.5 381.5,296.5 382,296.5 382.5,296.5 383,296.5 383.5,296.5 384,296.5 384.5,296.5 385,296.5 385.5,296.5 386,296.5 386.5,296.5 387,296.5 387.5,296.5 388,296.5 388.5,296.5 389,296.5 389.5,296.5 390,296.5 390.5,296.5 391,296.5 391.5,296.5 392,296.5 392.5,296.5 393,296.5 393.5,296.5 394,296.5 394.5,296.5 395,296.5 395.5,296.5 396,296.4 396.5,296.4 397,296.4 397.5,296.4 398,296.4 398.5,296.4 399,296.4 399.5,296.4 400,296.4 400.5,296.4 401,296.4 401.5,296.4 402,296.4 402.5,296.4 403,296.4 403.5,296.4 404,296.4 404.5,296.4 405,296.4 405.5,296.4 406,296.4 406.5,296.4 407,296.4 407.5,296.4 408,296.4 408.5,296.4 409,296.4 409.5,296.4 410,296.4 410.5,296.4 411,296.4 411.5,296.4 412,296.4 412.5,296.4 413,296.4 413.5,296.4 414,296.4 414.5,296.4 415,296.4 415.5,296.4 416,296.4 416.5,296.3 417,296.3 417.5,296.3 418,296.3 418.5,296.3 419,296.3 419.5,296.3 420,296.3 420.5,296.3 421,296.3 421.5,296.3 422,296.3 422.5,296.3 423,296.3 423.5,296.3 424,296.3 424.5,296.3 425,296.3 425.5,296.3 426,296.3 426.5,296.3 427,296.3 427.5,296.3 428,296.3 428.5,296.3 429,296.3 429.5,296.3 430,296.3 430.5,296.3 431,296.3 431.5,296.3 432,296.3 432.5,296.3 433,296.3 433.5,296.3 434,296.3 434.5,296.3 435,296.3 435.5,296.3 436,296.3 436.5,296.2 437,296.2 437.5,296.2 438,296.2 438.5,296.2 439,296.2 439.5,296.2 440,296.2 440.5,296.2 441,296.2 441.5,296.2 442,296.2 442.5,296.2 443,296.2 443.5,296.2 444,296.2 444.5,296.2 445,296.2 445.5,296.2 446,296.2 446.5,296.2 447,296.2 447.5,296.2 448,296.2 448.5,296.2 449,296.2 449.5,296.2 450,296.2 450.5,296.2 451,296.2 451.5,296.2 452,296.2 452.5,296.2 453,296.2 453.5,296.2 454,296.2 454.5,296.1 455,296.1 455.5,296.1 456,296.1 456.5,296.1 457,296.1 457.5,296.1 458,296.1 458.5,296.1 459,296.1 459.5,296.1 460,296.1 460.5,296.1 461,296.1 461.5,296.1 462,296.1 462.5,296.1 463,296.1 463.5,296.1 464,296.1 464.5,296.1 465,296.1 465.5,296.1 466,296.1 466.5,296.1 467,296.1 467.5,296.1 468,296.1 468.5,296 469,296 469.5,296 470,296 470.5,296 471,296 471.5,296 472,296 472.5,296 473,296 473.5,296 474,296 474.5,296 475,296 475.5,296 476,296 476.5,296 477,296 477.5,295.9 478,295.9 478.5,295.9 479,295.9 479.5,295.9 480,295.9 480.5,295.9 481,295.9 481.5,295.9 482,295.9 482.5,295.9 483,295.8 483.5,295.8 484,295.8 484.5,295.8 485,295.8 485.5,295.8 486,295.8 486.5,295.7 487,295.7 487.5,295.7 488,295.7 488.5,295.6 489,295.6 489.5,295.6 490,295.5 490.5,295.5 491,295.5 491.5,295.4 492,295.3 492.5,295.2 493,295.2 493.5,295 494,294.9 494.5,294.8 495,294.6 495.5,294.4 496,294.1 496.5,293.8 497,293.5 497.5,293.2 498,292.8 498.5,292.4 499,291.9 499.5,291.4 500,290.9 500.5,290.4 501,289.9 501.5,289.5 502,289 502.5,288.7 503,288.4 503.5,288.2 504,288.2 504.5,288.3 505,288.5 505.5,288.8 506,289.2 506.5,289.6 507,290.1 507.5,290.6 508,291.1 508.5,291.6 509,292.1 509.5,292.5 510,292.9 510.5,293.3 511,293.6 511.5,293.9 512,294.2 512.5,294.4 513,294.6 513.5,294.7 514,294.9 514.5,295 515,295.1 515.5,295.2 516,295.2 516.5,295.3 517,295.4 517.5,295.4 518,295.4 518.5,295.5 519,295.5 519.5,295.5 520,295.5 520.5,295.5 521,295.6 521.5,295.6 522,295.6 522.5,295.6 523,295.6 523.5,295.6 524,295.6 524.5,295.6 525,295.7 525.5,295.7 526,295.7 526.5,295.7 527,295.7 527.5,295.7 528,295.7 528.5,295.7 529,295.7 529.5,295.7 530,295.7 530.5,295.7 531,295.7 531.5,295.7 532,295.7 532.5,295.7 533,295.7 533.5,295.7 534,295.7 534.5,295.7 535,295.7 535.5,295.7 536,295.7 536.5,295.7 537,295.7 537.5,295.7 538,295.7 538.5,295.7 539,295.7 539.5,295.7 540,295.7 540.5,295.7" stroke="#ff9f3c" stroke-width="0.9"/>
<polyline points="380.5,296.3 381,296.3 381.5,296.3 382,296.2 382.5,296.2 383,296.2 383.5,296.2 384,296.2 384.5,296.2 385,296.2 385.5,296.2 386,296.2 386.5,296.2 387,296.2 387.5,296.2 388,296.2 388.5,296.2 389,296.2 389.5,296.2 390,296.2 390.5,296.2 391,296.2 391.5,296.2 392,296.2 392.5,296.1 393,296.1 393.5,296.1 394,296.1 394.5,296.1 395,296.1 395.5,296.1 396,296.1 396.5,296.1 397,296.1 397.5,296.1 398,296.1 398.5,296.1 399,296.1 399.5,296.1 400,296 400.5,296 401,296 401.5,296 402,296 402.5,296 403,296 403.5,296 404,296 404.5,296 405,296 405.5,295.9 406,295.9 406.5,295.9 407,295.9 407.5,295.9 408,295.9 408.5,295.9 409,295.9 409.5,295.9 410,295.8 410.5,295.8 411,295.8 411.5,295.8 412,295.8 412.5,295.8 413,295.7 413.5,295.7 414,295.7 414.5,295.7 415,295.7 415.5,295.7 416,295.6 416.5,295.6 417,295.6 417.5,295.6 418,295.5 418.5,295.5 419,295.5 419.5,295.5 420,295.4 420.5,295.4 421,295.4 421.5,295.3 422,295.3 422.5,295.3 423,295.2 423.5,295.2 424,295.1 424.5,295.1 425,295 425.5,295 426,294.9 426.5,294.9 427,294.8 427.5,294.8 428,294.7 428.5,294.6 429,294.5 429.5,294.4 430,294.3 430.5,294.2 431,294.1 431.5,294 432,293.9 432.5,293.7 433,293.5 433.5,293.3 434,293.1 434.5,292.8 435,292.6 435.5,292.2 436,291.9 436.5,291.5 437,291 437.5,290.5 438,289.9 438.5,289.3 439,288.6 439.5,287.8 440,287 440.5,286.1 441,285.1 441.5,284 442,282.8 442.5,281.6 443,280.3 443.5,279 444,277.6 444.5,276.1 445,274.6 445.5,273.2 446,271.7 446.5,270.3 447,269 447.5,267.7 448,266.7 448.5,265.8 449,265.2 449.5,264.8 450,264.6 450.5,264.8 451,265.2 451.5,265.9 452,266.8 452.5,267.8 453,269.1 453.5,270.4 454,271.8 454.5,273.3 455,274.7 455.5,276.2 456,277.6 456.5,279 457,280.4 457.5,281.7 458,282.9 458.5,284 459,285.1 459.5,286.1 460,287 460.5,287.9 461,288.6 461.5,289.3 462,289.9 462.5,290.5 463,291 463.5,291.4 464,291.8 464.5,292.2 465,292.5 465.5,292.8 466,293 466.5,293.3 467,293.4 467.5,293.6 468,293.8 468.5,293.9 469,294 469.5,294.2 470,294.3 470.5,294.3 471,294.4 471.5,294.5 472,294.6 472.5,294.7 473,294.7 473.5,294.8 474,294.8 474.5,294.9 475,294.9 475.5,295 476,295 476.5,295.1 477,295.1 477.5,295.1 478,295.2 478.5,295.2 479,295.2 479.5,295.3 480,295.3 480.5,295.3 481,295.3 481.5,295.4 482,295.4 482.5,295.4 483,295.4 483.5,295.4 484,295.5 484.5,295.5 485,295.5 485.5,295.5 486,295.5 486.5,295.5 487,295.6 487.5,295.6 488,295.6 488.5,295.6 489,295.6 489.5,295.6 490,295.6 490.5,295.6 491,295.7 491.5,295.7 492,295.7 492.5,295.7 493,295.7 493.5,295.7 494,295.7 494.5,295.7 495,295.7 495.5,295.7 496,295.7 496.5,295.8 497,295.8 497.5,295.8 498,295.8 498.5,295.8 499,295.8 499.5,295.8 500,295.8 500.5,295.8 501,295.8 501.5,295.8 502,295.8 502.5,295.8 503,295.8 503.5,295.8 504,295.8 504.5,295.8 505,295.8 505.5,295.8 506,295.8 506.5,295.8 507,295.9 507.5,295.9 508,295.9 508.5,295.9 509,295.9 509.5,295.9 510,295.9 510.5,295.9 511,295.9 511.5,295.9 512,295.9 512.5,295.9 513,295.9 513.5,295.9 514,295.9 514.5,295.9 515,295.9 515.5,295.9 516,295.9 516.5,295.9 517,295.9 517.5,295.9 518,295.9 518.5,295.9 519,295.9 519.5,295.9 520,295.9 520.5,295.9 521,295.9 521.5,295.9 522,295.9 522.5,295.9 523,295.9 523.5,295.9 524,295.9 524.5,295.9 525,295.9 525.5,295.9 526,295.9 526.5,295.9 527,295.9 527.5,295.9 528,295.9 528.5,295.9 529,295.9 529.5,295.9 530,295.9 530.5,295.9 531,295.9 531.5,295.9 532,295.9 532.5,295.9 533,295.9 533.5,295.9 534,295.9 534.5,295.9 535,295.9 535.5,295.9 536,295.9 536.5,295.9 537,295.9 537.5,295.9 538,295.9 538.5,295.9 539,295.9 539.5,295.9 540,295.9 540.5,295.9" stroke="#3fc4f8" stroke-width="0.9"/>
<polyline points="380.5,296.5 381,296.5 381.5,296.5 382,296.5 382.5,296.5 383,296.5 383.5,296.5 384,296.5 384.5,296.5 385,296.5 385.5,296.5 386,296.5 386.5,296.5 387,296.5 387.5,296.5 388,296.5 388.5,296.5 389,296.5 389.5,296.5 390,296.5 390.5,296.5 391,296.5 391.5,296.5 392,296.5 392.5,296.5 393,296.4 393.5,296.4 394,296.4 394.5,296.4 395,296.4 395.5,296.4 396,296.4 396.5,296.4 397,296.4 397.5,296.4 398,296.4 398.5,296.4 399,296.4 399.5,296.4 400,296.4 400.5,296.4 401,296.4 401.5,296.4 402,296.4 402.5,296.4 403,296.4 403.5,296.4 404,296.4 404.5,296.4 405,296.4 405.5,296.4 406,296.4 406.5,296.3 407,296.3 407.5,296.3 408,296.3 408.5,296.3 409,296.3 409.5,296.3 410,296.3 410.5,296.3 411,296.3 411.5,296.3 412,296.3 412.5,296.3 413,296.3 413.5,296.3 414,296.3 414.5,296.3 415,296.3 415.5,296.3 416,296.3 416.5,296.2 417,296.2 417.5,296.2 418,296.2 418.5,296.2 419,296.2 419.5,296.2 420,296.2 420.5,296.2 421,296.2 421.5,296.2 422,296.2 422.5,296.2 423,296.2 423.5,296.2 424,296.1 424.5,296.1 425,296.1 425.5,296.1 426,296.1 426.5,296.1 427,296.1 427.5,296.1 428,296.1 428.5,296.1 429,296 429.5,296 430,296 430.5,296 431,296 431.5,296 432,296 432.5,296 433,295.9 433.5,295.9 434,295.9 434.5,295.9 435,295.9 435.5,295.8 436,295.8 436.5,295.8 437,295.8 437.5,295.7 438,295.7 438.5,295.7 439,295.7 439.5,295.6 440,295.6 440.5,295.6 441,295.5 441.5,295.5 442,295.4 442.5,295.4 443,295.3 443.5,295.3 444,295.2 444.5,295.1 445,295 445.5,295 446,294.9 446.5,294.8 447,294.6 447.5,294.5 448,294.4 448.5,294.2 449,294 449.5,293.7 450,293.5 450.5,293.1 451,292.7 451.5,292.2 452,291.5 452.5,290.7 453,289.6 453.5,288.3 454,286.6 454.5,284.6 455,282.2 455.5,279.5 456,276.4 456.5,273 457,269.4 457.5,265.9 458,262.7 458.5,260.3 459,258.9 459.5,258.9 460,260.2 460.5,262.7 461,265.8 461.5,269.3 462,272.9 462.5,276.3 463,279.4 463.5,282.2 464,284.5 464.5,286.5 465,288.2 465.5,289.5 466,290.6 466.5,291.4 467,292.1 467.5,292.6 468,293 468.5,293.4 469,293.6 469.5,293.9 470,294.1 470.5,294.2 471,294.4 471.5,294.5 472,294.6 472.5,294.7 473,294.8 473.5,294.9 474,295 474.5,295 475,295.1 475.5,295.2 476,295.2 476.5,295.2 477,295.3 477.5,295.3 478,295.4 478.5,295.4 479,295.4 479.5,295.5 480,295.5 480.5,295.5 481,295.5 481.5,295.5 482,295.6 482.5,295.6 483,295.6 483.5,295.6 484,295.6 484.5,295.6 485,295.7 485.5,295.7 486,295.7 486.5,295.7 487,295.7 487.5,295.7 488,295.7 488.5,295.7 489,295.7 489.5,295.7 490,295.7 490.5,295.7 491,295.8 491.5,295.8 492,295.8 492.5,295.8 493,295.8 493.5,295.8 494,295.8 494.5,295.8 495,295.8 495.5,295.8 496,295.8 496.5,295.8 497,295.8 497.5,295.8 498,295.8 498.5,295.8 499,295.8 499.5,295.8 500,295.8 500.5,295.8 501,295.8 501.5,295.8 502,295.8 502.5,295.8 503,295.8 503.5,295.8 504,295.8 504.5,295.8 505,295.8 505.5,295.8 506,295.8 506.5,295.8 507,295.8 507.5,295.8 508,295.8 508.5,295.8 509,295.8 509.5,295.8 510,295.8 510.5,295.8 511,295.8 511.5,295.8 512,295.8 512.5,295.8 513,295.8 513.5,295.8 514,295.8 514.5,295.8 515,295.8 515.5,295.8 516,295.8 516.5,295.8 517,295.8 517.5,295.8 518,295.8 518.5,295.8 519,295.8 519.5,295.8 520,295.8 520.5,295.8 521,295.8 521.5,295.8 522,295.8 522.5,295.8 523,295.8 523.5,295.8 524,295.8 524.5,295.8 525,295.8 525.5,295.8 526,295.8 526.5,295.8 527,295.8 527.5,295.8 528,295.8 528.5,295.8 529,295.8 529.5,295.8 530,295.8 530.5,295.8 531,295.8 531.5,295.7 532,295.7 532.5,295.7 533,295.7 533.5,295.7 534,295.7 534.5,295.7 535,295.7 535.5,295.7 536,295.7 536.5,295.7 537,295.7 537.5,295.7 538,295.7 538.5,295.7 539,295.7 539.5,295.7 540,295.7 540.5,295.7" stroke="#2fd6b4" stroke-width="0.9"/>
<polyline points="380.5,296.5 381,296.5 381.5,296.5 382,296.5 382.5,296.5 383,296.5 383.5,296.5 384,296.5 384.5,296.4 385,296.4 385.5,296.4 386,296.4 386.5,296.4 387,296.4 387.5,296.4 388,296.4 388.5,296.4 389,296.4 389.5,296.3 390,296.3 390.5,296.3 391,296.3 391.5,296.3 392,296.3 392.5,296.3 393,296.3 393.5,296.3 394,296.3 394.5,296.2 395,296.2 395.5,296.2 396,296.2 396.5,296.2 397,296.2 397.5,296.2 398,296.2 398.5,296.1 399,296.1 399.5,296.1 400,296.1 400.5,296.1 401,296.1 401.5,296.1 402,296 402.5,296 403,296 403.5,296 404,296 404.5,296 405,295.9 405.5,295.9 406,295.9 406.5,295.9 407,295.9 407.5,295.9 408,295.8 408.5,295.8 409,295.8 409.5,295.8 410,295.8 410.5,295.7 411,295.7 411.5,295.7 412,295.7 412.5,295.6 413,295.6 413.5,295.6 414,295.6 414.5,295.6 415,295.5 415.5,295.5 416,295.5 416.5,295.4 417,295.4 417.5,295.4 418,295.4 418.5,295.3 419,295.3 419.5,295.3 420,295.2 420.5,295.2 421,295.2 421.5,295.1 422,295.1 422.5,295 423,295 423.5,295 424,294.9 424.5,294.9 425,294.8 425.5,294.8 426,294.7 426.5,294.7 427,294.6 427.5,294.6 428,294.5 428.5,294.5 429,294.4 429.5,294.3 430,294.3 430.5,294.2 431,294.1 431.5,294 432,294 432.5,293.9 433,293.8 433.5,293.7 434,293.6 434.5,293.5 435,293.4 435.5,293.3 436,293.2 436.5,293.1 437,292.9 437.5,292.8 438,292.6 438.5,292.5 439,292.3 439.5,292.1 440,291.9 440.5,291.7 441,291.5 441.5,291.2 442,290.9 442.5,290.6 443,290.3 443.5,289.9 444,289.5 444.5,289 445,288.5 445.5,288 446,287.4 446.5,286.8 447,286 447.5,285.3 448,284.4 448.5,283.5 449,282.5 449.5,281.4 450,280.2 450.5,278.9 451,277.6 451.5,276.1 452,274.5 452.5,272.9 453,271.1 453.5,269.3 454,267.4 454.5,265.3 455,263.2 455.5,261 456,258.8 456.5,256.5 457,254.2 457.5,251.9 458,249.5 458.5,247.3 459,245 459.5,242.9 460,240.9 460.5,239.1 461,237.4 461.5,236.1 462,234.9 462.5,234.1 463,233.6 463.5,233.5 464,233.7 464.5,234.2 465,235.1 465.5,236.2 466,237.7 466.5,239.3 467,241.2 467.5,243.2 468,245.3 468.5,247.5 469,249.8 469.5,252.2 470,254.5 470.5,256.8 471,259.1 471.5,261.3 472,263.4 472.5,265.5 473,267.5 473.5,269.4 474,271.3 474.5,273 475,274.6 475.5,276.2 476,277.6 476.5,278.9 477,280.2 477.5,281.3 478,282.4 478.5,283.4 479,284.3 479.5,285.1 480,285.9 480.5,286.6 481,287.2 481.5,287.8 482,288.3 482.5,288.8 483,289.3 483.5,289.7 484,290 484.5,290.3 485,290.6 485.5,290.9 486,291.2 486.5,291.4 487,291.6 487.5,291.8 488,292 488.5,292.1 489,292.3 489.5,292.4 490,292.6 490.5,292.7 491,292.8 491.5,292.9 492,293 492.5,293.1 493,293.2 493.5,293.3 494,293.4 494.5,293.4 495,293.5 495.5,293.6 496,293.6 496.5,293.7 497,293.8 497.5,293.8 498,293.9 498.5,293.9 499,294 499.5,294 500,294.1 500.5,294.1 501,294.2 501.5,294.2 502,294.3 502.5,294.3 503,294.3 503.5,294.4 504,294.4 504.5,294.4 505,294.5 505.5,294.5 506,294.5 506.5,294.5 507,294.6 507.5,294.6 508,294.6 508.5,294.7 509,294.7 509.5,294.7 510,294.7 510.5,294.7 511,294.8 511.5,294.8 512,294.8 512.5,294.8 513,294.8 513.5,294.8 514,294.9 514.5,294.9 515,294.9 515.5,294.9 516,294.9 516.5,294.9 517,295 517.5,295 518,295 518.5,295 519,295 519.5,295 520,295 520.5,295 521,295 521.5,295.1 522,295.1 522.5,295.1 523,295.1 523.5,295.1 524,295.1 524.5,295.1 525,295.1 525.5,295.1 526,295.1 526.5,295.1 527,295.1 527.5,295.1 528,295.2 528.5,295.2 529,295.2 529.5,295.2 530,295.2 530.5,295.2 531,295.2 531.5,295.2 532,295.2 532.5,295.2 533,295.2 533.5,295.2 534,295.2 534.5,295.2 535,295.2 535.5,295.2 536,295.2 536.5,295.2 537,295.2 537.5,295.2 538,295.2 538.5,295.2 539,295.2 539.5,295.2 540,295.2 540.5,295.2" stroke="#86e63c" stroke-width="0.9"/>
<polyline points="380.5,294.2 381,294.2 381.5,294.2 382,294.2 382.5,294.2 383,294.2 383.5,294.2 384,294.2 384.5,294.2 385,294.2 385.5,294.2 386,294.2 386.5,294.1 387,294.1 387.5,294.1 388,294.1 388.5,294.1 389,294.1 389.5,294.1 390,294.1 390.5,294.1 391,294.1 391.5,294 392,294 392.5,294 393,294 393.5,294 394,294 394.5,294 395,293.9 395.5,293.9 396,293.9 396.5,293.9 397,293.9 397.5,293.8 398,293.8 398.5,293.8 399,293.8 399.5,293.7 400,293.7 400.5,293.7 401,293.6 401.5,293.6 402,293.6 402.5,293.5 403,293.5 403.5,293.4 404,293.4 404.5,293.3 405,293.2 405.5,293.2 406,293.1 406.5,293 407,292.9 407.5,292.8 408,292.7 408.5,292.6 409,292.4 409.5,292.2 410,292 410.5,291.8 411,291.6 411.5,291.3 412,291 412.5,290.7 413,290.4 413.5,289.9 414,289.5 414.5,289 415,288.5 415.5,287.8 416,287.2 416.5,286.5 417,285.7 417.5,284.8 418,283.9 418.5,282.9 419,281.8 419.5,280.7 420,279.4 420.5,278.1 421,276.8 421.5,275.3 422,273.8 422.5,272.2 423,270.6 423.5,268.9 424,267.1 424.5,265.4 425,263.6 425.5,261.7 426,259.9 426.5,258.1 427,256.2 427.5,254.5 428,252.7 428.5,251.1 429,249.5 429.5,248 430,246.7 430.5,245.5 431,244.4 431.5,243.6 432,242.9 432.5,242.4 433,242.1 433.5,242 434,242.1 434.5,242.5 435,243.1 435.5,243.8 436,244.7 436.5,245.8 437,247.1 437.5,248.5 438,250 438.5,251.6 439,253.3 439.5,255 440,256.8 440.5,258.7 441,260.5 441.5,262.3 442,264.2 442.5,266 443,267.8 443.5,269.5 444,271.2 444.5,272.8 445,274.4 445.5,275.9 446,277.3 446.5,278.7 447,280 447.5,281.2 448,282.3 448.5,283.4 449,284.4 449.5,285.3 450,286.1 450.5,286.9 451,287.6 451.5,288.3 452,288.9 452.5,289.4 453,289.9 453.5,290.3 454,290.7 454.5,291.1 455,291.4 455.5,291.7 456,292 456.5,292.2 457,292.4 457.5,292.6 458,292.8 458.5,292.9 459,293.1 459.5,293.2 460,293.3 460.5,293.4 461,293.5 461.5,293.6 462,293.7 462.5,293.7 463,293.8 463.5,293.8 464,293.9 464.5,293.9 465,294 465.5,294 466,294.1 466.5,294.1 467,294.2 467.5,294.2 468,294.2 468.5,294.3 469,294.3 469.5,294.3 470,294.4 470.5,294.4 471,294.4 471.5,294.4 472,294.5 472.5,294.5 473,294.5 473.5,294.5 474,294.5 474.5,294.6 475,294.6 475.5,294.6 476,294.6 476.5,294.6 477,294.7 477.5,294.7 478,294.7 478.5,294.7 479,294.7 479.5,294.8 480,294.8 480.5,294.8 481,294.8 481.5,294.8 482,294.8 482.5,294.8 483,294.9 483.5,294.9 484,294.9 484.5,294.9 485,294.9 485.5,294.9 486,294.9 486.5,294.9 487,295 487.5,295 488,295 488.5,295 489,295 489.5,295 490,295 490.5,295 491,295 491.5,295.1 492,295.1 492.5,295.1 493,295.1 493.5,295.1 494,295.1 494.5,295.1 495,295.1 495.5,295.1 496,295.1 496.5,295.1 497,295.2 497.5,295.2 498,295.2 498.5,295.2 499,295.2 499.5,295.2 500,295.2 500.5,295.2 501,295.2 501.5,295.2 502,295.2 502.5,295.2 503,295.2 503.5,295.3 504,295.3 504.5,295.3 505,295.3 505.5,295.3 506,295.3 506.5,295.3 507,295.3 507.5,295.3 508,295.3 508.5,295.3 509,295.3 509.5,295.3 510,295.3 510.5,295.3 511,295.4 511.5,295.4 512,295.4 512.5,295.4 513,295.4 513.5,295.4 514,295.4 514.5,295.4 515,295.4 515.5,295.4 516,295.4 516.5,295.4 517,295.4 517.5,295.4 518,295.4 518.5,295.4 519,295.4 519.5,295.5 520,295.5 520.5,295.5 521,295.5 521.5,295.5 522,295.5 522.5,295.5 523,295.5 523.5,295.5 524,295.5 524.5,295.5 525,295.5 525.5,295.5 526,295.5 526.5,295.5 527,295.5 527.5,295.5 528,295.5 528.5,295.5 529,295.5 529.5,295.6 530,295.6 530.5,295.6 531,295.6 531.5,295.6 532,295.6 532.5,295.6 533,295.6 533.5,295.6 534,295.6 534.5,295.6 535,295.6 535.5,295.6 536,295.6 536.5,295.6 537,295.6 537.5,295.6 538,295.6 538.5,295.6 539,295.6 539.5,295.6 540,295.7 540.5,295.7" stroke="#3b5cff" stroke-width="0.9"/>
<polyline points="380.5,293.8 381,293.7 381.5,293.7 382,293.6 382.5,293.5 383,293.5 383.5,293.4 384,293.3 384.5,293.3 385,293.2 385.5,293.1 386,293 386.5,293 387,292.9 387.5,292.8 388,292.7 388.5,292.6 389,292.5 389.5,292.4 390,292.3 390.5,292.2 391,292.1 391.5,292 392,291.9 392.5,291.8 393,291.7 393.5,291.6 394,291.4 394.5,291.3 395,291.2 395.5,291 396,290.9 396.5,290.7 397,290.5 397.5,290.4 398,290.2 398.5,290 399,289.7 399.5,289.5 400,289.3 400.5,289 401,288.7 401.5,288.4 402,288.1 402.5,287.8 403,287.4 403.5,287 404,286.6 404.5,286.2 405,285.8 405.5,285.3 406,284.8 406.5,284.2 407,283.6 407.5,283 408,282.4 408.5,281.8 409,281.1 409.5,280.4 410,279.6 410.5,278.9 411,278.1 411.5,277.3 412,276.5 412.5,275.7 413,274.8 413.5,274 414,273.1 414.5,272.3 415,271.5 415.5,270.6 416,269.8 416.5,269 417,268.2 417.5,267.4 418,266.5 418.5,265.6 419,264.7 419.5,263.8 420,262.8 420.5,261.8 421,260.7 421.5,259.5 422,258.3 422.5,257 423,255.7 423.5,254.3 424,252.8 424.5,251.3 425,249.7 425.5,248.1 426,246.4 426.5,244.8 427,243.1 427.5,241.5 428,239.8 428.5,238.2 429,236.7 429.5,235.3 430,233.9 430.5,232.7 431,231.6 431.5,230.6 432,229.8 432.5,229.1 433,228.6 433.5,228.3 434,228.2 434.5,228.2 435,228.4 435.5,228.7 436,229.1 436.5,229.6 437,230.3 437.5,231 438,231.7 438.5,232.5 439,233.2 439.5,233.9 440,234.6 440.5,235.2 441,235.7 441.5,236.1 442,236.4 442.5,236.6 443,236.7 443.5,236.6 444,236.4 444.5,236 445,235.5 445.5,234.9 446,234.2 446.5,233.5 447,232.6 447.5,231.8 448,230.9 448.5,230.1 449,229.3 449.5,228.6 450,227.8 450.5,227.1 451,226.3 451.5,225.5 452,224.4 452.5,223.1 453,221.5 453.5,219.6 454,217.2 454.5,214.4 455,211.2 455.5,207.5 456,203.5 456.5,199.2 457,194.9 457.5,190.8 458,187.1 458.5,184.3 459,182.5 459.5,182 460,182.8 460.5,184.6 461,187.3 461.5,190.4 462,193.9 462.5,197.6 463,201.3 463.5,204.9 464,208.4 464.5,211.8 465,215.1 465.5,218.3 466,221.4 466.5,224.4 467,227.3 467.5,230.1 468,232.9 468.5,235.6 469,238.2 469.5,240.8 470,243.3 470.5,245.7 471,248.1 471.5,250.3 472,252.5 472.5,254.6 473,256.7 473.5,258.6 474,260.4 474.5,262.1 475,263.7 475.5,265.2 476,266.5 476.5,267.7 477,268.9 477.5,269.8 478,270.7 478.5,271.4 479,271.9 479.5,272.4 480,272.6 480.5,272.8 481,272.8 481.5,272.7 482,272.4 482.5,272 483,271.6 483.5,271 484,270.4 484.5,269.7 485,269 485.5,268.3 486,267.7 486.5,267.2 487,266.8 487.5,266.6 488,266.5 488.5,266.7 489,267.1 489.5,267.7 490,268.5 490.5,269.5 491,270.6 491.5,271.7 492,272.9 492.5,274.1 493,275.3 493.5,276.5 494,277.5 494.5,278.5 495,279.4 495.5,280.2 496,280.9 496.5,281.5 497,281.9 497.5,282.2 498,282.5 498.5,282.6 499,282.6 499.5,282.6 500,282.5 500.5,282.3 501,282.1 501.5,281.9 502,281.7 502.5,281.5 503,281.4 503.5,281.4 504,281.4 504.5,281.5 505,281.7 505.5,282.1 506,282.5 506.5,282.9 507,283.5 507.5,284 508,284.6 508.5,285.2 509,285.7 509.5,286.3 510,286.8 510.5,287.3 511,287.7 511.5,288.1 512,288.4 512.5,288.7 513,288.9 513.5,289.1 514,289.3 514.5,289.4 515,289.5 515.5,289.7 516,289.8 516.5,289.9 517,290.1 517.5,290.3 518,290.5 518.5,290.7 519,290.9 519.5,291.2 520,291.5 520.5,291.7 521,292 521.5,292.2 522,292.5 522.5,292.7 523,292.9 523.5,293.1 524,293.3 524.5,293.4 525,293.6 525.5,293.7 526,293.8 526.5,293.9 527,294 527.5,294.1 528,294.2 528.5,294.3 529,294.3 529.5,294.4 530,294.5 530.5,294.5 531,294.6 531.5,294.6 532,294.7 532.5,294.7 533,294.8 533.5,294.8 534,294.9 534.5,294.9 535,294.9 535.5,295 536,295 536.5,295 537,295.1 537.5,295.1 538,295.1 538.5,295.2 539,295.2 539.5,295.2 540,295.3 540.5,295.3" stroke="#9c4650" stroke-width="1.0"/>
</g>
<rect x="380.5" y="173.2" width="160.1" height="128.3" fill="none" stroke="#7a7a7a" stroke-width="1.3"/>
<text transform="translate(380.5,310.3) scale(1,1.22)" font-size="5.4" text-anchor="middle" fill="#222" stroke="#222" stroke-width="0.15">3100</text>
<text transform="translate(405,310.3) scale(1,1.22)" font-size="5.4" text-anchor="middle" fill="#222" stroke="#222" stroke-width="0.15">3050</text>
<text transform="translate(429.5,310.3) scale(1,1.22)" font-size="5.4" text-anchor="middle" fill="#222" stroke="#222" stroke-width="0.15">3000</text>
<text transform="translate(454.1,310.3) scale(1,1.22)" font-size="5.4" text-anchor="middle" fill="#222" stroke="#222" stroke-width="0.15">2950</text>
<text transform="translate(478.6,310.3) scale(1,1.22)" font-size="5.4" text-anchor="middle" fill="#222" stroke="#222" stroke-width="0.15">2900</text>
<text transform="translate(503.1,310.3) scale(1,1.22)" font-size="5.4" text-anchor="middle" fill="#222" stroke="#222" stroke-width="0.15">2850</text>
<text transform="translate(527.6,310.3) scale(1,1.22)" font-size="5.4" text-anchor="middle" fill="#222" stroke="#222" stroke-width="0.15">2800</text>
<path d="M380.5 301.8v2.6 M392.8 301.8v1.3 M405 301.8v2.6 M417.3 301.8v1.3 M429.5 301.8v2.6 M441.8 301.8v1.3 M454.1 301.8v2.6 M466.3 301.8v1.3 M478.6 301.8v2.6 M490.8 301.8v1.3 M503.1 301.8v2.6 M515.3 301.8v1.3 M527.6 301.8v2.6 M539.9 301.8v1.3" stroke="#222" stroke-width="0.95" fill="none"/>
<text x="460.6" y="320.3" font-size="5.4" text-anchor="middle" fill="#222" stroke="#222" stroke-width="0.12">Raman shift (cm<tspan font-size="3.4" dx="0.7" dy="-2.1">-1</tspan><tspan dx="0.3" dy="2.1">)</tspan></text>
<text transform="translate(375.8,237.8) rotate(-90)" font-size="5.4" text-anchor="middle" fill="#222" stroke="#222" stroke-width="0.12">Intensity, A.U.</text>
<text transform="translate(371.6,179.5) scale(0.8,1)" font-size="7.9" font-weight="bold" fill="#111" stroke="#111" stroke-width="0.3">l</text>
<text x="538" y="180.7" font-size="6.75" text-anchor="end" fill="#111" stroke="#111" stroke-width="0.18">LiTFSI+G1.5 in PC</text>
<text transform="translate(437.6,182.3) scale(1,1.15)" font-size="4.75" fill="#222" stroke="#222" stroke-width="0.15">2940 cm<tspan font-size="3" dx="0.8" dy="-1.75">-1</tspan></text>
<text transform="translate(431,219.9) scale(1,1.15)" font-size="4.75" fill="#222" stroke="#222" stroke-width="0.15">2959 cm<tspan font-size="3" dx="0.8" dy="-1.75">-1</tspan></text>
<text transform="translate(413.8,225.9) scale(1,1.15)" font-size="4.75" fill="#222" stroke="#222" stroke-width="0.15">2993 cm<tspan font-size="3" dx="0.8" dy="-1.75">-1</tspan></text>
<text transform="translate(467.9,213.9) scale(1,1.15)" font-size="4.75" fill="#222" stroke="#222" stroke-width="0.15">2931 cm<tspan font-size="3" dx="0.8" dy="-1.75">-1</tspan></text>
<text transform="translate(393.8,268.9) scale(1,1.15)" font-size="4.75" fill="#222" stroke="#222" stroke-width="0.15">3027 cm<tspan font-size="3" dx="0.8" dy="-1.75">-1</tspan></text>
<text transform="translate(484,260.3) scale(1,1.15)" font-size="4.75" fill="#222" stroke="#222" stroke-width="0.15">2882 cm<tspan font-size="3" dx="0.8" dy="-1.75">-1</tspan></text>
<text transform="translate(502.3,278.5) scale(1,1.15)" font-size="4.75" fill="#222" stroke="#222" stroke-width="0.15">2848 cm<tspan font-size="3" dx="0.8" dy="-1.75">-1</tspan></text>
<text transform="translate(514.2,285.1) scale(1,1.15)" font-size="4.75" fill="#222" stroke="#222" stroke-width="0.15">2828 cm<tspan font-size="3" dx="0.8" dy="-1.75">-1</tspan></text>
<line x1="443.6" y1="221" x2="450.2" y2="268" stroke="#333" stroke-width="0.6" marker-end="url(#arr)"/>
</svg>
</body></html>
